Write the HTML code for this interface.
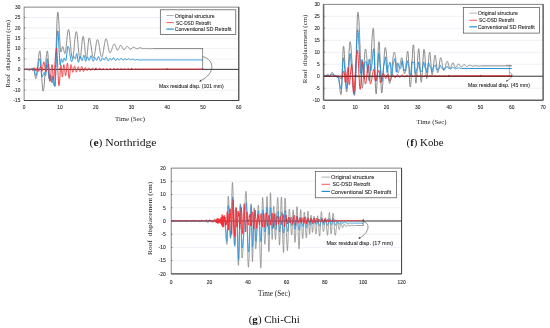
<!DOCTYPE html>
<html><head><meta charset="utf-8"><title>Roof displacement time histories</title>
<style>
html,body{margin:0;padding:0;background:#fff}
svg{display:block}
.sn{font-family:"Liberation Sans",sans-serif;fill:#1c1c1c;stroke:#1c1c1c;stroke-width:.08px}
.sf{font-family:"Liberation Serif",serif;fill:#222}
.cap{fill:#111}
</style></head><body>
<svg width="550" height="328" viewBox="0 0 550 328">
<rect width="550" height="328" fill="#fff"/>
<line x1="24.1" y1="90.12" x2="238.8" y2="90.12" stroke="#e6ebf4" stroke-width="0.7"/>
<line x1="24.1" y1="79.74" x2="238.8" y2="79.74" stroke="#e6ebf4" stroke-width="0.7"/>
<line x1="24.1" y1="58.99" x2="238.8" y2="58.99" stroke="#e6ebf4" stroke-width="0.7"/>
<line x1="24.1" y1="48.61" x2="238.8" y2="48.61" stroke="#e6ebf4" stroke-width="0.7"/>
<line x1="24.1" y1="38.23" x2="238.8" y2="38.23" stroke="#e6ebf4" stroke-width="0.7"/>
<line x1="24.1" y1="27.86" x2="238.8" y2="27.86" stroke="#e6ebf4" stroke-width="0.7"/>
<line x1="24.1" y1="17.48" x2="238.8" y2="17.48" stroke="#e6ebf4" stroke-width="0.7"/>
<line x1="24.1" y1="69.37" x2="238.8" y2="69.37" stroke="#1c1c1c" stroke-width="0.9"/>
<polyline points="24.1,69.4 24.2,69.4 24.4,69.4 24.5,69.3 24.7,69.3 24.8,69.3 24.9,69.3 25.1,69.3 25.2,69.3 25.4,69.2 25.5,69.2 25.7,69.2 25.8,69.2 25.9,69.1 26.1,69.1 26.2,69.1 26.4,69.1 26.5,69.1 26.6,69.1 26.8,69.1 26.9,69.1 27.1,69.1 27.2,69.1 27.3,69.2 27.5,69.2 27.6,69.3 27.8,69.4 27.9,69.4 28.1,69.5 28.2,69.6 28.3,69.6 28.5,69.7 28.6,69.8 28.8,69.8 28.9,69.9 29.0,69.9 29.2,70.0 29.3,70.0 29.5,70.0 29.6,70.0 29.7,70.0 29.9,69.9 30.0,69.9 30.2,69.8 30.3,69.8 30.5,69.7 30.6,69.6 30.7,69.6 30.9,69.5 31.0,69.4 31.2,69.3 31.3,69.2 31.4,69.1 31.6,69.0 31.7,68.8 31.9,68.7 32.0,68.7 32.1,68.6 32.3,68.5 32.4,68.4 32.6,68.3 32.7,68.3 32.8,68.2 33.0,68.2 33.1,68.1 33.3,68.1 33.4,68.1 33.6,68.2 33.7,68.5 33.8,68.9 34.0,69.5 34.1,70.2 34.3,71.1 34.4,72.0 34.6,72.9 34.7,73.9 34.9,74.9 35.0,75.8 35.2,76.6 35.3,77.3 35.5,77.9 35.6,78.3 35.8,78.6 35.9,78.7 36.0,78.6 36.2,78.4 36.3,77.9 36.5,77.3 36.6,76.6 36.8,75.7 36.9,74.6 37.0,73.5 37.2,72.2 37.3,70.8 37.5,69.4 37.6,67.9 37.7,66.4 37.9,64.8 38.0,63.2 38.2,61.7 38.3,60.2 38.4,58.8 38.6,57.4 38.7,56.1 38.9,55.0 39.0,53.9 39.1,53.0 39.3,52.3 39.4,51.7 39.6,51.2 39.7,51.0 39.8,50.9 40.0,51.1 40.1,51.7 40.3,52.7 40.4,54.1 40.6,55.8 40.7,57.8 40.9,60.1 41.0,62.7 41.2,65.4 41.3,68.2 41.5,71.0 41.6,73.9 41.7,76.7 41.9,79.4 42.0,81.9 42.2,84.2 42.3,86.2 42.5,88.0 42.6,89.3 42.8,90.3 42.9,91.0 43.1,91.2 43.2,91.0 43.4,90.7 43.5,90.2 43.6,89.4 43.8,88.5 43.9,87.3 44.1,86.0 44.2,84.5 44.4,82.9 44.5,81.1 44.6,79.2 44.8,77.2 44.9,75.2 45.1,73.1 45.2,71.0 45.4,68.9 45.5,66.8 45.6,64.8 45.8,62.8 45.9,61.0 46.1,59.2 46.2,57.6 46.4,56.1 46.5,54.7 46.6,53.6 46.8,52.6 46.9,51.9 47.1,51.3 47.2,51.0 47.4,50.9 47.5,51.1 47.6,51.8 47.8,52.9 47.9,54.4 48.1,56.2 48.2,58.4 48.3,60.7 48.5,63.2 48.6,65.8 48.8,68.4 48.9,70.9 49.0,73.3 49.2,75.4 49.3,77.3 49.4,78.8 49.6,79.9 49.7,80.6 49.9,80.8 50.0,80.7 50.2,80.5 50.3,80.2 50.5,79.7 50.6,79.2 50.8,78.7 50.9,78.2 51.1,77.7 51.2,77.2 51.4,76.9 51.5,76.7 51.7,76.6 51.8,76.7 51.9,76.9 52.1,77.1 52.2,77.5 52.4,78.0 52.5,78.6 52.7,79.2 52.8,79.9 52.9,80.6 53.1,81.3 53.2,82.0 53.4,82.7 53.5,83.4 53.7,84.0 53.8,84.6 53.9,85.1 54.1,85.5 54.2,85.7 54.4,85.9 54.5,86.0 54.7,85.6 54.8,84.6 54.9,82.9 55.1,80.6 55.2,77.7 55.4,74.2 55.5,70.3 55.6,66.0 55.8,61.4 55.9,56.5 56.1,51.5 56.2,46.5 56.3,41.5 56.5,36.7 56.6,32.0 56.8,27.7 56.9,23.8 57.0,20.4 57.2,17.5 57.3,15.1 57.5,13.5 57.6,12.4 57.7,12.1 57.9,12.3 58.0,12.8 58.2,13.7 58.3,15.0 58.4,16.6 58.6,18.4 58.7,20.6 58.9,22.9 59.0,25.4 59.1,28.0 59.3,30.7 59.4,33.5 59.6,36.2 59.7,38.8 59.8,41.3 60.0,43.7 60.1,45.8 60.3,47.6 60.4,49.2 60.5,50.5 60.7,51.4 60.8,52.0 61.0,52.1 61.1,52.0 61.3,51.8 61.4,51.3 61.6,50.7 61.7,50.1 61.9,49.3 62.0,48.6 62.1,47.9 62.3,47.4 62.4,46.9 62.6,46.6 62.7,46.5 62.9,46.6 63.0,46.8 63.2,47.2 63.3,47.7 63.5,48.3 63.6,49.0 63.7,49.7 63.9,50.4 64.0,51.2 64.2,51.8 64.3,52.4 64.5,52.9 64.6,53.3 64.7,53.5 64.9,53.6 65.0,53.5 65.2,53.2 65.3,52.7 65.5,52.1 65.6,51.3 65.8,50.3 65.9,49.2 66.0,48.0 66.2,46.7 66.3,45.3 66.5,43.8 66.6,42.3 66.8,40.8 66.9,39.3 67.0,37.8 67.2,36.4 67.3,35.1 67.5,33.9 67.6,32.8 67.8,31.8 67.9,31.0 68.0,30.4 68.2,29.9 68.3,29.6 68.5,29.5 68.6,29.6 68.8,29.9 68.9,30.4 69.1,31.1 69.2,31.9 69.3,32.9 69.5,34.0 69.6,35.3 69.8,36.7 69.9,38.2 70.1,39.8 70.2,41.4 70.4,43.1 70.5,44.8 70.7,46.4 70.8,48.1 70.9,49.7 71.1,51.2 71.2,52.6 71.4,53.8 71.5,55.0 71.7,56.0 71.8,56.8 72.0,57.5 72.1,58.0 72.3,58.3 72.4,58.4 72.6,58.3 72.7,58.0 72.8,57.6 73.0,56.9 73.1,56.2 73.3,55.2 73.4,54.2 73.6,53.0 73.7,51.7 73.9,50.3 74.0,48.8 74.2,47.3 74.3,45.8 74.4,44.2 74.6,42.7 74.7,41.1 74.9,39.7 75.0,38.3 75.2,37.0 75.3,35.8 75.5,34.7 75.6,33.8 75.8,33.0 75.9,32.4 76.1,32.0 76.2,31.7 76.3,31.6 76.5,31.7 76.6,32.0 76.8,32.6 76.9,33.3 77.1,34.2 77.2,35.3 77.3,36.6 77.5,38.0 77.6,39.5 77.8,41.1 77.9,42.7 78.1,44.4 78.2,46.2 78.3,47.9 78.5,49.5 78.6,51.1 78.8,52.6 78.9,54.0 79.1,55.3 79.2,56.4 79.3,57.3 79.5,58.0 79.6,58.6 79.8,58.9 79.9,59.0 80.1,58.9 80.2,58.6 80.3,58.1 80.5,57.3 80.6,56.5 80.8,55.4 80.9,54.2 81.0,52.9 81.2,51.5 81.3,50.0 81.5,48.4 81.6,46.9 81.7,45.4 81.9,43.9 82.0,42.5 82.2,41.2 82.3,40.0 82.4,38.9 82.6,38.0 82.7,37.3 82.9,36.8 83.0,36.5 83.1,36.4 83.3,36.5 83.4,36.8 83.6,37.4 83.7,38.1 83.9,39.1 84.0,40.2 84.2,41.4 84.3,42.8 84.5,44.3 84.6,45.8 84.8,47.4 84.9,48.9 85.0,50.5 85.2,51.9 85.3,53.3 85.5,54.6 85.6,55.7 85.8,56.6 85.9,57.4 86.1,57.9 86.2,58.3 86.4,58.4 86.5,58.2 86.6,57.9 86.8,57.3 86.9,56.4 87.1,55.4 87.2,54.2 87.4,52.8 87.5,51.3 87.7,49.8 87.8,48.2 87.9,46.6 88.1,45.1 88.2,43.6 88.4,42.2 88.5,41.0 88.7,40.0 88.8,39.1 88.9,38.5 89.1,38.2 89.2,38.0 89.4,38.1 89.5,38.2 89.7,38.5 89.8,38.9 89.9,39.4 90.1,39.9 90.2,40.6 90.4,41.3 90.5,42.1 90.7,43.0 90.8,43.9 90.9,44.9 91.1,45.9 91.2,46.9 91.4,48.0 91.5,49.0 91.7,50.1 91.8,51.1 91.9,52.0 92.1,53.0 92.2,53.8 92.4,54.7 92.5,55.4 92.7,56.0 92.8,56.6 92.9,57.1 93.1,57.5 93.2,57.7 93.4,57.9 93.5,58.0 93.7,57.9 93.8,57.7 93.9,57.4 94.1,57.0 94.2,56.6 94.4,56.0 94.5,55.3 94.6,54.5 94.8,53.7 94.9,52.8 95.1,51.8 95.2,50.9 95.3,49.8 95.5,48.8 95.6,47.8 95.8,46.8 95.9,45.8 96.1,44.9 96.2,44.0 96.3,43.1 96.5,42.4 96.6,41.7 96.8,41.1 96.9,40.6 97.0,40.2 97.2,39.9 97.3,39.7 97.5,39.7 97.6,39.7 97.7,39.9 97.9,40.1 98.0,40.4 98.2,40.8 98.3,41.3 98.5,41.9 98.6,42.5 98.7,43.2 98.9,44.0 99.0,44.8 99.2,45.6 99.3,46.5 99.5,47.4 99.6,48.3 99.7,49.2 99.9,50.1 100.0,51.0 100.2,51.8 100.3,52.6 100.5,53.4 100.6,54.1 100.7,54.7 100.9,55.3 101.0,55.8 101.2,56.2 101.3,56.5 101.5,56.7 101.6,56.9 101.7,56.9 101.9,56.9 102.0,56.7 102.2,56.5 102.3,56.1 102.5,55.7 102.6,55.2 102.8,54.6 102.9,53.9 103.0,53.2 103.2,52.4 103.3,51.6 103.5,50.7 103.6,49.8 103.8,48.8 103.9,47.9 104.0,46.9 104.2,46.0 104.3,45.1 104.5,44.2 104.6,43.4 104.8,42.6 104.9,41.8 105.0,41.2 105.2,40.6 105.3,40.1 105.5,39.6 105.6,39.3 105.8,39.1 105.9,38.9 106.0,38.9 106.2,38.9 106.3,39.0 106.5,39.2 106.6,39.5 106.7,39.9 106.9,40.4 107.0,40.9 107.2,41.5 107.3,42.1 107.4,42.8 107.6,43.5 107.7,44.3 107.9,45.0 108.0,45.8 108.2,46.6 108.3,47.4 108.4,48.1 108.6,48.8 108.7,49.5 108.9,50.1 109.0,50.7 109.1,51.2 109.3,51.7 109.4,52.1 109.6,52.4 109.7,52.6 109.8,52.7 110.0,52.8 110.1,52.7 110.3,52.7 110.4,52.5 110.6,52.4 110.7,52.2 110.8,51.9 111.0,51.6 111.1,51.3 111.3,51.0 111.4,50.6 111.6,50.2 111.7,49.8 111.8,49.3 112.0,48.9 112.1,48.4 112.3,47.9 112.4,47.5 112.6,47.1 112.7,46.6 112.8,46.2 113.0,45.8 113.1,45.5 113.3,45.2 113.4,44.9 113.6,44.6 113.7,44.4 113.8,44.3 114.0,44.1 114.1,44.1 114.3,44.0 114.4,44.1 114.6,44.2 114.7,44.3 114.8,44.5 115.0,44.7 115.1,45.0 115.3,45.3 115.4,45.7 115.5,46.0 115.7,46.4 115.8,46.8 116.0,47.3 116.1,47.7 116.2,48.1 116.4,48.4 116.5,48.8 116.7,49.1 116.8,49.4 116.9,49.6 117.1,49.8 117.2,50.0 117.4,50.0 117.5,50.1 117.6,50.0 117.8,50.0 117.9,49.8 118.1,49.7 118.2,49.5 118.4,49.2 118.5,49.0 118.7,48.7 118.8,48.3 119.0,48.0 119.1,47.7 119.3,47.3 119.4,47.0 119.5,46.7 119.7,46.4 119.8,46.1 120.0,45.9 120.1,45.7 120.3,45.5 120.4,45.4 120.6,45.3 120.7,45.3 120.9,45.3 121.0,45.4 121.2,45.5 121.3,45.6 121.4,45.8 121.6,46.0 121.7,46.3 121.9,46.6 122.0,46.9 122.2,47.2 122.3,47.5 122.5,47.8 122.6,48.1 122.8,48.4 122.9,48.6 123.1,48.9 123.2,49.1 123.3,49.3 123.5,49.5 123.6,49.6 123.8,49.6 123.9,49.6 124.1,49.6 124.2,49.6 124.4,49.5 124.5,49.4 124.6,49.3 124.8,49.1 124.9,48.9 125.1,48.8 125.2,48.5 125.3,48.3 125.5,48.1 125.6,47.9 125.8,47.7 125.9,47.4 126.0,47.2 126.2,47.0 126.3,46.9 126.5,46.7 126.6,46.6 126.7,46.5 126.9,46.4 127.0,46.3 127.2,46.3 127.3,46.3 127.4,46.4 127.6,46.5 127.7,46.6 127.9,46.7 128.0,46.8 128.2,47.0 128.3,47.2 128.5,47.4 128.6,47.6 128.8,47.8 128.9,48.0 129.1,48.2 129.2,48.4 129.4,48.6 129.5,48.7 129.6,48.9 129.8,49.0 129.9,49.1 130.1,49.2 130.2,49.2 130.4,49.2 130.5,49.2 130.7,49.2 130.8,49.1 130.9,49.1 131.1,49.0 131.2,48.9 131.4,48.8 131.5,48.7 131.6,48.5 131.8,48.4 131.9,48.3 132.1,48.1 132.2,48.0 132.3,47.8 132.5,47.7 132.6,47.6 132.8,47.5 132.9,47.4 133.0,47.3 133.2,47.2 133.3,47.2 133.5,47.2 133.6,47.2 133.7,47.2 133.9,47.2 134.0,47.2 134.2,47.3 134.3,47.4 134.5,47.4 134.6,47.5 134.8,47.6 134.9,47.8 135.1,47.9 135.2,48.0 135.4,48.1 135.5,48.2 135.6,48.3 135.8,48.4 135.9,48.5 136.1,48.6 136.2,48.7 136.4,48.7 136.5,48.8 136.7,48.8 136.8,48.8 137.0,48.8 137.1,48.8 137.3,48.8 137.4,48.7 137.5,48.7 137.7,48.6 137.8,48.6 138.0,48.5 138.1,48.4 138.3,48.4 138.4,48.3 138.6,48.2 138.7,48.2 138.9,48.1 139.0,48.0 139.2,48.0 139.3,47.9 139.5,47.9 139.6,47.8 139.7,47.8 139.9,47.8 140.0,47.8 140.2,47.8 140.3,47.8 140.5,47.8 140.6,47.8 140.8,47.9 140.9,47.9 141.1,48.0 141.2,48.0 141.4,48.1 141.5,48.1 141.6,48.2 141.8,48.3 141.9,48.3 142.1,48.4 142.2,48.4 142.4,48.5 142.5,48.5 142.7,48.5 142.8,48.6 143.0,48.6 143.1,48.6 143.3,48.6 143.4,48.6 143.5,48.6 143.7,48.6 143.8,48.6 144.0,48.6 144.1,48.6 144.2,48.6 144.4,48.6 144.5,48.5 144.7,48.5 144.8,48.5 144.9,48.5 145.1,48.5 145.2,48.5 145.4,48.5 145.5,48.4 145.6,48.4 145.8,48.4 145.9,48.4 146.1,48.4 146.2,48.4 146.3,48.4 146.5,48.4 146.6,48.4 146.8,48.4 146.9,48.4 147.1,48.4 147.2,48.4 147.4,48.5 147.5,48.5 147.7,48.5 147.8,48.5 147.9,48.5 148.1,48.6 148.2,48.6 148.4,48.6 148.5,48.6 148.7,48.6 148.8,48.7 149.0,48.7 149.1,48.7 149.3,48.7 149.4,48.7 149.6,48.7 149.7,48.7 149.8,48.7 150.0,48.7 150.1,48.7 150.3,48.7 150.4,48.7 150.6,48.7 150.7,48.7 150.9,48.7 151.0,48.7 151.2,48.7 151.3,48.7 151.5,48.7 151.6,48.6 151.7,48.6 151.9,48.6 152.0,48.6 152.2,48.6 152.3,48.6 152.5,48.6 152.6,48.6 152.8,48.6 152.9,48.6 203.0,48.6" fill="none" stroke="#7a7a7a" stroke-width="0.9" stroke-linejoin="round"/>
<polyline points="24.1,69.4 24.2,69.4 24.4,69.4 24.5,69.4 24.7,69.4 24.8,69.4 24.9,69.4 25.1,69.4 25.2,69.4 25.4,69.4 25.5,69.4 25.7,69.4 25.8,69.5 25.9,69.5 26.1,69.5 26.2,69.5 26.4,69.5 26.5,69.5 26.6,69.6 26.8,69.6 26.9,69.6 27.1,69.6 27.2,69.6 27.3,69.6 27.5,69.7 27.6,69.7 27.8,69.7 27.9,69.7 28.1,69.7 28.2,69.7 28.3,69.7 28.5,69.7 28.6,69.8 28.8,69.8 28.9,69.8 29.0,69.8 29.2,69.8 29.3,69.8 29.5,69.8 29.6,69.8 29.7,69.8 29.9,69.7 30.0,69.7 30.2,69.7 30.3,69.6 30.5,69.6 30.6,69.5 30.7,69.5 30.9,69.4 31.0,69.4 31.2,69.3 31.3,69.2 31.4,69.2 31.6,69.1 31.7,69.0 31.9,69.0 32.0,68.9 32.1,68.8 32.3,68.8 32.4,68.7 32.6,68.7 32.7,68.6 32.8,68.6 33.0,68.6 33.1,68.6 33.3,68.5 33.4,68.5 33.6,68.6 33.7,68.8 33.8,69.1 34.0,69.5 34.1,69.9 34.3,70.5 34.4,71.1 34.6,71.7 34.7,72.4 34.9,73.0 35.0,73.6 35.2,74.2 35.3,74.7 35.5,75.1 35.6,75.4 35.8,75.5 35.9,75.6 36.0,75.5 36.2,75.4 36.3,75.1 36.5,74.8 36.6,74.3 36.8,73.8 36.9,73.1 37.0,72.4 37.2,71.7 37.3,70.8 37.5,70.0 37.6,69.1 37.7,68.1 37.9,67.2 38.0,66.2 38.2,65.3 38.3,64.4 38.4,63.5 38.6,62.7 38.7,61.9 38.9,61.2 39.0,60.6 39.1,60.1 39.3,59.6 39.4,59.3 39.6,59.0 39.7,58.8 39.8,58.8 40.0,59.0 40.1,59.6 40.3,60.5 40.4,61.8 40.6,63.3 40.7,65.1 40.8,67.0 41.0,68.9 41.1,70.7 41.3,72.5 41.4,74.0 41.6,75.3 41.7,76.3 41.8,76.8 42.0,77.0 42.1,77.0 42.3,76.8 42.4,76.6 42.6,76.3 42.7,75.9 42.9,75.5 43.0,75.0 43.1,74.5 43.3,74.1 43.4,73.6 43.6,73.2 43.7,72.9 43.9,72.7 44.0,72.5 44.1,72.5 44.3,72.6 44.4,72.8 44.6,73.1 44.7,73.6 44.9,74.0 45.0,74.5 45.1,75.0 45.3,75.3 45.4,75.5 45.6,75.6 45.7,75.3 45.9,74.5 46.0,73.1 46.2,71.4 46.3,69.4 46.5,67.2 46.6,65.0 46.8,63.0 46.9,61.2 47.1,59.9 47.2,59.1 47.4,58.8 47.5,59.1 47.7,60.1 47.8,61.8 48.0,63.9 48.1,66.3 48.3,69.0 48.4,71.6 48.6,74.0 48.7,76.1 48.9,77.8 49.0,78.8 49.1,79.1 49.3,79.0 49.4,78.7 49.6,78.2 49.7,77.6 49.9,76.9 50.0,76.3 50.2,75.7 50.3,75.2 50.4,74.9 50.6,74.8 50.7,75.0 50.9,75.5 51.0,76.4 51.2,77.6 51.3,78.8 51.4,80.1 51.6,81.2 51.7,82.1 51.9,82.7 52.0,82.9 52.2,82.5 52.3,81.6 52.5,80.3 52.6,78.8 52.8,77.5 52.9,76.5 53.1,76.2 53.2,76.4 53.4,76.9 53.5,77.7 53.7,78.8 53.8,80.1 54.0,81.4 54.1,82.7 54.3,84.0 54.4,85.1 54.6,85.9 54.7,86.4 54.9,86.6 55.0,86.3 55.2,85.2 55.3,83.6 55.4,81.3 55.6,78.4 55.7,75.1 55.9,71.4 56.0,67.3 56.2,63.0 56.3,58.7 56.4,54.3 56.6,50.1 56.7,46.0 56.9,42.3 57.0,38.9 57.2,36.1 57.3,33.8 57.5,32.1 57.6,31.1 57.7,30.8 57.9,31.1 58.0,31.9 58.2,33.3 58.3,35.3 58.5,37.6 58.6,40.3 58.8,43.3 58.9,46.4 59.1,49.6 59.2,52.7 59.4,55.7 59.5,58.4 59.7,60.7 59.8,62.6 59.9,64.1 60.1,64.9 60.2,65.2 60.4,65.0 60.5,64.3 60.6,63.2 60.8,62.0 60.9,60.8 61.0,59.7 61.2,59.0 61.3,58.8 61.5,58.9 61.6,59.1 61.7,59.5 61.9,60.0 62.0,60.5 62.2,61.1 62.3,61.6 62.5,62.0 62.6,62.2 62.7,62.3 62.9,62.2 63.0,61.9 63.2,61.4 63.3,60.8 63.5,60.1 63.6,59.5 63.7,58.8 63.9,58.4 64.0,58.1 64.2,58.0 64.3,58.0 64.5,58.2 64.6,58.6 64.7,59.0 64.9,59.4 65.0,59.9 65.2,60.3 65.3,60.6 65.5,60.8 65.6,60.9 65.7,60.7 65.9,60.4 66.0,59.9 66.2,59.1 66.3,58.2 66.4,57.2 66.6,56.0 66.7,54.8 66.9,53.5 67.0,52.2 67.1,51.0 67.3,49.8 67.4,48.8 67.6,47.8 67.7,47.1 67.8,46.6 68.0,46.2 68.1,46.1 68.3,46.2 68.4,46.4 68.5,46.7 68.7,47.1 68.8,47.6 69.0,48.2 69.1,48.9 69.3,49.7 69.4,50.6 69.5,51.5 69.7,52.4 69.8,53.4 70.0,54.4 70.1,55.4 70.3,56.3 70.4,57.2 70.5,58.1 70.7,58.9 70.8,59.6 71.0,60.2 71.1,60.7 71.3,61.1 71.4,61.4 71.5,61.6 71.7,61.7 71.8,61.6 72.0,61.5 72.1,61.2 72.3,60.8 72.4,60.4 72.6,59.9 72.7,59.4 72.8,58.8 73.0,58.3 73.1,57.8 73.3,57.4 73.4,57.0 73.6,56.7 73.7,56.6 73.8,56.5 74.0,56.6 74.1,56.7 74.3,57.0 74.4,57.3 74.6,57.6 74.7,58.0 74.8,58.3 75.0,58.6 75.1,58.7 75.3,58.8 75.4,58.7 75.6,58.3 75.7,57.7 75.8,57.0 76.0,56.2 76.1,55.4 76.3,54.7 76.4,54.1 76.6,53.7 76.7,53.6 76.9,53.7 77.0,54.2 77.1,54.9 77.3,55.8 77.4,56.8 77.6,58.0 77.7,59.1 77.9,60.1 78.0,61.0 78.2,61.7 78.3,62.2 78.5,62.3 78.6,62.2 78.8,61.9 78.9,61.4 79.1,60.8 79.2,60.1 79.4,59.3 79.5,58.5 79.7,57.8 79.8,57.2 80.0,56.7 80.1,56.4 80.3,56.3 80.4,56.4 80.6,56.6 80.7,56.9 80.9,57.4 81.0,57.9 81.2,58.5 81.3,59.0 81.5,59.6 81.6,60.0 81.8,60.4 81.9,60.6 82.1,60.6 82.2,60.6 82.4,60.3 82.5,59.9 82.7,59.3 82.8,58.6 83.0,58.0 83.1,57.3 83.3,56.6 83.4,56.0 83.6,55.6 83.7,55.3 83.9,55.3 84.0,55.4 84.2,55.7 84.3,56.1 84.5,56.8 84.6,57.5 84.8,58.3 84.9,59.0 85.1,59.8 85.2,60.4 85.3,60.9 85.5,61.2 85.6,61.3 85.8,61.2 85.9,61.0 86.1,60.6 86.2,60.2 86.4,59.7 86.5,59.1 86.7,58.5 86.8,58.0 87.0,57.6 87.1,57.2 87.3,57.0 87.4,56.9 87.6,57.0 87.7,57.1 87.9,57.4 88.0,57.8 88.2,58.2 88.3,58.7 88.5,59.1 88.6,59.6 88.8,59.9 88.9,60.2 89.1,60.4 89.2,60.4 89.4,60.4 89.5,60.1 89.7,59.7 89.8,59.2 90.0,58.7 90.1,58.1 90.3,57.4 90.4,56.9 90.6,56.4 90.7,56.0 90.9,55.7 91.0,55.7 91.2,55.7 91.3,55.9 91.4,56.2 91.6,56.6 91.7,57.1 91.9,57.6 92.0,58.2 92.2,58.8 92.3,59.3 92.4,59.9 92.6,60.3 92.7,60.7 92.9,61.0 93.0,61.2 93.2,61.3 93.3,61.2 93.5,61.0 93.6,60.7 93.8,60.3 93.9,59.9 94.1,59.4 94.2,58.9 94.4,58.5 94.5,58.1 94.7,57.8 94.8,57.6 95.0,57.5 95.1,57.6 95.2,57.7 95.4,57.9 95.5,58.2 95.7,58.5 95.8,58.9 96.0,59.2 96.1,59.6 96.3,59.8 96.4,60.1 96.6,60.2 96.7,60.2 96.9,60.2 97.0,60.0 97.2,59.7 97.3,59.3 97.5,58.8 97.6,58.4 97.8,57.9 97.9,57.4 98.1,57.0 98.2,56.7 98.4,56.6 98.5,56.5 98.7,56.5 98.8,56.7 99.0,56.9 99.1,57.3 99.2,57.6 99.4,58.1 99.5,58.5 99.7,59.0 99.8,59.5 100.0,59.9 100.1,60.3 100.2,60.6 100.4,60.9 100.5,61.0 100.7,61.1 100.8,61.0 101.0,60.9 101.1,60.6 101.3,60.3 101.4,59.9 101.6,59.5 101.7,59.1 101.9,58.7 102.0,58.4 102.2,58.2 102.3,58.0 102.5,58.0 102.6,58.0 102.8,58.1 102.9,58.3 103.1,58.5 103.2,58.7 103.4,59.0 103.5,59.3 103.7,59.5 103.8,59.7 104.0,59.9 104.1,60.0 104.3,60.0 104.4,60.0 104.6,59.8 104.7,59.6 104.9,59.2 105.0,58.9 105.1,58.5 105.3,58.1 105.4,57.7 105.6,57.4 105.7,57.1 105.9,57.0 106.0,56.9 106.2,57.0 106.3,57.1 106.5,57.3 106.6,57.6 106.8,57.9 106.9,58.3 107.0,58.7 107.2,59.1 107.3,59.5 107.5,59.9 107.6,60.2 107.8,60.5 107.9,60.7 108.0,60.8 108.2,60.9 108.3,60.8 108.5,60.7 108.6,60.5 108.8,60.2 108.9,59.9 109.1,59.6 109.2,59.3 109.4,59.0 109.5,58.7 109.7,58.5 109.8,58.4 110.0,58.4 110.1,58.4 110.3,58.5 110.4,58.6 110.6,58.8 110.7,59.0 110.9,59.2 111.0,59.4 111.2,59.6 111.3,59.8 111.5,59.9 111.6,60.0 111.8,60.0 111.9,60.0 112.1,59.9 112.2,59.7 112.4,59.5 112.5,59.2 112.7,58.9 112.8,58.6 113.0,58.3 113.1,58.1 113.3,57.9 113.4,57.8 113.6,57.7 113.7,57.8 113.8,57.9 114.0,58.0 114.1,58.2 114.3,58.4 114.4,58.7 114.6,59.0 114.7,59.2 114.8,59.5 115.0,59.8 115.1,60.0 115.3,60.2 115.4,60.3 115.6,60.4 115.7,60.4 115.9,60.4 116.0,60.3 116.2,60.2 116.3,60.0 116.5,59.7 116.6,59.5 116.7,59.3 116.9,59.0 117.0,58.8 117.2,58.7 117.3,58.6 117.5,58.6 117.6,58.6 117.8,58.7 117.9,58.8 118.1,58.9 118.2,59.1 118.4,59.3 118.5,59.5 118.7,59.7 118.8,59.8 119.0,59.9 119.1,60.0 119.3,60.0 119.4,60.0 119.6,59.9 119.7,59.8 119.9,59.6 120.0,59.4 120.2,59.2 120.3,59.0 120.5,58.8 120.6,58.6 120.8,58.5 120.9,58.4 121.1,58.4 121.2,58.4 121.4,58.4 121.5,58.5 121.6,58.6 121.8,58.8 121.9,58.9 122.1,59.1 122.2,59.3 122.4,59.5 122.5,59.6 122.6,59.8 122.8,59.9 122.9,60.0 123.1,60.0 123.2,60.0 123.4,60.0 123.5,59.9 123.7,59.8 123.8,59.7 124.0,59.6 124.1,59.4 124.3,59.2 124.4,59.1 124.6,59.0 124.7,58.9 124.9,58.8 125.0,58.8 125.2,58.8 125.3,58.9 125.5,58.9 125.6,59.0 125.8,59.2 125.9,59.3 126.1,59.4 126.2,59.6 126.4,59.7 126.5,59.7 126.6,59.8 126.8,59.8 126.9,59.8 127.1,59.7 127.2,59.7 127.4,59.6 127.5,59.4 127.7,59.3 127.8,59.2 128.0,59.0 128.1,58.9 128.3,58.9 128.4,58.8 128.6,58.8 128.7,58.8 128.9,58.8 129.0,58.9 129.2,59.0 129.3,59.0 129.4,59.1 129.6,59.2 129.7,59.4 129.9,59.5 130.0,59.6 130.2,59.6 130.3,59.7 130.4,59.8 130.6,59.8 130.7,59.8 130.9,59.8 131.0,59.8 131.2,59.7 131.3,59.7 131.5,59.6 131.6,59.5 131.8,59.4 131.9,59.4 132.1,59.3 132.2,59.2 132.4,59.2 132.5,59.2 132.7,59.2 132.8,59.2 133.0,59.3 133.1,59.3 133.2,59.4 133.4,59.4 133.5,59.5 133.7,59.6 133.8,59.7 134.0,59.7 134.1,59.8 134.2,59.9 134.4,59.9 134.5,59.9 134.7,59.9 134.8,59.9 135.0,59.9 135.1,59.9 135.2,59.9 135.4,59.8 135.5,59.8 135.7,59.8 135.8,59.8 136.0,59.7 136.1,59.7 136.2,59.7 136.4,59.6 136.5,59.6 136.7,59.6 136.8,59.6 137.0,59.6 137.1,59.6 137.2,59.6 137.4,59.7 137.5,59.7 137.7,59.7 137.8,59.7 137.9,59.8 138.1,59.8 138.2,59.9 138.3,59.9 138.5,59.9 138.6,60.0 138.8,60.0 138.9,60.0 139.0,60.0 139.2,60.0 139.3,60.0 139.5,60.0 139.6,60.0 139.8,60.0 139.9,60.0 140.0,60.0 140.2,60.0 140.3,60.0 140.5,60.0 140.6,60.0 140.8,59.9 140.9,59.9 141.0,59.9 141.2,59.9 141.3,59.9 141.5,59.9 141.6,59.9 141.8,59.9 141.9,59.9 142.0,59.9 142.2,59.9 142.3,59.9 142.5,59.9 142.6,59.9 142.8,59.9 142.9,59.9 143.0,59.9 143.2,59.9 143.3,59.9 143.5,59.9 143.6,59.9 143.8,59.9 143.9,59.9 144.0,59.9 144.2,59.9 144.3,59.9 144.5,59.9 144.6,59.9 144.8,59.9 144.9,59.9 145.0,59.9 145.2,59.9 145.3,59.9 145.5,59.9 145.6,59.9 145.8,59.9 145.9,59.9 146.0,59.9 146.2,59.9 146.3,59.9 146.5,59.9 146.6,59.9 146.8,59.9 146.9,59.9 147.1,59.9 147.2,59.9 147.3,59.9 147.5,59.9 147.6,59.9 147.8,59.9 147.9,59.9 148.1,59.9 148.2,59.9 148.3,59.9 148.5,59.9 148.6,59.9 148.8,59.9 148.9,59.9 149.1,59.9 149.2,59.9 149.3,59.9 149.5,59.9 149.6,59.9 149.8,59.9 149.9,59.9 150.1,59.9 150.2,59.9 150.3,59.9 150.5,59.9 150.6,59.9 150.8,59.9 150.9,59.9 151.1,59.9 151.2,59.9 151.3,59.9 151.5,59.9 151.6,59.9 151.8,59.9 151.9,59.9 152.1,59.9 152.2,59.9 152.3,59.9 152.5,59.9 152.6,59.9 152.8,59.9 152.9,59.9 153.1,59.9 153.2,59.9 153.3,59.9 153.5,59.9 153.6,59.9 153.8,59.9 153.9,59.9 154.1,59.9 154.2,59.9 154.4,59.9 154.5,59.9 154.6,59.9 154.8,59.9 154.9,59.9 155.1,59.9 155.2,59.9 155.4,59.9 155.5,59.9 155.6,59.9 155.8,59.9 155.9,59.9 156.1,59.9 156.2,59.9 156.4,59.9 156.5,59.9 156.6,59.9 156.8,59.9 156.9,59.9 157.1,59.9 157.2,59.9 157.4,59.9 157.5,59.9 157.6,59.9 157.8,59.9 157.9,59.9 158.1,59.9 158.2,59.9 158.4,59.9 158.5,59.9 158.6,59.9 158.8,59.9 158.9,59.9 159.1,59.9 159.2,59.9 159.4,59.9 159.5,59.9 159.6,59.9 159.8,59.9 159.9,59.9 160.1,59.9 160.2,59.9 160.4,59.9 160.5,59.9 160.6,59.9 160.8,59.9 160.9,59.9 161.1,59.9 161.2,59.9 161.4,59.9 161.5,59.9 161.7,59.9 161.8,59.9 161.9,59.9 162.1,59.9 162.2,59.9 162.4,59.9 162.5,59.9 162.7,59.9 162.8,59.9 162.9,59.9 163.1,59.9 163.2,59.9 163.4,59.9 163.5,59.9 163.7,59.9 163.8,59.9 163.9,59.9 164.1,59.9 164.2,59.9 164.4,59.9 164.5,59.9 164.7,59.9 164.8,59.9 164.9,59.9 165.1,59.9 165.2,59.9 165.4,59.9 165.5,59.9 165.7,59.9 165.8,59.9 165.9,59.9 166.1,59.9 166.2,59.9 166.4,59.9 166.5,59.9 166.7,59.9 166.8,59.9 166.9,59.9 167.1,59.9 167.2,59.9 167.4,59.9 167.5,59.9 167.7,59.9 167.8,59.9 167.9,59.9 168.1,59.9 168.2,59.9 168.4,59.9 168.5,59.9 168.7,59.9 168.8,59.9 169.0,59.9 169.1,59.9 169.2,59.9 169.4,59.9 169.5,59.9 169.7,59.9 169.8,59.9 170.0,59.9 170.1,59.9 170.2,59.9 170.4,59.9 170.5,59.9 170.7,59.9 170.8,59.9 171.0,59.9 171.1,59.9 171.2,59.9 171.4,59.9 171.5,59.9 171.7,59.9 171.8,59.9 172.0,59.9 172.1,59.9 172.2,59.9 172.4,59.9 172.5,59.9 172.7,59.9 172.8,59.9 173.0,59.9 173.1,59.9 173.2,59.9 173.4,59.9 173.5,59.9 173.7,59.9 173.8,59.9 174.0,59.9 174.1,59.9 174.2,59.9 174.4,59.9 174.5,59.9 174.7,59.9 174.8,59.9 175.0,59.9 175.1,59.9 175.2,59.9 175.4,59.9 175.5,59.9 175.7,59.9 175.8,59.9 176.0,59.9 176.1,59.9 176.3,59.9 176.4,59.9 176.5,59.9 176.7,59.9 176.8,59.9 177.0,59.9 177.1,59.9 177.3,59.9 177.4,59.9 177.5,59.9 177.7,59.9 177.8,59.9 178.0,59.9 178.1,59.9 178.3,59.9 178.4,59.9 178.5,59.9 178.7,59.9 178.8,59.9 179.0,59.9 179.1,59.9 179.3,59.9 179.4,59.9 179.5,59.9 179.7,59.9 179.8,59.9 180.0,59.9 180.1,59.9 180.3,59.9 180.4,59.9 180.5,59.9 180.7,59.9 180.8,59.9 181.0,59.9 181.1,59.9 181.3,59.9 181.4,59.9 181.5,59.9 181.7,59.9 181.8,59.9 182.0,59.9 182.1,59.9 182.3,59.9 182.4,59.9 182.5,59.9 182.7,59.9 182.8,59.9 183.0,59.9 183.1,59.9 183.3,59.9 183.4,59.9 183.6,59.9 183.7,59.9 183.8,59.9 184.0,59.9 184.1,59.9 184.3,59.9 184.4,59.9 184.6,59.9 184.7,59.9 184.8,59.9 185.0,59.9 185.1,59.9 185.3,59.9 185.4,59.9 185.6,59.9 185.7,59.9 185.8,59.9 186.0,59.9 186.1,59.9 186.3,59.9 186.4,59.9 186.6,59.9 186.7,59.9 186.8,59.9 187.0,59.9 187.1,59.9 187.3,59.9 187.4,59.9 187.6,59.9 187.7,59.9 187.8,59.9 188.0,59.9 188.1,59.9 188.3,59.9 188.4,59.9 188.6,59.9 188.7,59.9 188.8,59.9 189.0,59.9 189.1,59.9 189.3,59.9 189.4,59.9 189.6,59.9 189.7,59.9 189.8,59.9 190.0,59.9 190.1,59.9 190.3,59.9 190.4,59.9 190.6,59.9 190.7,59.9 190.9,59.9 191.0,59.9 191.1,59.9 191.3,59.9 191.4,59.9 191.6,59.9 191.7,59.9 191.9,59.9 192.0,59.9 192.1,59.9 192.3,59.9 192.4,59.9 192.6,59.9 192.7,59.9 192.9,59.9 193.0,59.9 193.1,59.9 193.3,59.9 193.4,59.9 193.6,59.9 193.7,59.9 193.9,59.9 194.0,59.9 194.1,59.9 194.3,59.9 194.4,59.9 194.6,59.9 194.7,59.9 194.9,59.9 195.0,59.9 195.1,59.9 195.3,59.9 195.4,59.9 195.6,59.9 195.7,59.9 195.9,59.9 196.0,59.9 196.1,59.9 196.3,59.9 196.4,59.9 196.6,59.9 196.7,59.9 196.9,59.9 197.0,59.9 197.1,59.9 197.3,59.9 197.4,59.9 197.6,59.9 197.7,59.9 197.9,59.9 198.0,59.9 198.2,59.9 198.3,59.9 198.4,59.9 198.6,59.9 198.7,59.9 198.9,59.9 199.0,59.9 199.2,59.9 199.3,59.9 199.4,59.9 199.6,59.9 199.7,59.9 199.9,59.9 200.0,59.9 200.2,59.9 200.3,59.9 200.4,59.9 200.6,59.9 200.7,59.9 200.9,59.9 201.0,59.9 201.2,59.9 201.3,59.9 201.4,59.9 201.6,59.9 201.7,59.9 201.9,59.9 202.0,59.9 202.2,59.9 202.3,59.9 202.4,59.9 202.6,59.9 202.7,59.9 202.9,59.9 203.0,59.9" fill="none" stroke="#2390d6" stroke-width="1.0" stroke-linejoin="round"/>
<polyline points="24.1,69.4 24.2,69.4 24.4,69.4 24.5,69.4 24.7,69.4 24.8,69.4 25.0,69.4 25.1,69.3 25.2,69.3 25.4,69.3 25.5,69.3 25.7,69.3 25.8,69.3 26.0,69.3 26.1,69.3 26.2,69.3 26.4,69.3 26.5,69.3 26.7,69.2 26.8,69.2 27.0,69.2 27.1,69.2 27.2,69.2 27.4,69.2 27.5,69.2 27.7,69.2 27.8,69.1 28.0,69.1 28.1,69.1 28.3,69.1 28.4,69.1 28.5,69.1 28.7,69.1 28.8,69.1 29.0,69.0 29.1,69.0 29.3,69.0 29.4,69.0 29.5,69.0 29.7,69.0 29.8,69.0 30.0,69.0 30.1,69.0 30.3,69.0 30.4,69.0 30.5,69.0 30.7,69.0 30.8,69.0 31.0,69.0 31.1,69.0 31.3,69.0 31.4,69.0 31.6,69.1 31.7,69.2 31.9,69.4 32.0,69.6 32.2,69.8 32.3,70.0 32.4,70.2 32.6,70.4 32.7,70.5 32.9,70.6 33.0,70.6 33.2,70.5 33.3,70.3 33.5,70.0 33.6,69.6 33.8,69.2 33.9,68.7 34.0,68.3 34.2,68.0 34.3,67.8 34.5,67.7 34.6,67.8 34.8,68.0 34.9,68.4 35.0,68.9 35.2,69.5 35.3,70.0 35.5,70.5 35.6,70.9 35.8,71.1 35.9,71.2 36.1,71.1 36.2,70.9 36.3,70.4 36.5,69.9 36.6,69.3 36.8,68.7 36.9,68.1 37.1,67.7 37.2,67.4 37.3,67.3 37.5,67.4 37.6,67.7 37.8,68.1 37.9,68.7 38.1,69.4 38.2,70.0 38.3,70.6 38.5,71.0 38.6,71.3 38.8,71.4 38.9,71.4 39.1,71.1 39.2,70.7 39.4,70.1 39.5,69.5 39.7,68.8 39.8,68.2 40.0,67.6 40.1,67.0 40.3,66.6 40.4,66.3 40.6,66.3 40.7,66.4 40.8,66.7 41.0,67.3 41.1,68.0 41.3,68.8 41.4,69.6 41.6,70.4 41.7,70.9 41.8,71.3 42.0,71.4 42.1,71.3 42.3,70.8 42.4,70.0 42.6,69.0 42.7,67.8 42.9,66.6 43.0,65.3 43.2,64.1 43.3,63.1 43.5,62.3 43.6,61.9 43.8,61.7 43.9,61.8 44.1,62.1 44.2,62.7 44.4,63.4 44.5,64.2 44.6,65.2 44.8,66.2 44.9,67.3 45.1,68.3 45.2,69.3 45.4,70.2 45.5,70.9 45.6,71.4 45.8,71.7 45.9,71.9 46.1,71.8 46.2,71.6 46.3,71.3 46.5,70.9 46.6,70.4 46.8,69.8 46.9,69.2 47.0,68.5 47.2,67.8 47.3,67.1 47.5,66.4 47.6,65.8 47.7,65.2 47.9,64.7 48.0,64.3 48.2,64.0 48.3,63.8 48.4,63.8 48.6,64.2 48.7,65.4 48.9,67.4 49.0,69.9 49.1,72.6 49.3,75.3 49.4,77.8 49.6,79.7 49.7,81.0 49.9,81.4 50.0,81.2 50.2,80.7 50.3,79.8 50.4,78.6 50.6,77.2 50.7,75.6 50.9,73.9 51.0,72.1 51.2,70.4 51.3,68.8 51.4,67.4 51.6,66.2 51.7,65.3 51.9,64.8 52.0,64.6 52.2,64.9 52.3,66.0 52.4,67.6 52.6,69.6 52.7,71.9 52.9,74.1 53.0,76.1 53.2,77.7 53.3,78.8 53.4,79.1 53.6,78.9 53.7,78.4 53.9,77.6 54.0,76.4 54.2,75.0 54.3,73.3 54.5,71.4 54.6,69.3 54.7,67.1 54.9,64.8 55.0,62.5 55.2,60.2 55.3,58.0 55.5,55.9 55.6,54.0 55.8,52.3 55.9,50.9 56.0,49.7 56.2,48.9 56.3,48.4 56.5,48.2 56.6,48.5 56.8,49.5 56.9,51.0 57.1,53.1 57.2,55.7 57.4,58.6 57.5,61.8 57.7,65.2 57.8,68.7 58.0,72.1 58.1,75.4 58.3,78.3 58.4,80.9 58.5,83.0 58.7,84.5 58.8,85.4 59.0,85.8 59.1,85.5 59.3,84.7 59.4,83.5 59.6,81.9 59.7,79.9 59.8,77.8 60.0,75.5 60.1,73.2 60.3,71.0 60.4,69.1 60.5,67.5 60.7,66.2 60.8,65.5 61.0,65.2 61.1,65.5 61.2,66.3 61.4,67.7 61.5,69.3 61.7,71.1 61.8,73.0 62.0,74.6 62.1,75.9 62.2,76.8 62.4,77.0 62.5,76.7 62.7,75.9 62.8,74.5 63.0,72.7 63.1,70.8 63.2,68.9 63.4,67.2 63.5,65.8 63.7,64.9 63.8,64.6 64.0,64.8 64.1,65.3 64.3,66.2 64.4,67.3 64.6,68.7 64.7,70.1 64.9,71.5 65.0,72.8 65.2,74.0 65.3,74.9 65.5,75.4 65.6,75.6 65.8,75.4 65.9,74.8 66.1,73.8 66.2,72.5 66.4,71.0 66.5,69.4 66.7,67.8 66.8,66.3 67.0,65.0 67.1,64.0 67.2,63.4 67.4,63.1 67.5,63.4 67.7,64.2 67.8,65.4 68.0,67.0 68.1,68.8 68.3,70.8 68.4,72.8 68.6,74.7 68.7,76.2 68.9,77.5 69.0,78.2 69.2,78.5 69.3,78.3 69.5,77.6 69.6,76.5 69.8,75.0 69.9,73.3 70.1,71.5 70.2,69.7 70.4,68.1 70.5,66.6 70.7,65.5 70.8,64.8 71.0,64.6 71.1,64.7 71.3,65.1 71.4,65.7 71.6,66.5 71.7,67.4 71.9,68.4 72.0,69.4 72.2,70.4 72.3,71.1 72.5,71.8 72.6,72.1 72.8,72.3 72.9,72.2 73.1,71.8 73.2,71.3 73.4,70.7 73.5,69.9 73.7,69.1 73.8,68.3 74.0,67.5 74.1,66.9 74.3,66.4 74.4,66.1 74.6,65.9 74.7,66.0 74.9,66.4 75.0,66.9 75.2,67.5 75.3,68.3 75.4,69.1 75.6,69.9 75.7,70.6 75.9,71.3 76.0,71.8 76.2,72.1 76.3,72.2 76.5,72.1 76.6,71.8 76.8,71.4 76.9,70.8 77.1,70.2 77.2,69.5 77.4,68.8 77.5,68.1 77.7,67.6 77.8,67.1 78.0,66.9 78.1,66.8 78.3,66.8 78.4,67.1 78.6,67.4 78.7,67.9 78.9,68.5 79.0,69.1 79.2,69.7 79.3,70.3 79.5,70.8 79.6,71.2 79.8,71.4 79.9,71.5 80.1,71.4 80.2,71.2 80.3,70.8 80.5,70.4 80.6,69.9 80.7,69.3 80.9,68.7 81.0,68.1 81.2,67.5 81.3,67.1 81.4,66.7 81.6,66.5 81.7,66.5 81.9,66.5 82.0,66.8 82.2,67.2 82.3,67.7 82.5,68.3 82.6,69.0 82.8,69.6 82.9,70.2 83.1,70.8 83.2,71.2 83.4,71.4 83.5,71.5 83.6,71.4 83.8,71.2 83.9,70.9 84.1,70.5 84.2,70.0 84.4,69.5 84.5,69.0 84.7,68.5 84.8,68.1 85.0,67.8 85.1,67.6 85.3,67.6 85.4,67.6 85.6,67.8 85.7,68.0 85.9,68.3 86.0,68.7 86.2,69.1 86.3,69.4 86.5,69.8 86.6,70.1 86.8,70.3 86.9,70.5 87.1,70.5 87.2,70.5 87.4,70.4 87.5,70.1 87.7,69.9 87.8,69.5 88.0,69.2 88.1,68.8 88.3,68.5 88.4,68.3 88.6,68.0 88.7,67.9 88.9,67.9 89.0,67.9 89.2,68.0 89.3,68.2 89.5,68.5 89.6,68.8 89.8,69.2 89.9,69.5 90.1,69.8 90.2,70.1 90.4,70.3 90.5,70.4 90.7,70.5 90.8,70.4 91.0,70.3 91.1,70.1 91.3,69.9 91.4,69.6 91.6,69.3 91.7,69.0 91.8,68.7 92.0,68.4 92.1,68.2 92.3,68.1 92.4,68.1 92.6,68.1 92.7,68.2 92.9,68.4 93.0,68.6 93.2,68.9 93.3,69.2 93.5,69.5 93.6,69.7 93.8,69.9 93.9,70.1 94.1,70.2 94.2,70.3 94.4,70.2 94.5,70.1 94.7,69.9 94.8,69.7 95.0,69.4 95.1,69.1 95.3,68.8 95.4,68.5 95.6,68.2 95.7,68.0 95.9,67.9 96.0,67.9 96.2,67.9 96.3,68.0 96.5,68.2 96.6,68.4 96.8,68.7 96.9,68.9 97.1,69.2 97.2,69.5 97.4,69.7 97.5,69.9 97.7,70.0 97.8,70.0 98.0,70.0 98.1,69.9 98.3,69.7 98.4,69.5 98.6,69.3 98.7,69.0 98.9,68.8 99.0,68.5 99.2,68.3 99.3,68.2 99.5,68.1 99.6,68.0 99.8,68.1 99.9,68.2 100.1,68.3 100.2,68.5 100.3,68.8 100.5,69.0 100.6,69.3 100.8,69.5 100.9,69.7 101.1,69.9 101.2,70.0 101.4,70.0 101.5,70.0 101.7,69.9 101.8,69.8 102.0,69.6 102.1,69.4 102.3,69.2 102.4,69.0 102.6,68.8 102.7,68.7 102.9,68.6 103.0,68.5 103.2,68.5 103.3,68.5 103.5,68.6 103.6,68.7 103.8,68.8 103.9,69.0 104.1,69.2 104.2,69.3 104.4,69.5 104.5,69.6 104.7,69.7 104.8,69.8 105.0,69.8 105.1,69.8 105.3,69.7 105.4,69.6 105.6,69.5 105.7,69.3 105.9,69.2 106.0,69.0 106.2,68.8 106.3,68.7 106.5,68.6 106.6,68.5 106.8,68.5 106.9,68.5 107.1,68.6 107.2,68.7 107.4,68.8 107.5,68.9 107.7,69.1 107.8,69.2 108.0,69.4 108.1,69.5 108.3,69.6 108.4,69.7 108.5,69.7 108.7,69.7 108.8,69.6 109.0,69.5 109.1,69.4 109.3,69.3 109.4,69.1 109.6,69.0 109.7,68.8 109.9,68.7 110.0,68.6 110.2,68.6 110.3,68.6 110.5,68.6 110.6,68.6 110.8,68.7 110.9,68.8 111.1,69.0 111.2,69.1 111.4,69.3 111.5,69.4 111.7,69.5 111.8,69.6 112.0,69.6 112.1,69.7 112.3,69.6 112.4,69.6 112.6,69.5 112.7,69.4 112.9,69.3 113.0,69.1 113.2,69.0 113.3,68.9 113.5,68.8 113.6,68.7 113.8,68.6 113.9,68.6 114.1,68.6 114.2,68.7 114.4,68.7 114.5,68.8 114.7,68.9 114.8,69.0 115.0,69.1 115.1,69.2 115.3,69.3 115.4,69.4 115.6,69.4 115.7,69.4 115.9,69.4 116.0,69.4 116.2,69.3 116.3,69.2 116.5,69.2 116.6,69.1 116.7,68.9 116.9,68.9 117.0,68.8 117.2,68.7 117.3,68.7 117.5,68.7 117.6,68.7 117.8,68.7 117.9,68.8 118.1,68.9 118.2,69.0 118.4,69.1 118.5,69.2 118.7,69.3 118.8,69.4 119.0,69.5 119.1,69.5 119.3,69.5 119.4,69.5 119.6,69.5 119.7,69.4 119.9,69.3 120.0,69.2 120.2,69.1 120.3,69.0 120.5,68.9 120.6,68.9 120.8,68.8 120.9,68.8 121.1,68.8 121.2,68.8 121.4,68.8 121.5,68.8 121.7,68.9 121.8,69.0 122.0,69.1 122.1,69.1 122.3,69.2 122.4,69.3 122.6,69.3 122.7,69.3 122.9,69.4 123.0,69.3 123.2,69.3 123.3,69.3 123.5,69.2 123.6,69.1 123.8,69.1 123.9,69.0 124.1,68.9 124.2,68.9 124.4,68.8 124.5,68.8 124.7,68.8 124.8,68.8 124.9,68.8 125.1,68.9 125.2,68.9 125.4,69.0 125.5,69.1 125.7,69.2 125.8,69.3 126.0,69.3 126.1,69.4 126.3,69.4 126.4,69.4 126.6,69.4 126.7,69.4 126.9,69.3 127.0,69.2 127.2,69.2 127.3,69.1 127.5,69.0 127.6,68.9 127.8,68.9 127.9,68.8 128.1,68.8 128.2,68.8 128.4,68.8 128.5,68.8 128.7,68.8 128.8,68.9 129.0,69.0 129.1,69.0 129.3,69.1 129.4,69.2 129.6,69.2 129.7,69.3 129.9,69.3 130.0,69.3 130.2,69.3 130.3,69.3 130.5,69.3 130.6,69.2 130.8,69.1 130.9,69.1 131.1,69.0 131.2,68.9 131.4,68.9 131.5,68.9 131.7,68.8 131.8,68.8 132.0,68.8 132.1,68.9 132.3,68.9 132.4,68.9 132.6,69.0 132.7,69.1 132.9,69.1 133.0,69.2 133.1,69.2 133.3,69.3 133.4,69.3 133.6,69.3 133.7,69.3 133.9,69.3 134.0,69.2 134.2,69.2 134.3,69.2 134.5,69.1 134.6,69.1 134.8,69.0 134.9,69.0 135.1,68.9 135.2,68.9 135.4,68.9 135.5,68.9 135.7,68.9 135.8,69.0 136.0,69.0 136.1,69.0 136.3,69.1 136.4,69.1 136.6,69.1 136.7,69.2 136.9,69.2 137.0,69.2 137.2,69.2 137.3,69.2 137.5,69.2 137.6,69.2 137.8,69.1 137.9,69.1 138.1,69.1 138.2,69.0 138.4,69.0 138.5,69.0 138.7,68.9 138.8,68.9 139.0,68.9 139.1,68.9 139.3,68.9 139.4,69.0 139.6,69.0 139.7,69.0 139.9,69.1 140.0,69.1 140.2,69.1 140.3,69.2 140.5,69.2 140.6,69.2 140.8,69.2 140.9,69.2 141.1,69.2 141.2,69.2 141.4,69.2 141.5,69.1 141.6,69.1 141.8,69.1 141.9,69.0 142.1,69.0 142.2,69.0 142.4,69.0 142.5,69.0 142.7,69.0 142.8,69.0 143.0,69.0 143.1,69.0 143.3,69.0 143.4,69.1 143.6,69.1 143.7,69.1 143.9,69.1 144.0,69.2 144.2,69.2 144.3,69.2 144.5,69.2 144.6,69.2 144.8,69.2 144.9,69.2 145.1,69.1 145.2,69.1 145.4,69.1 145.5,69.1 145.7,69.1 145.8,69.1 146.0,69.1 146.1,69.1 147.9,69.1 149.7,69.1 151.5,69.1 153.3,69.1 155.1,69.1 156.9,69.1 158.6,69.1 160.4,69.1 162.2,69.1 164.0,69.1 165.8,69.1 167.6,69.1 169.4,69.1 171.2,69.1 173.0,69.1 174.7,69.1 176.5,69.1 178.3,69.1 180.1,69.1 181.9,69.1 203.0,69.1" fill="none" stroke="#f42c32" stroke-width="0.9" stroke-linejoin="round"/>
<text x="22.75" y="108.56" font-size="4.9" class="sn" textLength="2.7" lengthAdjust="spacingAndGlyphs">0</text>
<line x1="59.88" y1="68.07" x2="59.88" y2="69.37" stroke="#1c1c1c" stroke-width="0.5"/>
<text x="57.19" y="108.56" font-size="4.9" class="sn" textLength="5.4" lengthAdjust="spacingAndGlyphs">10</text>
<line x1="95.67" y1="68.07" x2="95.67" y2="69.37" stroke="#1c1c1c" stroke-width="0.5"/>
<text x="92.97" y="108.56" font-size="4.9" class="sn" textLength="5.4" lengthAdjust="spacingAndGlyphs">20</text>
<line x1="131.45" y1="68.07" x2="131.45" y2="69.37" stroke="#1c1c1c" stroke-width="0.5"/>
<text x="128.76" y="108.56" font-size="4.9" class="sn" textLength="5.4" lengthAdjust="spacingAndGlyphs">30</text>
<line x1="167.23" y1="68.07" x2="167.23" y2="69.37" stroke="#1c1c1c" stroke-width="0.5"/>
<text x="164.54" y="108.56" font-size="4.9" class="sn" textLength="5.4" lengthAdjust="spacingAndGlyphs">40</text>
<line x1="203.02" y1="68.07" x2="203.02" y2="69.37" stroke="#1c1c1c" stroke-width="0.5"/>
<text x="200.32" y="108.56" font-size="4.9" class="sn" textLength="5.4" lengthAdjust="spacingAndGlyphs">50</text>
<text x="236.11" y="108.56" font-size="4.9" class="sn" textLength="5.4" lengthAdjust="spacingAndGlyphs">60</text>
<text x="13.38" y="102.26" font-size="4.9" class="sn" textLength="7.0" lengthAdjust="spacingAndGlyphs">-15</text>
<line x1="24.10" y1="90.12" x2="25.40" y2="90.12" stroke="#1c1c1c" stroke-width="0.5"/>
<text x="13.38" y="91.89" font-size="4.9" class="sn" textLength="7.0" lengthAdjust="spacingAndGlyphs">-10</text>
<line x1="24.10" y1="79.74" x2="25.40" y2="79.74" stroke="#1c1c1c" stroke-width="0.5"/>
<text x="16.07" y="81.51" font-size="4.9" class="sn" textLength="4.3" lengthAdjust="spacingAndGlyphs">-5</text>
<line x1="24.10" y1="69.37" x2="25.40" y2="69.37" stroke="#1c1c1c" stroke-width="0.5"/>
<text x="17.70" y="71.13" font-size="4.9" class="sn" textLength="2.7" lengthAdjust="spacingAndGlyphs">0</text>
<line x1="24.10" y1="58.99" x2="25.40" y2="58.99" stroke="#1c1c1c" stroke-width="0.5"/>
<text x="17.70" y="60.75" font-size="4.9" class="sn" textLength="2.7" lengthAdjust="spacingAndGlyphs">5</text>
<line x1="24.10" y1="48.61" x2="25.40" y2="48.61" stroke="#1c1c1c" stroke-width="0.5"/>
<text x="15.01" y="50.38" font-size="4.9" class="sn" textLength="5.4" lengthAdjust="spacingAndGlyphs">10</text>
<line x1="24.10" y1="38.23" x2="25.40" y2="38.23" stroke="#1c1c1c" stroke-width="0.5"/>
<text x="15.01" y="40.00" font-size="4.9" class="sn" textLength="5.4" lengthAdjust="spacingAndGlyphs">15</text>
<line x1="24.10" y1="27.86" x2="25.40" y2="27.86" stroke="#1c1c1c" stroke-width="0.5"/>
<text x="15.01" y="29.62" font-size="4.9" class="sn" textLength="5.4" lengthAdjust="spacingAndGlyphs">20</text>
<line x1="24.10" y1="17.48" x2="25.40" y2="17.48" stroke="#1c1c1c" stroke-width="0.5"/>
<text x="15.01" y="19.24" font-size="4.9" class="sn" textLength="5.4" lengthAdjust="spacingAndGlyphs">25</text>
<text x="15.01" y="8.86" font-size="4.9" class="sn" textLength="5.4" lengthAdjust="spacingAndGlyphs">30</text>
<rect x="24.1" y="7.1" width="214.70" height="93.40" fill="none" stroke="#666666" stroke-width="0.8"/>
<path d="M238.8 7.1V100.5H24.1" fill="none" stroke="#3c3c3c" stroke-width="0.9"/>
<text x="115.00" y="120.50" font-size="6.7" class="sf" textLength="30.0" lengthAdjust="spacingAndGlyphs">Time (Sec)</text>
<g transform="translate(10.40,87.60) rotate(-90)"><text x="0.00" y="0.00" font-size="6.9" class="sf" textLength="67.6" lengthAdjust="spacingAndGlyphs" xml:space="preserve">Roof  displacement (cm)</text></g>
<rect x="160.3" y="9.8" width="75.50" height="24.60" fill="#fff" stroke="#4a4a4a" stroke-width="0.7"/>
<line x1="166.4" y1="15.5" x2="173.8" y2="15.5" stroke="#909090" stroke-width="0.7"/>
<text x="174.80" y="17.50" font-size="5.7" class="sn" textLength="39.8" lengthAdjust="spacingAndGlyphs">Original structure</text>
<line x1="166.4" y1="22.6" x2="173.8" y2="22.6" stroke="#f42c32" stroke-width="0.8"/>
<text x="176.10" y="24.60" font-size="5.7" class="sn" textLength="34.6" lengthAdjust="spacingAndGlyphs">SC-DSD Retrofit</text>
<line x1="166.4" y1="29.1" x2="173.8" y2="29.1" stroke="#2390d6" stroke-width="1.2"/>
<text x="174.80" y="31.10" font-size="5.7" class="sn" textLength="56.6" lengthAdjust="spacingAndGlyphs">Conventional SD Retrofit</text>
<path d="M202.6 48.3V69.4" stroke="#444" stroke-width="0.6" fill="none"/>
<path d="M202.8 56.6C208.5 58 212.4 62.5 211.8 67.8C211 74.5 205 78.5 200.2 81" stroke="#444" stroke-width="0.6" fill="none"/>
<path d="M199.2 81.8L201.6 81.2L200.4 79.7Z" fill="#333"/>
<text x="159.10" y="87.70" font-size="5.6" class="sn" textLength="64.6" lengthAdjust="spacingAndGlyphs">Max residual disp. (101 mm)</text>
<text x="89.50" y="146.40" font-size="10.9" class="sf cap" textLength="67.0" lengthAdjust="spacingAndGlyphs">(<tspan font-weight="bold">e</tspan>) Northridge</text>
<line x1="323.8" y1="88.21" x2="543.1" y2="88.21" stroke="#e6ebf4" stroke-width="0.7"/>
<line x1="323.8" y1="64.24" x2="543.1" y2="64.24" stroke="#e6ebf4" stroke-width="0.7"/>
<line x1="323.8" y1="52.25" x2="543.1" y2="52.25" stroke="#e6ebf4" stroke-width="0.7"/>
<line x1="323.8" y1="40.26" x2="543.1" y2="40.26" stroke="#e6ebf4" stroke-width="0.7"/>
<line x1="323.8" y1="28.28" x2="543.1" y2="28.28" stroke="#e6ebf4" stroke-width="0.7"/>
<line x1="323.8" y1="16.29" x2="543.1" y2="16.29" stroke="#e6ebf4" stroke-width="0.7"/>
<line x1="323.8" y1="76.22" x2="543.1" y2="76.22" stroke="#1c1c1c" stroke-width="0.9"/>
<polyline points="323.8,76.2 323.9,76.2 324.0,76.1 324.2,76.0 324.3,75.9 324.4,75.7 324.5,75.6 324.6,75.6 324.7,75.5 324.9,75.5 325.0,75.6 325.1,75.6 325.2,75.6 325.3,75.7 325.4,75.7 325.6,75.7 325.7,75.7 325.8,75.7 325.9,75.7 326.1,75.6 326.2,75.5 326.3,75.4 326.4,75.3 326.6,75.2 326.7,75.1 326.8,75.0 326.9,74.8 327.1,74.7 327.2,74.7 327.3,74.6 327.4,74.6 327.6,74.5 327.7,74.6 327.8,74.6 327.9,74.6 328.0,74.7 328.2,74.7 328.3,74.8 328.4,74.9 328.5,74.9 328.7,75.0 328.8,75.1 328.9,75.2 329.0,75.3 329.1,75.3 329.3,75.4 329.4,75.4 329.5,75.5 329.6,75.5 329.8,75.5 329.9,75.5 330.0,75.4 330.1,75.3 330.2,75.2 330.4,75.0 330.5,74.8 330.6,74.6 330.7,74.3 330.9,74.1 331.0,73.8 331.1,73.6 331.2,73.3 331.4,73.1 331.5,72.9 331.6,72.7 331.7,72.6 331.9,72.5 332.0,72.4 332.1,72.4 332.2,72.4 332.4,72.4 332.5,72.5 332.6,72.6 332.7,72.7 332.8,72.9 333.0,73.0 333.1,73.2 333.2,73.4 333.3,73.6 333.5,73.8 333.6,74.1 333.7,74.3 333.8,74.5 334.0,74.7 334.1,74.9 334.2,75.1 334.3,75.3 334.5,75.4 334.6,75.5 334.7,75.6 334.8,75.7 335.0,75.7 335.1,75.7 335.2,75.8 335.3,75.8 335.5,75.8 335.6,75.9 335.7,75.9 335.8,76.0 336.0,76.1 336.1,76.2 336.2,76.3 336.3,76.4 336.5,76.5 336.6,76.6 336.7,76.8 336.8,76.9 337.0,77.0 337.1,77.1 337.2,77.2 337.3,77.3 337.5,77.4 337.6,77.5 337.7,77.5 337.8,77.6 338.0,77.6 338.1,77.7 338.2,77.7 338.3,77.7 338.5,78.0 338.6,78.4 338.7,78.9 338.8,79.6 338.9,80.4 339.1,81.3 339.2,82.3 339.3,83.3 339.4,84.4 339.6,85.6 339.7,86.8 339.8,87.9 339.9,89.0 340.0,90.1 340.2,91.1 340.3,92.0 340.4,92.8 340.5,93.4 340.7,94.0 340.8,94.4 340.9,94.6 341.0,94.7 341.2,94.4 341.3,93.5 341.4,92.0 341.5,90.1 341.7,87.6 341.8,84.7 341.9,81.5 342.0,78.0 342.2,74.3 342.3,70.5 342.4,66.7 342.5,63.0 342.7,59.5 342.8,56.2 342.9,53.3 343.0,50.9 343.2,48.9 343.3,47.4 343.4,46.6 343.5,46.3 343.7,46.4 343.8,47.0 343.9,47.9 344.0,49.1 344.2,50.6 344.3,52.5 344.4,54.6 344.5,56.9 344.7,59.4 344.8,62.1 344.9,64.9 345.0,67.7 345.2,70.6 345.3,73.4 345.4,76.2 345.5,78.9 345.7,81.4 345.8,83.7 345.9,85.8 346.0,87.7 346.2,89.2 346.3,90.4 346.4,91.3 346.5,91.9 346.7,92.0 346.8,91.9 346.9,91.4 347.0,90.6 347.2,89.6 347.3,88.2 347.4,86.6 347.5,84.7 347.7,82.6 347.8,80.3 347.9,77.8 348.0,75.2 348.1,72.5 348.3,69.7 348.4,66.9 348.5,64.1 348.6,61.3 348.8,58.6 348.9,56.0 349.0,53.5 349.1,51.2 349.3,49.1 349.4,47.2 349.5,45.6 349.6,44.2 349.7,43.1 349.9,42.3 350.0,41.9 350.1,41.7 350.2,41.8 350.4,42.1 350.5,42.7 350.6,43.4 350.7,44.4 350.9,45.5 351.0,46.8 351.1,48.3 351.2,50.0 351.4,51.8 351.5,53.8 351.6,55.8 351.7,58.0 351.9,60.3 352.0,62.6 352.1,64.9 352.2,67.3 352.4,69.8 352.5,72.2 352.6,74.5 352.7,76.9 352.9,79.1 353.0,81.3 353.1,83.3 353.2,85.3 353.4,87.1 353.5,88.8 353.6,90.3 353.8,91.6 353.9,92.7 354.0,93.7 354.1,94.4 354.3,95.0 354.4,95.3 354.5,95.4 354.6,95.1 354.8,94.3 354.9,92.9 355.0,91.0 355.1,88.6 355.3,85.7 355.4,82.4 355.5,78.6 355.7,74.6 355.8,70.3 355.9,65.7 356.0,61.0 356.2,56.2 356.3,51.4 356.4,46.6 356.5,41.9 356.7,37.3 356.8,33.0 356.9,29.0 357.1,25.3 357.2,21.9 357.3,19.1 357.4,16.6 357.6,14.7 357.7,13.3 357.8,12.5 357.9,12.2 358.1,12.4 358.2,12.8 358.3,13.6 358.4,14.6 358.6,16.0 358.7,17.6 358.8,19.5 359.0,21.6 359.1,24.0 359.2,26.5 359.3,29.3 359.5,32.2 359.6,35.3 359.7,38.5 359.8,41.8 360.0,45.1 360.1,48.5 360.2,51.9 360.3,55.3 360.5,58.7 360.6,62.0 360.7,65.1 360.8,68.2 361.0,71.1 361.1,73.9 361.2,76.5 361.3,78.8 361.5,81.0 361.6,82.8 361.7,84.4 361.8,85.8 362.0,86.8 362.1,87.6 362.2,88.1 362.3,88.2 362.5,88.1 362.6,87.6 362.7,86.8 362.8,85.8 363.0,84.5 363.1,82.9 363.2,81.1 363.3,79.1 363.5,77.0 363.6,74.7 363.7,72.3 363.8,69.9 364.0,67.4 364.1,65.0 364.2,62.6 364.3,60.4 364.5,58.2 364.6,56.2 364.7,54.4 364.8,52.9 365.0,51.6 365.1,50.5 365.2,49.7 365.3,49.3 365.5,49.1 365.6,49.2 365.7,49.5 365.8,49.9 366.0,50.5 366.1,51.3 366.2,52.2 366.3,53.2 366.5,54.4 366.6,55.7 366.7,57.1 366.8,58.6 367.0,60.1 367.1,61.8 367.2,63.4 367.3,65.1 367.5,66.7 367.6,68.4 367.7,70.0 367.8,71.6 368.0,73.0 368.1,74.4 368.2,75.7 368.3,76.9 368.5,78.0 368.6,78.9 368.7,79.6 368.9,80.2 369.0,80.7 369.1,80.9 369.2,81.0 369.3,80.9 369.5,80.5 369.6,80.0 369.7,79.1 369.8,78.1 370.0,76.8 370.1,75.4 370.2,73.7 370.3,71.9 370.5,69.9 370.6,67.8 370.7,65.6 370.8,63.3 371.0,60.9 371.1,58.4 371.2,55.9 371.3,53.4 371.4,50.9 371.6,48.4 371.7,46.0 371.8,43.7 371.9,41.5 372.1,39.3 372.2,37.4 372.3,35.6 372.4,33.9 372.6,32.5 372.7,31.2 372.8,30.2 372.9,29.3 373.1,28.8 373.2,28.4 373.3,28.3 373.4,28.6 373.6,29.6 373.7,31.2 373.8,33.5 373.9,36.3 374.1,39.6 374.2,43.4 374.3,47.5 374.5,51.9 374.6,56.4 374.7,61.1 374.8,65.8 375.0,70.4 375.1,74.8 375.2,78.9 375.3,82.6 375.5,85.9 375.6,88.8 375.7,91.0 375.9,92.6 376.0,93.6 376.1,94.0 376.2,93.7 376.4,93.0 376.5,91.8 376.6,90.2 376.7,88.1 376.9,85.7 377.0,82.9 377.1,79.9 377.2,76.6 377.3,73.2 377.5,69.6 377.6,66.1 377.7,62.5 377.8,59.1 378.0,55.8 378.1,52.8 378.2,50.0 378.3,47.6 378.4,45.5 378.6,43.9 378.7,42.7 378.8,41.9 378.9,41.7 379.1,42.0 379.2,42.7 379.3,44.0 379.5,45.8 379.6,48.0 379.7,50.6 379.8,53.5 380.0,56.7 380.1,60.1 380.2,63.7 380.3,67.4 380.5,71.0 380.6,74.6 380.7,78.0 380.9,81.2 381.0,84.2 381.1,86.7 381.2,88.9 381.4,90.7 381.5,92.0 381.6,92.7 381.8,93.0 381.9,92.9 382.0,92.4 382.1,91.7 382.3,90.8 382.4,89.5 382.5,88.0 382.6,86.3 382.7,84.4 382.9,82.3 383.0,80.1 383.1,77.8 383.2,75.3 383.4,72.8 383.5,70.2 383.6,67.7 383.7,65.2 383.9,62.7 384.0,60.3 384.1,58.1 384.2,56.0 384.3,54.1 384.5,52.4 384.6,50.9 384.7,49.7 384.8,48.7 385.0,48.0 385.1,47.6 385.2,47.5 385.3,47.5 385.5,47.7 385.6,48.1 385.7,48.6 385.8,49.2 386.0,50.0 386.1,50.9 386.2,51.9 386.3,53.0 386.5,54.2 386.6,55.5 386.7,56.9 386.8,58.4 387.0,59.9 387.1,61.4 387.2,63.0 387.3,64.6 387.5,66.2 387.6,67.8 387.7,69.4 387.8,71.0 388.0,72.5 388.1,74.0 388.2,75.3 388.3,76.6 388.5,77.9 388.6,79.0 388.7,80.0 388.8,80.9 389.0,81.6 389.1,82.3 389.2,82.8 389.3,83.1 389.5,83.3 389.6,83.4 389.7,83.4 389.8,83.2 390.0,82.9 390.1,82.6 390.2,82.1 390.3,81.5 390.5,80.9 390.6,80.1 390.7,79.3 390.8,78.4 391.0,77.4 391.1,76.4 391.2,75.3 391.3,74.1 391.4,72.9 391.6,71.7 391.7,70.4 391.8,69.1 391.9,67.8 392.1,66.5 392.2,65.3 392.3,64.0 392.4,62.8 392.6,61.6 392.7,60.4 392.8,59.3 392.9,58.3 393.1,57.3 393.2,56.4 393.3,55.5 393.4,54.8 393.5,54.1 393.7,53.6 393.8,53.1 393.9,52.7 394.0,52.5 394.2,52.3 394.3,52.2 394.4,52.3 394.5,52.5 394.7,52.7 394.8,53.1 394.9,53.6 395.0,54.2 395.2,54.9 395.3,55.6 395.4,56.5 395.5,57.3 395.7,58.3 395.8,59.3 395.9,60.3 396.0,61.4 396.2,62.4 396.3,63.5 396.4,64.6 396.5,65.6 396.7,66.6 396.8,67.5 396.9,68.4 397.0,69.3 397.2,70.0 397.3,70.7 397.4,71.3 397.5,71.7 397.7,72.1 397.8,72.4 397.9,72.6 398.0,72.6 398.2,72.6 398.3,72.5 398.4,72.3 398.5,72.0 398.7,71.6 398.8,71.2 398.9,70.7 399.1,70.2 399.2,69.6 399.3,68.9 399.4,68.2 399.6,67.5 399.7,66.7 399.8,66.0 399.9,65.2 400.1,64.4 400.2,63.7 400.3,62.9 400.4,62.2 400.6,61.5 400.7,60.8 400.8,60.2 400.9,59.7 401.1,59.2 401.2,58.8 401.3,58.4 401.4,58.1 401.6,57.9 401.7,57.8 401.8,57.8 401.9,57.8 402.1,58.1 402.2,58.4 402.3,58.9 402.4,59.6 402.5,60.3 402.7,61.2 402.8,62.1 402.9,63.1 403.0,64.2 403.2,65.2 403.3,66.3 403.4,67.4 403.5,68.5 403.6,69.5 403.8,70.4 403.9,71.3 404.0,72.0 404.1,72.7 404.3,73.2 404.4,73.5 404.5,73.8 404.6,73.8 404.8,73.7 404.9,73.5 405.0,73.0 405.1,72.4 405.3,71.7 405.4,70.8 405.5,69.7 405.6,68.6 405.8,67.4 405.9,66.0 406.0,64.7 406.1,63.3 406.3,61.9 406.4,60.4 406.5,59.1 406.6,57.8 406.8,56.5 406.9,55.4 407.0,54.3 407.1,53.4 407.3,52.7 407.4,52.1 407.5,51.6 407.6,51.4 407.8,51.3 407.9,51.5 408.0,52.2 408.1,53.2 408.3,54.7 408.4,56.5 408.5,58.7 408.6,61.0 408.8,63.6 408.9,66.4 409.0,69.2 409.1,71.9 409.3,74.7 409.4,77.3 409.5,79.7 409.6,81.8 409.8,83.6 409.9,85.1 410.0,86.1 410.1,86.8 410.3,87.0 410.4,86.8 410.5,86.4 410.6,85.5 410.8,84.4 410.9,83.0 411.0,81.3 411.1,79.4 411.3,77.2 411.4,74.9 411.5,72.4 411.6,69.9 411.8,67.2 411.9,64.6 412.0,62.0 412.1,59.4 412.3,56.9 412.4,54.6 412.5,52.5 412.6,50.5 412.8,48.8 412.9,47.4 413.0,46.3 413.1,45.5 413.3,45.0 413.4,44.8 413.5,45.1 413.7,45.8 413.8,46.9 413.9,48.5 414.0,50.4 414.2,52.7 414.3,55.3 414.4,58.1 414.5,61.0 414.7,64.0 414.8,67.0 414.9,69.9 415.0,72.7 415.2,75.3 415.3,77.6 415.4,79.5 415.5,81.1 415.7,82.2 415.8,82.9 415.9,83.2 416.0,83.0 416.2,82.5 416.3,81.7 416.4,80.7 416.5,79.3 416.6,77.7 416.8,75.9 416.9,73.9 417.0,71.7 417.1,69.4 417.3,67.1 417.4,64.7 417.5,62.4 417.6,60.1 417.7,58.0 417.9,56.0 418.0,54.1 418.1,52.5 418.2,51.2 418.4,50.1 418.5,49.3 418.6,48.8 418.7,48.7 418.9,48.9 419.0,49.5 419.1,50.5 419.2,51.9 419.4,53.6 419.5,55.6 419.6,57.8 419.7,60.3 419.9,62.8 420.0,65.4 420.1,68.1 420.2,70.6 420.4,73.1 420.5,75.3 420.6,77.3 420.7,79.0 420.9,80.4 421.0,81.4 421.1,82.0 421.2,82.2 421.4,82.1 421.5,81.6 421.6,80.7 421.7,79.6 421.9,78.2 422.0,76.6 422.1,74.7 422.3,72.6 422.4,70.4 422.5,68.1 422.6,65.8 422.8,63.5 422.9,61.2 423.0,59.0 423.2,56.9 423.3,55.0 423.4,53.4 423.5,52.0 423.7,50.9 423.8,50.0 423.9,49.5 424.1,49.4 424.2,49.5 424.3,50.0 424.4,50.7 424.6,51.7 424.7,52.9 424.8,54.4 424.9,56.1 425.1,57.9 425.2,59.9 425.3,61.9 425.5,64.0 425.6,66.1 425.7,68.1 425.8,70.1 426.0,71.9 426.1,73.6 426.2,75.1 426.4,76.3 426.5,77.3 426.6,78.0 426.7,78.5 426.9,78.6 427.0,78.5 427.1,78.1 427.3,77.4 427.4,76.5 427.5,75.4 427.6,74.1 427.8,72.6 427.9,70.9 428.0,69.2 428.2,67.3 428.3,65.4 428.4,63.6 428.5,61.7 428.7,60.0 428.8,58.3 428.9,56.8 429.0,55.5 429.2,54.3 429.3,53.4 429.4,52.8 429.6,52.4 429.7,52.2 429.8,52.4 429.9,52.8 430.1,53.5 430.2,54.4 430.3,55.6 430.4,56.9 430.6,58.5 430.7,60.1 430.8,61.9 430.9,63.6 431.1,65.4 431.2,67.2 431.3,68.8 431.4,70.3 431.6,71.7 431.7,72.9 431.8,73.8 431.9,74.5 432.1,74.9 432.2,75.0 432.3,74.9 432.5,74.6 432.6,74.1 432.7,73.4 432.8,72.6 433.0,71.6 433.1,70.5 433.2,69.2 433.4,67.9 433.5,66.5 433.6,65.1 433.7,63.7 433.9,62.3 434.0,60.9 434.1,59.7 434.2,58.6 434.4,57.6 434.5,56.7 434.6,56.0 434.8,55.5 434.9,55.2 435.0,55.1 435.1,55.2 435.3,55.5 435.4,55.9 435.5,56.5 435.7,57.3 435.8,58.1 435.9,59.1 436.0,60.2 436.2,61.4 436.3,62.6 436.4,63.9 436.6,65.1 436.7,66.3 436.8,67.5 436.9,68.6 437.1,69.6 437.2,70.5 437.3,71.2 437.5,71.8 437.6,72.3 437.7,72.5 437.8,72.6 438.0,72.6 438.1,72.3 438.2,72.0 438.3,71.4 438.5,70.8 438.6,70.1 438.7,69.2 438.9,68.3 439.0,67.3 439.1,66.3 439.2,65.2 439.4,64.1 439.5,63.1 439.6,62.1 439.8,61.2 439.9,60.3 440.0,59.6 440.1,58.9 440.3,58.4 440.4,58.1 440.5,57.8 440.7,57.8 440.8,57.8 440.9,58.0 441.0,58.2 441.2,58.5 441.3,59.0 441.4,59.5 441.5,60.0 441.7,60.7 441.8,61.3 441.9,62.1 442.0,62.8 442.2,63.6 442.3,64.4 442.4,65.2 442.5,65.9 442.7,66.7 442.8,67.3 442.9,68.0 443.0,68.5 443.2,69.0 443.3,69.5 443.4,69.8 443.5,70.0 443.7,70.2 443.8,70.2 443.9,70.2 444.0,70.1 444.2,70.0 444.3,69.8 444.4,69.6 444.5,69.3 444.6,68.9 444.8,68.6 444.9,68.2 445.0,67.7 445.1,67.3 445.3,66.8 445.4,66.3 445.5,65.8 445.6,65.3 445.8,64.8 445.9,64.3 446.0,63.9 446.1,63.4 446.2,63.0 446.4,62.7 446.5,62.3 446.6,62.0 446.7,61.8 446.9,61.6 447.0,61.5 447.1,61.4 447.2,61.4 447.4,61.4 447.5,61.5 447.6,61.7 447.7,61.9 447.9,62.2 448.0,62.6 448.1,63.0 448.3,63.5 448.4,63.9 448.5,64.4 448.6,65.0 448.8,65.5 448.9,66.0 449.0,66.5 449.2,66.9 449.3,67.3 449.4,67.7 449.5,68.0 449.7,68.2 449.8,68.4 449.9,68.5 450.1,68.6 450.2,68.5 450.3,68.4 450.4,68.3 450.5,68.1 450.7,67.9 450.8,67.6 450.9,67.3 451.0,67.0 451.2,66.6 451.3,66.3 451.4,65.9 451.5,65.5 451.6,65.1 451.8,64.7 451.9,64.4 452.0,64.0 452.1,63.7 452.3,63.4 452.4,63.2 452.5,63.0 452.6,62.9 452.8,62.8 452.9,62.8 453.0,62.8 453.1,62.9 453.3,63.0 453.4,63.2 453.5,63.4 453.6,63.6 453.8,63.9 453.9,64.2 454.0,64.5 454.2,64.9 454.3,65.2 454.4,65.5 454.5,65.9 454.7,66.2 454.8,66.5 454.9,66.8 455.1,67.0 455.2,67.2 455.3,67.4 455.4,67.5 455.6,67.6 455.7,67.6 455.8,67.6 455.9,67.5 456.1,67.4 456.2,67.3 456.3,67.2 456.5,67.0 456.6,66.8 456.7,66.5 456.8,66.3 457.0,66.1 457.1,65.8 457.2,65.5 457.4,65.3 457.5,65.0 457.6,64.8 457.7,64.6 457.9,64.4 458.0,64.3 458.1,64.2 458.3,64.1 458.4,64.0 458.5,64.0 458.6,64.0 458.8,64.1 458.9,64.1 459.0,64.2 459.2,64.3 459.3,64.5 459.4,64.7 459.5,64.8 459.7,65.0 459.8,65.2 459.9,65.4 460.1,65.6 460.2,65.8 460.3,66.0 460.4,66.2 460.6,66.4 460.7,66.5 460.8,66.6 460.9,66.7 461.1,66.8 461.2,66.9 461.3,66.9 461.5,66.9 461.6,66.8 461.7,66.8 461.8,66.7 462.0,66.6 462.1,66.5 462.2,66.4 462.4,66.2 462.5,66.1 462.6,65.9 462.7,65.8 462.9,65.6 463.0,65.5 463.1,65.3 463.3,65.2 463.4,65.1 463.5,65.0 463.6,64.9 463.8,64.8 463.9,64.8 464.0,64.7 464.2,64.7 464.3,64.7 464.4,64.7 464.5,64.8 464.6,64.8 464.8,64.9 464.9,65.0 465.0,65.1 465.1,65.2 465.3,65.3 465.4,65.4 465.5,65.5 465.6,65.6 465.7,65.7 465.9,65.8 466.0,65.9 466.1,66.0 466.2,66.1 466.4,66.2 466.5,66.3 466.6,66.3 466.7,66.4 466.8,66.4 467.0,66.4 467.1,66.4 467.2,66.4 467.4,66.3 467.5,66.3 467.6,66.2 467.7,66.2 467.9,66.1 468.0,66.0 468.1,66.0 468.3,65.9 468.4,65.8 468.5,65.7 468.6,65.6 468.8,65.5 468.9,65.5 469.0,65.4 469.2,65.3 469.3,65.3 469.4,65.3 469.5,65.2 469.7,65.2 469.8,65.2 469.9,65.2 470.0,65.2 470.2,65.2 470.3,65.3 470.4,65.3 470.6,65.4 470.7,65.4 470.8,65.5 470.9,65.5 471.1,65.6 471.2,65.7 471.3,65.7 471.5,65.8 471.6,65.9 471.7,65.9 471.8,66.0 472.0,66.0 472.1,66.1 472.2,66.1 472.4,66.1 472.5,66.2 472.6,66.2 472.7,66.2 472.9,66.1 473.0,66.1 473.1,66.1 473.3,66.1 473.4,66.1 473.5,66.0 473.6,66.0 473.8,66.0 473.9,65.9 474.0,65.9 474.1,65.9 474.3,65.8 474.4,65.8 474.5,65.8 474.7,65.8 474.8,65.7 474.9,65.7 475.0,65.7 475.2,65.7 475.3,65.7 475.4,65.7 475.6,65.7 475.7,65.7 475.8,65.7 475.9,65.7 476.1,65.7 476.2,65.7 476.3,65.8 476.5,65.8 476.6,65.8 476.7,65.8 476.8,65.9 477.0,65.9 477.1,65.9 477.2,65.9 477.4,66.0 477.5,66.0 477.6,66.0 477.7,66.0 477.9,66.0 478.0,66.0 478.1,66.0 478.2,66.0 478.4,66.0 478.5,66.0 478.6,66.0 478.8,66.0 478.9,66.0 479.0,66.0 479.1,66.0 479.3,66.0 479.4,66.0 479.5,66.0 479.6,66.0 479.8,66.0 479.9,66.0 480.0,66.0 480.1,66.0 480.3,66.0 480.4,66.0 480.5,66.0 480.6,66.0 480.8,65.9 480.9,65.9 481.0,65.9 481.1,65.9 481.3,65.9 481.4,65.9 481.5,65.9 481.6,65.9 481.8,65.9 481.9,65.9 482.0,65.9 511.8,65.9" fill="none" stroke="#7a7a7a" stroke-width="0.9" stroke-linejoin="round"/>
<polyline points="323.8,76.2 323.9,76.2 324.0,76.2 324.2,76.1 324.3,76.0 324.4,76.0 324.5,75.9 324.6,75.9 324.7,75.9 324.9,75.9 325.0,75.9 325.1,76.0 325.2,76.0 325.3,76.0 325.4,76.0 325.6,76.0 325.7,76.0 325.8,76.0 325.9,75.9 326.1,75.9 326.2,75.8 326.3,75.7 326.4,75.6 326.6,75.5 326.7,75.5 326.8,75.5 326.9,75.4 327.1,75.4 327.2,75.4 327.3,75.4 327.4,75.4 327.6,75.4 327.7,75.4 327.8,75.4 327.9,75.4 328.0,75.4 328.2,75.4 328.3,75.3 328.4,75.3 328.5,75.3 328.7,75.3 328.8,75.3 328.9,75.4 329.0,75.4 329.1,75.5 329.3,75.6 329.4,75.7 329.5,75.8 329.6,75.9 329.8,76.0 329.9,76.0 330.0,76.0 330.1,75.9 330.2,75.8 330.4,75.6 330.5,75.4 330.6,75.2 330.7,74.9 330.9,74.7 331.0,74.5 331.1,74.4 331.2,74.2 331.4,74.2 331.5,74.1 331.6,74.1 331.7,74.2 331.9,74.2 332.0,74.3 332.1,74.4 332.2,74.5 332.4,74.5 332.5,74.5 332.6,74.5 332.7,74.5 332.8,74.4 333.0,74.4 333.1,74.3 333.2,74.3 333.3,74.4 333.5,74.5 333.6,74.6 333.7,74.8 333.8,75.0 334.0,75.2 334.1,75.5 334.2,75.8 334.3,76.0 334.5,76.2 334.6,76.3 334.7,76.4 334.8,76.4 335.0,76.4 335.1,76.2 335.2,76.1 335.3,75.9 335.5,75.8 335.6,75.7 335.7,75.6 335.8,75.6 336.0,75.7 336.1,75.8 336.2,76.0 336.3,76.2 336.5,76.5 336.6,76.7 336.7,77.0 336.8,77.2 337.0,77.4 337.1,77.4 337.2,77.5 337.3,77.4 337.5,77.3 337.6,77.2 337.7,77.0 337.8,76.8 338.0,76.7 338.1,76.6 338.2,76.5 338.3,76.6 338.5,76.8 338.6,77.3 338.7,77.8 338.8,78.5 338.9,79.3 339.1,80.2 339.2,81.1 339.3,81.9 339.4,82.8 339.6,83.6 339.7,84.3 339.8,85.0 339.9,85.5 340.0,86.1 340.2,86.5 340.3,86.9 340.4,87.3 340.5,87.7 340.7,88.0 340.8,88.4 340.9,88.7 341.0,89.0 341.2,89.1 341.3,88.8 341.4,88.2 341.5,87.2 341.7,85.8 341.8,84.0 341.9,81.9 342.0,79.5 342.2,76.9 342.3,74.1 342.4,71.3 342.5,68.6 342.7,66.0 342.8,63.7 342.9,61.7 343.0,60.0 343.2,58.9 343.3,58.1 343.4,57.9 343.5,58.1 343.7,58.6 343.8,59.4 343.9,60.3 344.0,61.3 344.2,62.3 344.3,63.4 344.4,64.6 344.5,65.7 344.7,66.9 344.8,68.1 344.9,69.4 345.0,70.8 345.2,72.2 345.3,73.8 345.4,75.6 345.5,77.4 345.7,79.3 345.8,81.2 345.9,83.0 346.0,84.6 346.2,86.1 346.3,87.3 346.4,88.1 346.5,88.6 346.7,88.6 346.8,88.3 346.9,87.6 347.0,86.6 347.2,85.3 347.3,83.9 347.4,82.4 347.5,80.9 347.7,79.3 347.8,77.8 347.9,76.5 348.0,75.2 348.1,74.0 348.3,72.8 348.4,71.7 348.5,70.5 348.6,69.3 348.8,67.9 348.9,66.5 349.0,64.9 349.1,63.2 349.3,61.5 349.4,59.7 349.5,58.1 349.6,56.5 349.7,55.3 349.9,54.3 350.0,53.7 350.1,53.5 350.2,53.7 350.4,54.2 350.5,55.2 350.6,56.4 350.7,57.8 350.9,59.3 351.0,60.9 351.1,62.4 351.2,63.8 351.4,65.1 351.5,66.3 351.6,67.3 351.7,68.2 351.9,69.0 352.0,69.9 352.1,70.9 352.2,72.1 352.4,73.5 352.5,75.1 352.6,77.0 352.7,79.1 352.9,81.3 353.0,83.6 353.1,85.9 353.2,88.0 353.4,90.0 353.5,91.6 353.6,92.9 353.8,93.8 353.9,94.3 354.0,94.5 354.1,94.3 354.3,93.9 354.4,93.4 354.5,92.8 354.6,92.0 354.8,91.0 354.9,89.9 355.0,88.6 355.1,87.2 355.3,85.6 355.4,83.8 355.5,81.7 355.7,79.3 355.8,76.5 355.9,73.4 356.0,69.8 356.2,66.0 356.3,61.8 356.4,57.5 356.5,53.1 356.7,48.7 356.8,44.6 356.9,40.8 357.1,37.5 357.2,34.7 357.3,32.5 357.4,30.9 357.6,30.0 357.7,29.6 357.8,29.8 357.9,30.3 358.1,31.2 358.2,32.5 358.3,34.1 358.4,35.8 358.6,37.7 358.7,39.8 358.8,42.0 359.0,44.3 359.1,46.7 359.2,49.2 359.3,51.9 359.5,54.7 359.6,57.6 359.7,60.5 359.8,63.4 360.0,66.1 360.1,68.5 360.2,70.5 360.3,72.1 360.5,73.0 360.6,73.3 360.7,73.1 360.8,72.3 361.0,71.0 361.1,69.4 361.2,67.4 361.4,65.4 361.5,63.4 361.6,61.8 361.8,60.5 361.9,59.7 362.0,59.5 362.2,60.0 362.3,61.1 362.4,62.7 362.5,64.8 362.7,67.0 362.8,69.3 362.9,71.3 363.1,73.1 363.2,74.4 363.3,75.1 363.5,75.2 363.6,74.7 363.7,73.8 363.8,72.6 364.0,71.2 364.1,69.6 364.2,68.0 364.3,66.6 364.5,65.2 364.6,64.1 364.7,63.2 364.8,62.5 365.0,62.1 365.1,61.8 365.2,61.7 365.3,61.7 365.5,61.7 365.6,61.8 365.7,61.8 365.9,61.7 366.0,61.6 366.1,61.6 366.2,61.7 366.4,61.9 366.5,62.4 366.6,63.1 366.8,64.0 366.9,65.2 367.0,66.5 367.1,67.9 367.3,69.3 367.4,70.5 367.5,71.5 367.7,72.1 367.8,72.3 367.9,72.1 368.0,71.4 368.2,70.4 368.3,69.0 368.4,67.3 368.5,65.6 368.7,63.9 368.8,62.3 368.9,61.0 369.0,60.0 369.2,59.3 369.3,59.1 369.4,59.3 369.5,59.9 369.7,60.8 369.8,62.1 369.9,63.7 370.1,65.3 370.2,66.9 370.3,68.3 370.5,69.4 370.6,70.2 370.7,70.7 370.8,70.8 371.0,70.5 371.1,70.0 371.2,69.4 371.3,68.6 371.5,67.7 371.6,66.8 371.7,65.9 371.8,64.9 372.0,63.8 372.1,62.8 372.2,61.6 372.3,60.3 372.4,58.9 372.6,57.5 372.7,55.9 372.8,54.4 372.9,52.9 373.1,51.5 373.2,50.3 373.3,49.4 373.4,48.9 373.6,48.8 373.7,49.3 373.8,50.3 373.9,51.8 374.1,53.9 374.2,56.4 374.3,59.1 374.5,62.1 374.6,65.2 374.7,68.2 374.8,71.0 375.0,73.6 375.1,75.8 375.2,77.6 375.3,79.0 375.5,80.0 375.6,80.7 375.7,81.1 375.9,81.3 376.0,81.3 376.1,81.2 376.2,81.1 376.4,80.9 376.5,80.7 376.6,80.3 376.7,79.9 376.9,79.3 377.0,78.4 377.1,77.3 377.2,75.9 377.3,74.2 377.5,72.2 377.6,69.9 377.7,67.5 377.8,65.0 378.0,62.5 378.1,60.1 378.2,57.9 378.3,56.1 378.4,54.6 378.6,53.6 378.7,53.1 378.8,53.1 378.9,53.5 379.1,54.3 379.2,55.4 379.3,56.7 379.5,58.2 379.6,59.7 379.7,61.2 379.8,62.6 380.0,63.9 380.1,65.0 380.2,66.1 380.3,67.2 380.5,68.3 380.6,69.4 380.7,70.6 380.9,71.9 381.0,73.3 381.1,74.8 381.2,76.3 381.4,77.8 381.5,79.2 381.6,80.3 381.8,81.1 381.9,81.5 382.0,81.6 382.1,81.4 382.3,80.8 382.4,79.9 382.5,78.6 382.6,77.2 382.7,75.6 382.9,73.9 383.0,72.3 383.1,70.7 383.2,69.3 383.4,68.1 383.5,67.1 383.6,66.3 383.7,65.7 383.9,65.2 384.0,64.8 384.1,64.4 384.2,63.9 384.3,63.4 384.5,62.8 384.6,62.0 384.7,61.1 384.8,60.2 385.0,59.2 385.1,58.3 385.2,57.6 385.3,57.0 385.5,56.9 385.6,57.1 385.7,57.8 385.8,58.9 386.0,60.4 386.1,62.1 386.2,64.0 386.4,66.0 386.5,67.8 386.6,69.5 386.8,70.9 386.9,71.9 387.0,72.4 387.1,72.6 387.3,72.3 387.4,71.8 387.5,71.0 387.7,70.0 387.8,69.1 387.9,68.2 388.0,67.4 388.2,66.7 388.3,66.3 388.4,65.9 388.6,65.7 388.7,65.6 388.8,65.4 388.9,65.3 389.1,65.0 389.2,64.7 389.3,64.2 389.5,63.7 389.6,63.1 389.7,62.6 389.8,62.2 390.0,62.0 390.1,62.1 390.2,62.6 390.4,63.4 390.5,64.6 390.6,66.0 390.8,67.7 390.9,69.5 391.0,71.3 391.1,73.1 391.3,74.6 391.4,75.8 391.5,76.6 391.7,77.0 391.8,76.9 391.9,76.4 392.0,75.5 392.2,74.3 392.3,73.0 392.4,71.5 392.5,69.9 392.7,68.5 392.8,67.1 392.9,66.0 393.0,65.0 393.2,64.2 393.3,63.5 393.4,63.0 393.5,62.5 393.7,62.1 393.8,61.7 393.9,61.2 394.0,60.7 394.2,60.2 394.3,59.7 394.4,59.2 394.5,58.8 394.7,58.6 394.8,58.6 394.9,58.9 395.1,59.6 395.2,60.5 395.3,61.8 395.5,63.3 395.6,64.9 395.7,66.6 395.8,68.3 396.0,69.8 396.1,71.0 396.2,71.8 396.4,72.2 396.5,72.2 396.6,71.8 396.7,71.0 396.9,70.0 397.0,68.8 397.1,67.5 397.2,66.3 397.4,65.2 397.5,64.2 397.6,63.5 397.7,63.1 397.9,62.9 398.0,63.0 398.1,63.3 398.2,63.7 398.4,64.2 398.5,64.9 398.6,65.5 398.8,66.1 398.9,66.7 399.0,67.2 399.1,67.5 399.3,67.8 399.4,67.9 399.5,68.0 399.7,68.1 399.8,68.1 399.9,68.2 400.1,68.2 400.2,68.3 400.3,68.4 400.4,68.5 400.6,68.5 400.7,68.4 400.8,68.1 400.9,67.6 401.1,66.9 401.2,66.1 401.3,65.1 401.4,64.1 401.6,63.1 401.7,62.2 401.8,61.4 401.9,60.9 402.1,60.6 402.2,60.5 402.3,60.7 402.4,61.2 402.5,62.0 402.7,63.0 402.8,64.2 402.9,65.4 403.0,66.7 403.2,67.8 403.3,68.9 403.4,69.7 403.5,70.3 403.6,70.7 403.8,70.8 403.9,70.8 404.0,70.6 404.1,70.3 404.3,70.0 404.4,69.7 404.5,69.5 404.6,69.4 404.8,69.5 404.9,69.6 405.0,69.9 405.1,70.2 405.3,70.6 405.4,70.8 405.5,71.0 405.6,70.9 405.8,70.6 405.9,70.1 406.0,69.3 406.1,68.4 406.3,67.2 406.4,66.0 406.5,64.7 406.6,63.6 406.8,62.5 406.9,61.7 407.0,61.1 407.1,60.8 407.3,60.8 407.4,61.0 407.5,61.4 407.6,62.0 407.8,62.6 407.9,63.2 408.0,63.9 408.1,64.4 408.3,65.0 408.4,65.4 408.5,65.7 408.6,65.9 408.8,66.2 408.9,66.4 409.0,66.8 409.1,67.2 409.3,67.8 409.4,68.6 409.5,69.5 409.6,70.5 409.8,71.6 409.9,72.7 410.0,73.7 410.1,74.5 410.3,75.2 410.4,75.5 410.5,75.4 410.6,75.0 410.8,74.3 410.9,73.2 411.0,71.8 411.1,70.3 411.3,68.7 411.4,67.1 411.5,65.5 411.6,64.2 411.8,63.1 411.9,62.2 412.0,61.6 412.1,61.3 412.3,61.2 412.4,61.3 412.5,61.6 412.6,61.8 412.8,62.1 412.9,62.4 413.0,62.5 413.1,62.5 413.3,62.4 413.4,62.3 413.5,62.2 413.7,62.1 413.8,62.1 413.9,62.3 414.0,62.8 414.2,63.4 414.3,64.3 414.4,65.4 414.5,66.7 414.7,68.0 414.8,69.4 414.9,70.7 415.0,71.8 415.2,72.7 415.3,73.4 415.4,73.8 415.5,73.8 415.7,73.7 415.8,73.3 415.9,72.7 416.0,72.0 416.2,71.3 416.3,70.7 416.4,70.1 416.5,69.7 416.6,69.4 416.8,69.3 416.9,69.2 417.0,69.2 417.1,69.3 417.3,69.3 417.4,69.2 417.5,69.0 417.6,68.6 417.7,68.1 417.9,67.4 418.0,66.5 418.1,65.6 418.2,64.7 418.4,63.8 418.5,63.0 418.6,62.4 418.7,62.0 418.9,61.9 419.0,62.2 419.1,62.7 419.2,63.5 419.4,64.5 419.5,65.6 419.6,66.8 419.7,68.0 419.9,69.0 420.0,70.0 420.1,70.7 420.2,71.2 420.4,71.5 420.5,71.6 420.6,71.6 420.7,71.4 420.9,71.3 421.0,71.1 421.1,70.9 421.2,70.9 421.4,70.9 421.5,71.0 421.6,71.1 421.7,71.3 421.9,71.4 422.0,71.4 422.1,71.3 422.2,71.0 422.4,70.5 422.5,69.8 422.6,68.9 422.7,67.9 422.9,66.7 423.0,65.6 423.1,64.5 423.2,63.5 423.4,62.7 423.5,62.2 423.6,61.9 423.7,61.9 423.9,62.2 424.0,62.7 424.1,63.4 424.2,64.1 424.4,64.9 424.5,65.7 424.6,66.4 424.7,66.9 424.9,67.4 425.0,67.7 425.1,67.8 425.2,67.9 425.4,67.9 425.5,67.8 425.6,67.9 425.7,67.9 425.9,68.1 426.0,68.5 426.1,68.9 426.2,69.5 426.4,70.1 426.5,70.8 426.6,71.4 426.7,72.0 426.9,72.5 427.0,72.7 427.1,72.6 427.2,72.2 427.4,71.5 427.5,70.5 427.6,69.3 427.7,68.1 427.9,66.8 428.0,65.6 428.1,64.5 428.2,63.7 428.4,63.1 428.5,62.8 428.6,62.7 428.8,63.0 428.9,63.5 429.0,64.0 429.1,64.5 429.2,65.1 429.4,65.5 429.5,65.9 429.6,66.1 429.7,66.3 429.9,66.3 430.0,66.3 430.1,66.2 430.2,66.2 430.4,66.1 430.5,66.2 430.6,66.4 430.7,66.7 430.8,67.1 431.0,67.7 431.1,68.3 431.2,69.0 431.3,69.7 431.5,70.4 431.6,71.0 431.7,71.4 431.8,71.7 432.0,71.9 432.1,71.9 432.2,71.7 432.3,71.3 432.5,70.7 432.6,70.1 432.7,69.4 432.8,68.7 433.0,68.0 433.1,67.5 433.2,67.1 433.4,66.7 433.5,66.6 433.6,66.5 433.7,66.4 433.9,66.4 434.0,66.4 434.1,66.4 434.3,66.4 434.4,66.3 434.5,66.2 434.6,66.0 434.8,65.7 434.9,65.5 435.0,65.2 435.1,65.1 435.3,65.0 435.4,65.0 435.5,65.2 435.6,65.5 435.7,66.0 435.9,66.5 436.0,67.1 436.1,67.7 436.2,68.3 436.4,68.9 436.5,69.3 436.6,69.7 436.7,69.9 436.9,70.0 437.0,70.0 437.1,69.9 437.2,69.7 437.3,69.5 437.5,69.3 437.6,69.2 437.7,69.0 437.8,69.0 438.0,69.0 438.1,69.1 438.2,69.1 438.3,69.2 438.4,69.3 438.6,69.3 438.7,69.3 438.8,69.2 438.9,69.0 439.1,68.7 439.2,68.3 439.3,67.8 439.4,67.3 439.5,66.8 439.7,66.3 439.8,65.9 439.9,65.6 440.0,65.4 440.2,65.3 440.3,65.3 440.4,65.5 440.5,65.7 440.7,66.0 440.8,66.4 440.9,66.8 441.0,67.2 441.2,67.5 441.3,67.8 441.4,68.0 441.5,68.1 441.7,68.1 441.8,68.1 441.9,68.0 442.0,67.9 442.2,67.9 442.3,67.8 442.4,67.8 442.5,67.9 442.7,68.1 442.8,68.3 442.9,68.6 443.0,68.9 443.2,69.2 443.3,69.6 443.4,69.8 443.5,70.1 443.7,70.2 443.8,70.2 443.9,70.2 444.0,70.0 444.2,69.8 444.3,69.5 444.4,69.2 444.5,68.9 444.6,68.6 444.8,68.4 444.9,68.2 445.0,68.0 445.1,68.0 445.3,67.9 445.4,67.9 445.5,68.0 445.6,68.0 445.8,68.1 445.9,68.1 446.0,68.0 446.1,67.9 446.2,67.8 446.4,67.6 446.5,67.3 446.6,67.1 446.7,66.8 446.9,66.5 447.0,66.3 447.1,66.2 447.2,66.1 447.4,66.1 447.5,66.2 447.6,66.3 447.7,66.6 447.9,66.8 448.0,67.1 448.1,67.5 448.3,67.7 448.4,68.0 448.5,68.2 448.6,68.3 448.8,68.4 448.9,68.4 449.0,68.4 449.2,68.4 449.3,68.4 449.4,68.4 449.5,68.4 449.7,68.5 449.8,68.5 449.9,68.6 450.1,68.8 450.2,68.9 450.3,69.0 450.4,69.1 450.5,69.2 450.7,69.2 450.8,69.2 450.9,69.1 451.0,69.0 451.2,68.8 451.3,68.6 451.4,68.3 451.5,68.1 451.6,67.9 451.8,67.6 451.9,67.4 452.0,67.3 452.1,67.2 452.3,67.2 452.4,67.2 452.5,67.3 452.6,67.3 452.8,67.4 452.9,67.5 453.0,67.7 453.1,67.7 453.3,67.8 453.4,67.8 453.5,67.8 453.6,67.8 453.8,67.8 453.9,67.7 454.0,67.7 454.2,67.7 454.3,67.8 454.4,67.8 454.5,67.9 454.7,68.1 454.8,68.3 454.9,68.4 455.1,68.6 455.2,68.8 455.3,68.9 455.4,69.0 455.6,69.1 455.7,69.1 455.8,69.1 455.9,69.0 456.1,68.9 456.2,68.7 456.3,68.6 456.5,68.5 456.6,68.3 456.7,68.2 456.8,68.2 457.0,68.1 457.1,68.1 457.2,68.1 457.4,68.1 457.5,68.2 457.6,68.2 457.7,68.2 457.9,68.2 458.0,68.2 458.1,68.1 458.3,68.0 458.4,68.0 458.5,67.9 458.6,67.8 458.8,67.7 458.9,67.7 459.0,67.7 459.1,67.7 459.3,67.7 459.4,67.8 459.5,67.9 459.6,68.0 459.8,68.1 459.9,68.2 460.0,68.3 460.1,68.4 460.3,68.4 460.4,68.5 460.5,68.5 460.6,68.5 460.8,68.5 460.9,68.5 461.0,68.5 461.1,68.4 461.3,68.4 461.4,68.4 461.5,68.4 461.6,68.4 511.8,68.6" fill="none" stroke="#2390d6" stroke-width="1.0" stroke-linejoin="round"/>
<polyline points="323.8,76.2 323.9,76.2 324.1,76.2 324.2,76.2 324.3,76.2 324.4,76.2 324.6,76.2 324.7,76.2 324.8,76.2 324.9,76.2 325.1,76.2 325.2,76.2 325.3,76.2 325.4,76.2 325.6,76.2 325.7,76.2 325.8,76.2 325.9,76.2 326.1,76.2 326.2,76.2 326.3,76.2 326.4,76.2 326.6,76.2 326.7,76.2 326.8,76.2 326.9,76.2 327.1,76.2 327.2,76.2 327.3,76.2 327.5,76.2 327.6,76.2 327.7,76.2 327.8,76.2 328.0,76.2 328.1,76.2 328.2,76.2 328.3,76.2 328.5,76.2 328.6,76.2 328.7,76.2 328.8,76.2 329.0,76.2 329.1,76.2 329.2,76.1 329.3,76.1 329.5,76.1 329.6,76.1 329.7,76.1 329.8,76.1 330.0,76.1 330.1,76.1 330.2,76.1 330.3,76.1 330.5,76.1 330.6,76.1 330.7,76.1 330.8,76.1 331.0,76.1 331.1,76.1 331.2,76.1 331.4,76.1 331.5,76.1 331.6,76.1 331.7,76.1 331.9,76.1 332.0,76.1 332.1,76.1 332.2,76.1 332.4,76.1 332.5,76.1 332.6,76.1 332.7,76.1 332.9,76.1 333.0,76.1 333.1,76.0 333.2,76.0 333.4,76.0 333.5,76.0 333.6,76.0 333.7,76.0 333.9,76.0 334.0,76.0 334.1,76.0 334.2,76.0 334.4,76.0 334.5,76.0 334.6,76.0 334.8,76.0 334.9,76.0 335.0,76.0 335.1,76.0 335.3,76.0 335.4,76.0 335.5,76.0 335.6,76.0 335.8,76.0 335.9,76.0 336.0,76.0 336.1,76.0 336.3,76.0 336.4,76.0 336.5,76.0 336.6,76.0 336.8,76.0 336.9,76.0 337.0,76.0 337.1,76.0 337.3,76.0 337.4,76.0 337.5,76.0 337.6,76.0 337.8,76.0 337.9,76.0 338.0,76.0 338.2,76.0 338.3,76.1 338.4,76.1 338.5,76.2 338.7,76.3 338.8,76.4 338.9,76.5 339.0,76.6 339.2,76.8 339.3,76.9 339.4,77.1 339.6,77.2 339.7,77.4 339.8,77.5 339.9,77.7 340.1,77.8 340.2,78.0 340.3,78.1 340.5,78.2 340.6,78.3 340.7,78.4 340.8,78.5 341.0,78.5 341.1,78.6 341.2,78.6 341.3,78.6 341.5,78.6 341.6,78.4 341.7,78.2 341.8,77.9 342.0,77.5 342.1,77.1 342.2,76.6 342.3,76.1 342.5,75.5 342.6,74.9 342.7,74.3 342.8,73.8 343.0,73.2 343.1,72.7 343.2,72.3 343.3,71.9 343.5,71.6 343.6,71.4 343.7,71.2 343.9,71.2 344.0,71.4 344.1,72.0 344.2,72.9 344.4,74.1 344.5,75.5 344.6,77.1 344.8,78.6 344.9,80.0 345.0,81.2 345.2,82.2 345.3,82.7 345.4,82.9 345.5,82.9 345.7,82.6 345.8,82.2 345.9,81.7 346.1,81.0 346.2,80.2 346.3,79.4 346.4,78.4 346.6,77.3 346.7,76.3 346.8,75.1 347.0,74.0 347.1,73.0 347.2,71.9 347.3,70.9 347.5,70.0 347.6,69.3 347.7,68.6 347.9,68.1 348.0,67.7 348.1,67.4 348.2,67.4 348.4,68.2 348.5,70.6 348.6,74.2 348.8,78.1 348.9,81.6 349.0,84.0 349.2,84.9 349.3,84.7 349.4,84.4 349.6,83.7 349.7,82.9 349.8,81.8 349.9,80.6 350.1,79.2 350.2,77.7 350.3,76.2 350.4,74.5 350.6,72.9 350.7,71.4 350.8,69.9 350.9,68.5 351.1,67.3 351.2,66.2 351.3,65.4 351.4,64.7 351.6,64.4 351.7,64.2 351.8,64.6 351.9,65.5 352.1,67.0 352.2,69.0 352.3,71.4 352.4,74.2 352.6,77.1 352.7,80.1 352.8,83.1 352.9,85.8 353.1,88.2 353.2,90.3 353.3,91.8 353.4,92.7 353.6,93.0 353.7,92.9 353.8,92.5 353.9,92.0 354.1,91.2 354.2,90.1 354.3,88.9 354.4,87.5 354.6,85.9 354.7,84.2 354.8,82.3 354.9,80.3 355.1,78.2 355.2,76.0 355.3,73.8 355.4,71.5 355.6,69.3 355.7,67.1 355.8,64.9 355.9,62.8 356.1,60.8 356.2,58.9 356.3,57.2 356.4,55.6 356.6,54.2 356.7,53.0 356.8,51.9 356.9,51.1 357.1,50.6 357.2,50.2 357.3,50.1 357.4,50.3 357.6,50.8 357.7,51.7 357.8,53.0 357.9,54.5 358.1,56.3 358.2,58.4 358.3,60.7 358.4,63.2 358.5,65.8 358.7,68.4 358.8,71.1 358.9,73.8 359.0,76.3 359.2,78.8 359.3,81.1 359.4,83.2 359.5,85.0 359.7,86.5 359.8,87.8 359.9,88.7 360.0,89.2 360.1,89.4 360.3,89.2 360.4,88.7 360.5,87.9 360.6,86.8 360.8,85.4 360.9,83.7 361.0,81.9 361.1,79.9 361.3,77.8 361.4,75.6 361.5,73.5 361.6,71.4 361.8,69.4 361.9,67.5 362.0,65.9 362.1,64.5 362.3,63.3 362.4,62.5 362.5,62.0 362.6,61.8 362.8,61.9 362.9,62.2 363.0,62.8 363.1,63.4 363.3,64.3 363.4,65.3 363.5,66.5 363.6,67.8 363.8,69.2 363.9,70.6 364.0,72.1 364.1,73.6 364.2,75.1 364.4,76.6 364.5,77.9 364.6,79.2 364.7,80.4 364.9,81.4 365.0,82.3 365.1,83.0 365.2,83.5 365.3,83.8 365.5,83.9 365.6,83.8 365.7,83.5 365.9,83.1 366.0,82.4 366.1,81.6 366.2,80.7 366.4,79.7 366.5,78.5 366.6,77.3 366.7,76.0 366.9,74.7 367.0,73.4 367.1,72.1 367.3,70.8 367.4,69.7 367.5,68.6 367.6,67.7 367.8,66.9 367.9,66.3 368.0,65.8 368.2,65.5 368.3,65.4 368.4,65.6 368.5,66.0 368.7,66.7 368.8,67.6 368.9,68.7 369.0,70.1 369.1,71.5 369.3,73.1 369.4,74.7 369.5,76.3 369.6,77.8 369.7,79.3 369.9,80.6 370.0,81.7 370.1,82.7 370.2,83.3 370.4,83.8 370.5,83.9 370.6,83.8 370.7,83.7 370.9,83.5 371.0,83.1 371.1,82.7 371.2,82.2 371.4,81.6 371.5,81.0 371.6,80.2 371.8,79.5 371.9,78.7 372.0,77.9 372.1,77.0 372.3,76.2 372.4,75.3 372.5,74.5 372.6,73.7 372.8,72.9 372.9,72.2 373.0,71.6 373.2,71.0 373.3,70.5 373.4,70.1 373.5,69.7 373.7,69.5 373.8,69.3 373.9,69.3 374.1,69.5 374.2,70.1 374.3,71.0 374.4,72.2 374.6,73.6 374.7,75.1 374.8,76.7 375.0,78.1 375.1,79.3 375.2,80.2 375.4,80.8 375.5,81.0 375.6,81.0 375.7,80.9 375.9,80.7 376.0,80.5 376.1,80.2 376.2,79.8 376.4,79.4 376.5,79.0 376.6,78.5 376.7,78.0 376.8,77.4 377.0,76.8 377.1,76.2 377.2,75.6 377.3,75.0 377.5,74.4 377.6,73.8 377.7,73.3 377.8,72.8 378.0,72.3 378.1,71.8 378.2,71.4 378.3,71.1 378.4,70.8 378.6,70.5 378.7,70.4 378.8,70.3 378.9,70.2 379.1,70.4 379.2,71.1 379.3,72.1 379.5,73.4 379.6,74.9 379.7,76.6 379.9,78.2 380.0,79.8 380.1,81.1 380.2,82.1 380.4,82.7 380.5,82.9 380.6,82.9 380.8,82.7 380.9,82.5 381.0,82.2 381.1,81.8 381.3,81.3 381.4,80.7 381.5,80.1 381.7,79.5 381.8,78.8 381.9,78.1 382.0,77.5 382.2,76.8 382.3,76.2 382.4,75.6 382.6,75.0 382.7,74.5 382.8,74.1 382.9,73.8 383.1,73.5 383.2,73.4 383.3,73.3 383.4,73.4 383.6,73.5 383.7,73.6 383.8,73.9 384.0,74.1 384.1,74.4 384.2,74.8 384.3,75.2 384.5,75.6 384.6,76.0 384.7,76.4 384.8,76.8 385.0,77.2 385.1,77.5 385.2,77.9 385.3,78.1 385.5,78.3 385.6,78.5 385.7,78.6 385.8,78.6 386.0,78.6 386.1,78.5 386.2,78.3 386.3,78.1 386.5,77.8 386.6,77.4 386.7,77.1 386.9,76.7 387.0,76.3 387.1,75.9 387.2,75.5 387.4,75.2 387.5,74.9 387.6,74.6 387.8,74.5 387.9,74.3 388.0,74.3 388.1,74.4 388.3,74.6 388.4,74.9 388.5,75.4 388.7,76.0 388.8,76.6 388.9,77.3 389.0,78.0 389.2,78.7 389.3,79.3 389.4,79.9 389.5,80.4 389.7,80.7 389.8,80.9 389.9,81.0 390.0,81.0 390.2,80.9 390.3,80.7 390.4,80.5 390.5,80.3 390.7,79.9 390.8,79.6 390.9,79.2 391.1,78.8 391.2,78.3 391.3,77.9 391.4,77.5 391.6,77.0 391.7,76.6 391.8,76.2 392.0,75.9 392.1,75.5 392.2,75.3 392.3,75.1 392.5,74.9 392.6,74.8 392.7,74.8 392.8,74.8 393.0,74.9 393.1,75.0 393.2,75.1 393.3,75.3 393.5,75.4 393.6,75.6 393.7,75.9 393.8,76.1 394.0,76.3 394.1,76.6 394.2,76.8 394.3,77.0 394.5,77.2 394.6,77.4 394.7,77.5 394.8,77.6 394.9,77.7 395.1,77.7 395.2,77.7 395.3,77.6 395.4,77.5 395.6,77.4 395.7,77.2 395.8,77.0 395.9,76.8 396.1,76.6 396.2,76.3 396.3,76.1 396.4,75.8 396.6,75.6 396.7,75.4 396.8,75.2 396.9,75.0 397.1,74.9 397.2,74.8 397.3,74.7 397.4,74.7 397.5,74.7 397.7,74.8 397.8,74.9 397.9,75.0 398.0,75.1 398.2,75.3 398.3,75.5 398.4,75.7 398.5,75.9 398.7,76.1 398.8,76.3 398.9,76.5 399.0,76.7 399.2,76.9 399.3,77.0 399.4,77.1 399.5,77.2 399.6,77.3 399.8,77.3 399.9,77.3 400.0,77.2 400.1,77.1 400.3,77.0 400.4,76.9 400.5,76.7 400.6,76.6 400.8,76.4 400.9,76.2 401.0,76.0 401.1,75.8 401.3,75.6 401.4,75.5 401.5,75.3 401.6,75.2 401.8,75.1 401.9,75.0 402.0,75.0 402.1,74.9 402.2,75.0 402.4,75.0 402.5,75.1 402.6,75.2 402.7,75.3 402.9,75.4 403.0,75.5 403.1,75.7 403.2,75.9 403.4,76.0 403.5,76.2 403.6,76.3 403.7,76.5 403.9,76.6 404.0,76.7 404.1,76.8 404.2,76.9 404.3,76.9 404.5,76.9 404.6,76.9 404.7,76.9 404.8,76.8 405.0,76.8 405.1,76.7 405.2,76.6 405.3,76.5 405.5,76.3 405.6,76.2 405.7,76.1 405.8,75.9 406.0,75.8 406.1,75.7 406.2,75.6 406.3,75.5 406.4,75.4 406.6,75.4 406.7,75.3 406.8,75.3 406.9,75.3 407.1,75.4 407.2,75.4 407.3,75.5 407.4,75.5 407.6,75.6 407.7,75.7 407.8,75.8 407.9,75.9 408.1,76.0 408.2,76.1 408.3,76.2 408.4,76.3 408.6,76.4 408.7,76.5 408.8,76.5 408.9,76.6 409.0,76.6 409.2,76.6 409.3,76.6 409.4,76.6 409.5,76.5 409.7,76.4 409.8,76.3 409.9,76.2 410.0,76.1 410.2,76.0 410.3,75.8 410.4,75.7 410.5,75.5 410.7,75.4 410.8,75.2 410.9,75.1 411.0,75.0 411.1,75.0 411.3,74.9 411.4,74.9 411.5,74.8 411.6,74.9 411.8,74.9 411.9,74.9 412.0,75.0 412.1,75.1 412.3,75.2 412.4,75.3 412.5,75.5 412.6,75.6 412.8,75.7 412.9,75.9 413.0,76.0 413.1,76.1 413.3,76.2 413.4,76.3 413.5,76.4 413.6,76.5 413.7,76.5 413.9,76.5 414.0,76.5 414.1,76.5 414.2,76.4 414.4,76.4 414.5,76.3 414.6,76.2 414.7,76.1 414.9,76.0 415.0,75.9 415.1,75.8 415.2,75.7 415.4,75.6 415.5,75.5 415.6,75.4 415.7,75.3 415.8,75.3 416.0,75.2 416.1,75.2 416.2,75.2 416.3,75.2 416.5,75.2 416.6,75.3 416.7,75.3 416.8,75.4 417.0,75.5 417.1,75.6 417.2,75.7 417.3,75.8 417.5,76.0 417.6,76.1 417.7,76.2 417.8,76.3 418.0,76.4 418.1,76.5 418.2,76.5 418.3,76.6 418.4,76.6 418.6,76.6 418.7,76.6 418.8,76.6 418.9,76.5 419.1,76.5 419.2,76.4 419.3,76.3 419.4,76.2 419.6,76.1 419.7,76.0 419.8,75.9 419.9,75.8 420.1,75.7 420.2,75.6 420.3,75.5 420.4,75.4 420.5,75.4 420.7,75.3 420.8,75.3 420.9,75.3 421.0,75.3 421.2,75.3 421.3,75.4 421.4,75.4 421.5,75.5 421.7,75.6 421.8,75.6 421.9,75.7 422.0,75.8 422.2,75.9 422.3,76.0 422.4,76.1 422.5,76.2 422.6,76.2 422.8,76.3 422.9,76.4 423.0,76.4 423.1,76.4 423.3,76.4 423.4,76.4 423.5,76.4 423.6,76.4 423.8,76.3 423.9,76.3 424.0,76.2 424.1,76.1 424.3,76.1 424.4,76.0 424.5,75.9 424.6,75.8 424.8,75.7 424.9,75.7 425.0,75.6 425.1,75.6 425.2,75.5 425.4,75.5 425.5,75.5 425.6,75.5 425.7,75.5 425.9,75.5 426.0,75.5 426.1,75.5 426.2,75.6 426.4,75.6 426.5,75.7 426.6,75.7 426.7,75.8 426.9,75.9 427.0,75.9 427.1,76.0 427.2,76.0 427.3,76.1 427.5,76.1 427.6,76.2 427.7,76.2 427.8,76.2 428.0,76.2 428.1,76.2 428.2,76.2 428.3,76.2 428.5,76.2 428.6,76.1 428.7,76.1 428.8,76.1 429.0,76.0 429.1,76.0 429.2,75.9 429.3,75.9 429.5,75.8 429.6,75.8 429.7,75.8 429.8,75.7 429.9,75.7 430.1,75.7 430.2,75.7 430.3,75.7 430.4,75.7 430.6,75.7 430.7,75.7 430.8,75.7 430.9,75.8 431.1,75.8 431.2,75.8 431.3,75.9 431.4,75.9 431.6,76.0 431.7,76.0 431.8,76.0 431.9,76.1 432.0,76.1 432.2,76.1 432.3,76.2 432.4,76.2 432.5,76.2 432.7,76.2 432.8,76.2 432.9,76.2 433.0,76.2 433.2,76.1 433.3,76.1 433.4,76.1 433.5,76.1 433.7,76.0 433.8,76.0 433.9,75.9 434.0,75.9 434.2,75.9 434.3,75.8 434.4,75.8 434.5,75.8 434.6,75.7 434.8,75.7 434.9,75.7 435.0,75.7 435.1,75.7 435.3,75.7 435.4,75.7 435.5,75.8 435.6,75.8 435.8,75.8 435.9,75.8 436.0,75.9 436.1,75.9 436.3,75.9 436.4,76.0 436.5,76.0 436.6,76.0 436.7,76.1 436.9,76.1 437.0,76.1 437.1,76.1 437.2,76.1 437.4,76.1 437.5,76.1 437.6,76.1 437.7,76.1 437.9,76.1 438.0,76.1 438.1,76.0 438.2,76.0 438.4,76.0 438.5,76.0 438.6,75.9 438.7,75.9 438.9,75.9 439.0,75.8 439.1,75.8 439.2,75.8 439.3,75.8 439.5,75.8 439.6,75.8 439.7,75.8 439.8,75.8 440.0,75.8 440.1,75.8 440.2,75.8 440.3,75.8 440.5,75.9 440.6,75.9 440.7,75.9 440.8,76.0 441.0,76.0 441.1,76.0 441.2,76.1 441.3,76.1 441.4,76.1 441.6,76.1 441.7,76.2 441.8,76.2 441.9,76.2 442.1,76.2 442.2,76.2 442.3,76.2 442.4,76.2 442.6,76.1 442.7,76.1 442.8,76.1 442.9,76.1 443.1,76.0 443.2,76.0 443.3,76.0 443.4,75.9 443.5,75.9 443.7,75.9 443.8,75.8 443.9,75.8 444.0,75.8 444.2,75.8 444.3,75.8 444.4,75.8 444.5,75.8 444.7,75.8 444.8,75.8 444.9,75.8 445.0,75.8 445.2,75.9 445.3,75.9 445.4,75.9 445.5,76.0 445.7,76.0 445.8,76.0 445.9,76.1 446.0,76.1 446.1,76.1 446.3,76.2 446.4,76.2 446.5,76.2 446.6,76.2 446.8,76.2 446.9,76.2 447.0,76.2 447.1,76.2 447.3,76.2 447.4,76.1 447.5,76.1 447.6,76.1 447.8,76.0 447.9,76.0 448.0,75.9 448.1,75.9 448.2,75.9 448.4,75.8 448.5,75.8 448.6,75.8 448.7,75.8 448.9,75.7 449.0,75.7 449.1,75.7 449.2,75.7 449.4,75.7 449.5,75.8 449.6,75.8 449.7,75.8 449.9,75.8 450.0,75.8 450.1,75.9 450.2,75.9 450.4,75.9 450.5,76.0 450.6,76.0 450.7,76.0 450.8,76.0 451.0,76.1 451.1,76.1 451.2,76.1 451.3,76.1 451.5,76.1 451.6,76.1 451.7,76.1 451.8,76.1 452.0,76.1 452.1,76.0 452.2,76.0 452.3,76.0 452.5,76.0 452.6,75.9 452.7,75.9 452.8,75.9 452.9,75.9 453.1,75.8 453.2,75.8 453.3,75.8 453.4,75.8 453.6,75.8 453.7,75.8 453.8,75.8 453.9,75.8 454.1,75.8 454.2,75.8 454.3,75.8 454.4,75.8 454.6,75.8 454.7,75.8 454.8,75.8 454.9,75.8 455.1,75.9 455.2,75.9 455.3,75.9 455.4,75.9 455.5,75.9 455.7,75.9 455.8,75.9 455.9,75.9 456.0,75.9 456.2,75.9 458.5,75.9 460.9,75.9 463.2,75.9 465.6,75.9 467.9,75.9 511.8,75.9" fill="none" stroke="#f42c32" stroke-width="1.0" stroke-linejoin="round"/>
<text x="322.45" y="108.56" font-size="4.9" class="sn" textLength="2.7" lengthAdjust="spacingAndGlyphs">0</text>
<line x1="355.13" y1="74.92" x2="355.13" y2="76.22" stroke="#1c1c1c" stroke-width="0.5"/>
<text x="352.43" y="108.56" font-size="4.9" class="sn" textLength="5.4" lengthAdjust="spacingAndGlyphs">10</text>
<line x1="386.46" y1="74.92" x2="386.46" y2="76.22" stroke="#1c1c1c" stroke-width="0.5"/>
<text x="383.76" y="108.56" font-size="4.9" class="sn" textLength="5.4" lengthAdjust="spacingAndGlyphs">20</text>
<line x1="417.79" y1="74.92" x2="417.79" y2="76.22" stroke="#1c1c1c" stroke-width="0.5"/>
<text x="415.09" y="108.56" font-size="4.9" class="sn" textLength="5.4" lengthAdjust="spacingAndGlyphs">30</text>
<line x1="449.11" y1="74.92" x2="449.11" y2="76.22" stroke="#1c1c1c" stroke-width="0.5"/>
<text x="446.42" y="108.56" font-size="4.9" class="sn" textLength="5.4" lengthAdjust="spacingAndGlyphs">40</text>
<line x1="480.44" y1="74.92" x2="480.44" y2="76.22" stroke="#1c1c1c" stroke-width="0.5"/>
<text x="477.75" y="108.56" font-size="4.9" class="sn" textLength="5.4" lengthAdjust="spacingAndGlyphs">50</text>
<line x1="511.77" y1="74.92" x2="511.77" y2="76.22" stroke="#1c1c1c" stroke-width="0.5"/>
<text x="509.08" y="108.56" font-size="4.9" class="sn" textLength="5.4" lengthAdjust="spacingAndGlyphs">60</text>
<text x="540.40" y="108.56" font-size="4.9" class="sn" textLength="5.4" lengthAdjust="spacingAndGlyphs">70</text>
<text x="312.78" y="101.96" font-size="4.9" class="sn" textLength="7.0" lengthAdjust="spacingAndGlyphs">-10</text>
<line x1="323.80" y1="88.21" x2="325.10" y2="88.21" stroke="#1c1c1c" stroke-width="0.5"/>
<text x="315.47" y="89.98" font-size="4.9" class="sn" textLength="4.3" lengthAdjust="spacingAndGlyphs">-5</text>
<line x1="323.80" y1="76.22" x2="325.10" y2="76.22" stroke="#1c1c1c" stroke-width="0.5"/>
<text x="317.11" y="77.99" font-size="4.9" class="sn" textLength="2.7" lengthAdjust="spacingAndGlyphs">0</text>
<line x1="323.80" y1="64.24" x2="325.10" y2="64.24" stroke="#1c1c1c" stroke-width="0.5"/>
<text x="317.11" y="66.00" font-size="4.9" class="sn" textLength="2.7" lengthAdjust="spacingAndGlyphs">5</text>
<line x1="323.80" y1="52.25" x2="325.10" y2="52.25" stroke="#1c1c1c" stroke-width="0.5"/>
<text x="314.41" y="54.01" font-size="4.9" class="sn" textLength="5.4" lengthAdjust="spacingAndGlyphs">10</text>
<line x1="323.80" y1="40.26" x2="325.10" y2="40.26" stroke="#1c1c1c" stroke-width="0.5"/>
<text x="314.41" y="42.03" font-size="4.9" class="sn" textLength="5.4" lengthAdjust="spacingAndGlyphs">15</text>
<line x1="323.80" y1="28.28" x2="325.10" y2="28.28" stroke="#1c1c1c" stroke-width="0.5"/>
<text x="314.41" y="30.04" font-size="4.9" class="sn" textLength="5.4" lengthAdjust="spacingAndGlyphs">20</text>
<line x1="323.80" y1="16.29" x2="325.10" y2="16.29" stroke="#1c1c1c" stroke-width="0.5"/>
<text x="314.41" y="18.05" font-size="4.9" class="sn" textLength="5.4" lengthAdjust="spacingAndGlyphs">25</text>
<text x="314.41" y="6.06" font-size="4.9" class="sn" textLength="5.4" lengthAdjust="spacingAndGlyphs">30</text>
<rect x="323.8" y="4.3" width="219.30" height="95.90" fill="none" stroke="#666666" stroke-width="0.8"/>
<path d="M543.1 4.3V100.2H323.8" fill="none" stroke="#3c3c3c" stroke-width="0.9"/>
<text x="416.50" y="124.40" font-size="6.0" class="sf" textLength="30.0" lengthAdjust="spacingAndGlyphs">Time (Sec)</text>
<g transform="translate(306.90,83.20) rotate(-90)"><text x="0.00" y="0.00" font-size="6.4" class="sf" textLength="68.6" lengthAdjust="spacingAndGlyphs" xml:space="preserve">Roof  displacement (cm)</text></g>
<line x1="323.5" y1="4.3" x2="323.5" y2="100.2" stroke="#6b6b6b" stroke-width="1.4"/>
<rect x="463.3" y="7.4" width="76.20" height="25.70" fill="#fff" stroke="#4a4a4a" stroke-width="0.7"/>
<line x1="469.4" y1="13.1" x2="477" y2="13.1" stroke="#909090" stroke-width="0.7"/>
<text x="477.70" y="15.09" font-size="5.7" class="sn" textLength="40.2" lengthAdjust="spacingAndGlyphs">Original structure</text>
<line x1="469.4" y1="20.3" x2="477" y2="20.3" stroke="#f42c32" stroke-width="0.8"/>
<text x="479.00" y="22.30" font-size="5.7" class="sn" textLength="35.0" lengthAdjust="spacingAndGlyphs">SC-DSD Retrofit</text>
<line x1="469.4" y1="26.8" x2="477" y2="26.8" stroke="#2390d6" stroke-width="1.2"/>
<text x="477.70" y="28.80" font-size="5.7" class="sn" textLength="57.0" lengthAdjust="spacingAndGlyphs">Conventional SD Retrofit</text>
<path d="M509.4 65.3V76.1M506 65.3H511.8" stroke="#555" stroke-width="0.4" fill="none"/>
<line x1="323.8" y1="76.22" x2="511.77" y2="76.22" stroke="#2a0000" stroke-width="0.9" opacity="0.55"/>
<path d="M509.6 72.3C513.5 74 512.8 77.3 507 81" stroke="#444" stroke-width="0.5" fill="none"/>
<path d="M505.8 81.7L508 81.1L506.9 79.8Z" fill="#333"/>
<text x="467.90" y="87.10" font-size="5.6" class="sn" textLength="62.1" lengthAdjust="spacingAndGlyphs">Max residual disp. (45 mm)</text>
<text x="406.50" y="146.40" font-size="10.9" class="sf cap" textLength="37.1" lengthAdjust="spacingAndGlyphs">(<tspan font-weight="bold">f</tspan>) Kobe</text>
<line x1="171.2" y1="260.67" x2="401.6" y2="260.67" stroke="#e6ebf4" stroke-width="0.7"/>
<line x1="171.2" y1="247.45" x2="401.6" y2="247.45" stroke="#e6ebf4" stroke-width="0.7"/>
<line x1="171.2" y1="234.22" x2="401.6" y2="234.22" stroke="#e6ebf4" stroke-width="0.7"/>
<line x1="171.2" y1="207.77" x2="401.6" y2="207.77" stroke="#e6ebf4" stroke-width="0.7"/>
<line x1="171.2" y1="194.55" x2="401.6" y2="194.55" stroke="#e6ebf4" stroke-width="0.7"/>
<line x1="171.2" y1="181.32" x2="401.6" y2="181.32" stroke="#e6ebf4" stroke-width="0.7"/>
<line x1="171.2" y1="221.00" x2="401.6" y2="221.00" stroke="#1c1c1c" stroke-width="0.9"/>
<polyline points="171.2,221.0 171.4,221.0 171.6,221.0 171.8,220.9 172.0,220.9 172.2,220.9 172.4,220.9 172.5,220.9 172.7,221.0 172.9,221.0 173.1,221.1 173.3,221.2 173.5,221.3 173.7,221.3 173.9,221.3 174.1,221.2 174.3,221.1 174.5,221.0 174.7,220.9 174.8,220.8 175.0,220.8 175.2,220.8 175.4,220.9 175.6,220.9 175.8,221.0 176.0,221.0 176.2,221.0 176.4,220.9 176.6,220.8 176.8,220.7 177.0,220.7 177.2,220.6 177.3,220.7 177.5,220.8 177.7,221.0 177.9,221.2 178.1,221.4 178.3,221.6 178.5,221.7 178.7,221.7 178.9,221.6 179.1,221.4 179.3,221.2 179.5,220.8 179.6,220.6 179.8,220.3 180.0,220.2 180.2,220.2 180.4,220.3 180.6,220.5 180.8,220.7 181.0,221.0 181.2,221.2 181.4,221.4 181.6,221.5 181.8,221.5 182.0,221.4 182.1,221.3 182.3,221.1 182.5,221.0 182.7,221.0 182.9,221.0 183.1,221.0 183.3,221.1 183.5,221.2 183.7,221.2 183.9,221.2 184.1,221.2 184.3,221.0 184.4,220.8 184.6,220.6 184.8,220.4 185.0,220.3 185.2,220.2 185.4,220.3 185.6,220.5 185.8,220.8 186.0,221.2 186.2,221.5 186.4,221.8 186.6,221.9 186.8,222.0 186.9,221.8 187.1,221.6 187.3,221.3 187.5,221.0 187.7,220.7 187.9,220.5 188.1,220.3 188.3,220.3 188.5,220.4 188.7,220.6 188.9,220.7 189.1,220.9 189.2,221.1 189.4,221.1 189.6,221.1 189.8,221.1 190.0,221.0 190.2,220.9 190.4,220.9 190.6,220.9 190.8,221.0 191.0,221.2 191.2,221.4 191.4,221.5 191.6,221.7 191.7,221.7 191.9,221.6 192.1,221.5 192.3,221.2 192.5,220.8 192.7,220.5 192.9,220.2 193.1,220.0 193.3,219.9 193.5,220.0 193.7,220.3 193.9,220.6 194.0,221.0 194.2,221.4 194.4,221.7 194.6,221.9 194.8,221.9 195.0,221.8 195.2,221.6 195.4,221.4 195.6,221.1 195.8,220.9 196.0,220.7 196.2,220.7 196.4,220.7 196.5,220.8 196.7,220.9 196.9,221.0 197.1,221.0 197.3,221.0 197.5,220.9 197.7,220.8 197.9,220.6 198.1,220.5 198.3,220.4 198.5,220.4 198.7,220.6 198.8,220.8 199.0,221.2 199.2,221.5 199.4,221.8 199.6,222.0 199.8,222.1 200.0,222.0 200.2,221.8 200.4,221.4 200.6,221.0 200.8,220.6 201.0,220.2 201.2,219.9 201.3,219.8 201.5,219.9 201.7,220.1 201.9,220.4 202.1,220.8 202.3,221.2 202.5,221.5 202.7,221.6 202.9,221.6 203.1,221.6 203.3,221.4 203.5,221.2 203.6,221.1 203.8,221.0 204.0,221.0 204.2,221.1 204.4,221.2 204.6,221.4 204.8,221.5 205.0,221.5 205.2,221.4 205.4,221.2 205.6,220.8 205.8,220.4 206.0,220.0 206.1,219.7 206.3,219.6 206.5,219.7 206.7,220.0 206.9,220.4 207.1,221.0 207.3,221.6 207.5,222.1 207.7,222.5 207.9,222.7 208.1,222.6 208.3,222.3 208.4,221.9 208.6,221.3 208.8,220.7 209.0,220.3 209.2,219.9 209.4,219.8 209.6,219.9 209.8,220.1 210.0,220.4 210.2,220.7 210.4,221.0 210.6,221.1 210.8,221.2 210.9,221.1 211.1,220.9 211.3,220.7 211.5,220.6 211.7,220.7 211.9,220.9 212.1,221.2 212.3,221.6 212.5,222.0 212.7,222.4 212.9,222.6 213.1,222.5 213.2,222.2 213.4,221.7 213.6,221.0 213.8,220.2 214.0,219.5 214.2,219.0 214.4,218.8 214.6,218.8 214.8,219.2 215.0,219.8 215.2,220.6 215.4,221.4 215.6,222.1 215.7,222.6 215.9,222.8 216.1,222.8 216.3,222.5 216.5,222.0 216.7,221.5 216.9,221.0 217.1,220.6 217.3,220.5 217.5,220.5 217.7,220.6 217.9,220.8 218.0,221.0 218.2,221.1 218.4,221.1 218.6,220.9 218.8,220.5 219.0,221.0 219.2,221.0 219.3,221.0 219.4,221.0 219.4,220.9 219.5,220.9 219.6,220.9 219.7,220.8 219.7,220.7 219.8,220.7 219.9,220.6 220.0,220.5 220.1,220.4 220.1,220.3 220.2,220.2 220.3,220.2 220.4,220.1 220.5,220.0 220.6,219.9 220.7,219.9 220.8,219.8 220.9,219.8 221.0,219.8 221.1,219.9 221.2,220.0 221.2,220.1 221.3,220.2 221.4,220.4 221.5,220.6 221.5,220.8 221.6,221.1 221.7,221.3 221.8,221.6 221.8,221.9 221.9,222.1 222.0,222.4 222.1,222.6 222.1,222.8 222.2,223.0 222.3,223.2 222.4,223.4 222.4,223.5 222.5,223.6 222.6,223.6 222.7,223.6 222.8,223.5 222.9,223.3 223.0,223.0 223.0,222.7 223.1,222.3 223.2,221.8 223.3,221.4 223.3,220.9 223.4,220.3 223.5,219.8 223.6,219.3 223.7,218.8 223.7,218.4 223.8,218.0 223.9,217.7 224.0,217.4 224.0,217.2 224.1,217.1 224.2,217.0 224.3,217.1 224.3,217.3 224.4,217.5 224.5,217.9 224.6,218.4 224.7,219.0 224.7,219.6 224.8,220.4 224.9,221.2 225.0,222.2 225.0,223.2 225.1,224.2 225.2,225.3 225.3,226.4 225.3,227.6 225.4,228.8 225.5,230.0 225.6,231.3 225.7,232.5 225.7,233.7 225.8,234.9 225.9,236.0 226.0,237.1 226.0,238.2 226.1,239.1 226.2,240.1 226.3,240.9 226.3,241.7 226.4,242.3 226.5,242.9 226.6,243.4 226.6,243.8 226.7,244.1 226.8,244.2 226.9,244.3 227.0,243.9 227.0,242.7 227.1,240.7 227.2,238.0 227.3,234.7 227.4,230.9 227.4,226.8 227.5,222.4 227.6,218.0 227.7,213.6 227.7,209.5 227.8,205.7 227.9,202.4 228.0,199.7 228.1,197.8 228.1,196.5 228.2,196.1 228.3,196.3 228.4,196.6 228.5,197.2 228.5,198.0 228.6,199.0 228.7,200.2 228.8,201.6 228.8,203.2 228.9,204.9 229.0,206.8 229.1,208.8 229.1,210.8 229.2,213.0 229.3,215.2 229.4,217.4 229.5,219.7 229.5,221.9 229.6,224.0 229.7,226.1 229.8,228.1 229.8,229.9 229.9,231.7 230.0,233.3 230.1,234.7 230.1,235.9 230.2,236.9 230.3,237.7 230.4,238.3 230.5,238.6 230.5,238.7 230.6,238.5 230.7,237.8 230.8,236.7 230.8,235.2 230.9,233.3 231.0,231.1 231.1,228.5 231.1,225.6 231.2,222.5 231.3,219.3 231.4,215.8 231.4,212.3 231.5,208.8 231.6,205.3 231.7,201.8 231.8,198.6 231.8,195.5 231.9,192.6 232.0,190.0 232.1,187.8 232.1,185.9 232.2,184.4 232.3,183.3 232.4,182.6 232.4,182.4 232.5,182.6 232.6,183.2 232.7,184.1 232.7,185.5 232.8,187.2 232.9,189.2 233.0,191.5 233.1,194.1 233.1,197.0 233.2,200.1 233.3,203.3 233.4,206.6 233.4,210.1 233.5,213.6 233.6,217.1 233.7,220.5 233.7,223.9 233.8,227.1 233.9,230.2 234.0,233.1 234.0,235.7 234.1,238.0 234.2,240.0 234.3,241.7 234.3,243.1 234.4,244.0 234.5,244.6 234.6,244.8 234.6,244.7 234.7,244.2 234.8,243.5 234.9,242.5 234.9,241.3 235.0,239.8 235.1,238.1 235.2,236.2 235.3,234.2 235.3,232.0 235.4,229.8 235.5,227.5 235.6,225.1 235.6,222.8 235.7,220.6 235.8,218.4 235.9,216.4 235.9,214.5 236.0,212.8 236.1,211.3 236.2,210.1 236.2,209.1 236.3,208.4 236.4,207.9 236.5,207.8 236.6,208.0 236.6,208.7 236.7,209.8 236.8,211.3 236.9,213.3 236.9,215.6 237.0,218.2 237.1,221.2 237.2,224.3 237.2,227.7 237.3,231.2 237.4,234.8 237.5,238.4 237.6,242.0 237.6,245.5 237.7,248.9 237.8,252.1 237.9,255.0 237.9,257.6 238.0,259.9 238.1,261.9 238.2,263.4 238.2,264.5 238.3,265.2 238.4,265.4 238.5,265.2 238.6,264.5 238.6,263.3 238.7,261.6 238.8,259.6 238.9,257.1 238.9,254.3 239.0,251.1 239.1,247.7 239.2,244.1 239.2,240.4 239.3,236.6 239.4,232.7 239.5,228.8 239.6,225.1 239.6,221.5 239.7,218.1 239.8,215.0 239.9,212.2 239.9,209.7 240.0,207.6 240.1,206.0 240.2,204.8 240.2,204.1 240.3,203.8 240.4,204.1 240.5,204.9 240.6,206.3 240.6,208.1 240.7,210.4 240.8,213.2 240.9,216.3 240.9,219.7 241.0,223.3 241.1,227.1 241.2,230.9 241.3,234.8 241.3,238.6 241.4,242.2 241.5,245.6 241.6,248.7 241.7,251.4 241.7,253.7 241.8,255.6 241.9,256.9 242.0,257.8 242.0,258.0 242.1,258.0 242.2,257.8 242.3,257.5 242.4,257.1 242.4,256.6 242.5,255.9 242.6,255.2 242.7,254.4 242.7,253.4 242.8,252.3 242.9,251.2 243.0,249.9 243.0,248.6 243.1,247.2 243.2,245.7 243.3,244.1 243.3,242.5 243.4,240.8 243.5,239.0 243.6,237.2 243.6,235.4 243.7,233.5 243.8,231.6 243.9,229.6 243.9,227.7 244.0,225.7 244.1,223.7 244.2,221.7 244.3,219.8 244.3,217.8 244.4,215.9 244.5,214.0 244.6,212.2 244.6,210.4 244.7,208.6 244.8,206.9 244.9,205.3 244.9,203.7 245.0,202.2 245.1,200.8 245.2,199.5 245.2,198.2 245.3,197.1 245.4,196.0 245.5,195.1 245.5,194.2 245.6,193.5 245.7,192.8 245.8,192.3 245.9,191.9 245.9,191.6 246.0,191.4 246.1,191.4 246.2,191.6 246.2,192.2 246.3,193.2 246.4,194.7 246.5,196.5 246.5,198.6 246.6,201.1 246.7,203.9 246.8,207.0 246.8,210.4 246.9,213.9 247.0,217.6 247.1,221.4 247.2,225.4 247.2,229.3 247.3,233.3 247.4,237.2 247.5,241.1 247.5,244.8 247.6,248.3 247.7,251.6 247.8,254.7 247.8,257.5 247.9,260.0 248.0,262.2 248.1,264.0 248.2,265.4 248.2,266.5 248.3,267.1 248.4,267.3 248.5,267.2 248.5,266.8 248.6,266.1 248.7,265.3 248.8,264.1 248.8,262.8 248.9,261.2 249.0,259.4 249.1,257.5 249.2,255.3 249.2,253.0 249.3,250.6 249.4,248.0 249.5,245.4 249.5,242.6 249.6,239.8 249.7,237.0 249.8,234.1 249.8,231.3 249.9,228.5 250.0,225.7 250.1,223.1 250.2,220.5 250.2,218.1 250.3,215.8 250.4,213.6 250.5,211.6 250.5,209.9 250.6,208.3 250.7,207.0 250.8,205.8 250.8,205.0 250.9,204.3 251.0,203.9 251.1,203.8 251.2,204.3 251.2,205.8 251.3,208.1 251.4,211.4 251.5,215.3 251.5,219.9 251.6,224.8 251.7,230.1 251.8,235.4 251.9,240.7 251.9,245.7 252.0,250.2 252.1,254.2 252.2,257.4 252.3,259.8 252.3,261.2 252.4,261.7 252.5,261.5 252.6,260.7 252.6,259.5 252.7,257.8 252.8,255.7 252.9,253.2 252.9,250.3 253.0,247.2 253.1,243.8 253.2,240.2 253.2,236.6 253.3,232.9 253.4,229.3 253.5,225.7 253.5,222.3 253.6,219.2 253.7,216.3 253.8,213.8 253.8,211.7 253.9,210.0 254.0,208.8 254.1,208.0 254.1,207.8 254.2,208.0 254.3,208.8 254.4,210.0 254.5,211.7 254.5,213.8 254.6,216.2 254.7,219.0 254.8,221.9 254.8,225.1 254.9,228.3 255.0,231.5 255.1,234.6 255.1,237.6 255.2,240.3 255.3,242.8 255.4,244.9 255.4,246.5 255.5,247.8 255.6,248.5 255.7,248.8 255.8,248.7 255.8,248.4 255.9,248.0 256.0,247.4 256.1,246.6 256.1,245.7 256.2,244.6 256.3,243.4 256.4,242.0 256.4,240.6 256.5,239.0 256.6,237.3 256.7,235.5 256.8,233.7 256.8,231.8 256.9,229.9 257.0,227.9 257.1,226.0 257.1,224.0 257.2,222.1 257.3,220.2 257.4,218.4 257.4,216.6 257.5,214.9 257.6,213.3 257.7,211.9 257.8,210.5 257.8,209.3 257.9,208.2 258.0,207.3 258.1,206.5 258.1,205.9 258.2,205.5 258.3,205.2 258.4,205.1 258.4,205.3 258.5,205.7 258.6,206.4 258.7,207.4 258.7,208.6 258.8,210.1 258.9,211.9 259.0,213.8 259.0,216.0 259.1,218.3 259.2,220.9 259.3,223.5 259.4,226.3 259.4,229.2 259.5,232.1 259.6,235.1 259.7,238.1 259.7,241.1 259.8,244.0 259.9,246.9 260.0,249.7 260.0,252.3 260.1,254.9 260.2,257.2 260.3,259.4 260.3,261.3 260.4,263.1 260.5,264.6 260.6,265.8 260.6,266.8 260.7,267.5 260.8,267.9 260.9,268.1 260.9,267.7 261.0,266.7 261.1,264.9 261.2,262.5 261.3,259.5 261.3,255.9 261.4,251.9 261.5,247.4 261.6,242.7 261.6,237.8 261.7,232.8 261.8,227.7 261.9,222.8 262.0,218.1 262.0,213.7 262.1,209.6 262.2,206.1 262.3,203.1 262.4,200.7 262.4,198.9 262.5,197.8 262.6,197.5 262.7,197.6 262.7,198.0 262.8,198.6 262.9,199.5 263.0,200.6 263.1,201.9 263.1,203.5 263.2,205.2 263.3,207.1 263.4,209.2 263.4,211.3 263.5,213.6 263.6,216.0 263.7,218.4 263.7,220.9 263.8,223.3 263.9,225.7 264.0,228.1 264.1,230.4 264.1,232.6 264.2,234.6 264.3,236.5 264.4,238.3 264.4,239.8 264.5,241.1 264.6,242.3 264.7,243.1 264.7,243.8 264.8,244.1 264.9,244.3 265.0,244.1 265.0,243.7 265.1,242.9 265.2,241.9 265.3,240.6 265.3,239.1 265.4,237.3 265.5,235.3 265.6,233.1 265.7,230.7 265.7,228.2 265.8,225.7 265.9,223.0 266.0,220.3 266.0,217.7 266.1,215.0 266.2,212.4 266.3,210.0 266.3,207.6 266.4,205.4 266.5,203.4 266.6,201.6 266.6,200.1 266.7,198.8 266.8,197.7 266.9,197.0 266.9,196.6 267.0,196.4 267.1,196.6 267.2,197.3 267.2,198.3 267.3,199.8 267.4,201.7 267.5,203.9 267.5,206.4 267.6,209.2 267.7,212.3 267.8,215.5 267.9,218.9 267.9,222.3 268.0,225.8 268.1,229.2 268.2,232.6 268.2,235.8 268.3,238.9 268.4,241.7 268.5,244.2 268.5,246.4 268.6,248.3 268.7,249.7 268.8,250.8 268.9,251.5 268.9,251.7 269.0,251.3 269.1,250.2 269.2,248.5 269.2,246.0 269.3,243.0 269.4,239.5 269.5,235.6 269.5,231.3 269.6,226.8 269.7,222.2 269.8,217.6 269.8,213.1 269.9,208.8 270.0,204.9 270.1,201.3 270.2,198.3 270.2,195.9 270.3,194.1 270.4,193.1 270.5,192.7 270.5,192.9 270.6,193.6 270.7,194.8 270.8,196.4 270.9,198.4 270.9,200.8 271.0,203.5 271.1,206.4 271.2,209.5 271.2,212.8 271.3,216.1 271.4,219.4 271.5,222.7 271.6,225.8 271.6,228.8 271.7,231.4 271.8,233.8 271.9,235.8 272.0,237.4 272.0,238.6 272.1,239.3 272.2,239.5 272.3,239.3 272.3,238.7 272.4,237.7 272.5,236.3 272.6,234.6 272.7,232.6 272.7,230.4 272.8,228.0 272.9,225.5 273.0,222.9 273.0,220.2 273.1,217.7 273.2,215.3 273.3,213.1 273.3,211.1 273.4,209.4 273.5,208.0 273.6,207.0 273.7,206.4 273.7,206.2 273.8,206.4 273.9,206.9 274.0,207.7 274.0,208.8 274.1,210.3 274.2,211.9 274.3,213.8 274.4,215.9 274.4,218.2 274.5,220.5 274.6,222.9 274.7,225.2 274.7,227.5 274.8,229.8 274.9,231.9 275.0,233.8 275.1,235.4 275.1,236.9 275.2,238.0 275.3,238.8 275.4,239.3 275.5,239.5 275.5,239.4 275.6,239.1 275.7,238.5 275.8,237.7 275.8,236.7 275.9,235.5 276.0,234.1 276.1,232.6 276.1,230.8 276.2,229.0 276.3,227.0 276.4,225.0 276.5,222.9 276.5,220.7 276.6,218.5 276.7,216.3 276.8,214.1 276.8,212.0 276.9,209.9 277.0,208.0 277.1,206.1 277.1,204.4 277.2,202.9 277.3,201.5 277.4,200.3 277.5,199.3 277.5,198.5 277.6,197.9 277.7,197.6 277.8,197.5 277.8,197.7 277.9,198.4 278.0,199.6 278.1,201.2 278.2,203.3 278.2,205.7 278.3,208.4 278.4,211.4 278.5,214.6 278.5,217.9 278.6,221.3 278.7,224.7 278.8,228.0 278.9,231.2 278.9,234.1 279.0,236.9 279.1,239.3 279.2,241.3 279.3,242.9 279.3,244.1 279.4,244.8 279.5,245.1 279.6,244.9 279.6,244.3 279.7,243.4 279.8,242.1 279.9,240.5 279.9,238.5 280.0,236.3 280.1,233.9 280.2,231.2 280.3,228.4 280.3,225.5 280.4,222.5 280.5,219.5 280.6,216.5 280.6,213.6 280.7,210.8 280.8,208.1 280.9,205.7 280.9,203.5 281.0,201.5 281.1,199.9 281.2,198.6 281.3,197.7 281.3,197.1 281.4,196.9 281.5,197.1 281.6,197.6 281.6,198.5 281.7,199.7 281.8,201.2 281.9,203.0 281.9,205.1 282.0,207.4 282.1,209.9 282.2,212.7 282.2,215.5 282.3,218.5 282.4,221.6 282.5,224.7 282.5,227.8 282.6,230.9 282.7,233.9 282.8,236.8 282.8,239.5 282.9,242.0 283.0,244.3 283.1,246.4 283.1,248.2 283.2,249.7 283.3,250.9 283.4,251.8 283.4,252.3 283.5,252.5 283.6,252.1 283.7,251.1 283.8,249.5 283.8,247.3 283.9,244.5 284.0,241.2 284.1,237.6 284.1,233.7 284.2,229.5 284.3,225.2 284.4,221.0 284.4,216.8 284.5,212.9 284.6,209.2 284.7,206.0 284.7,203.2 284.8,201.0 284.9,199.3 285.0,198.3 285.1,198.0 285.1,198.1 285.2,198.6 285.3,199.3 285.4,200.3 285.4,201.5 285.5,203.0 285.6,204.7 285.7,206.7 285.7,208.8 285.8,211.1 285.9,213.6 286.0,216.2 286.1,218.8 286.1,221.6 286.2,224.3 286.3,227.1 286.4,229.8 286.4,232.4 286.5,235.0 286.6,237.5 286.7,239.8 286.7,241.9 286.8,243.9 286.9,245.6 287.0,247.1 287.1,248.3 287.1,249.3 287.2,250.0 287.3,250.5 287.4,250.6 287.4,250.5 287.5,250.0 287.6,249.2 287.7,248.1 287.7,246.7 287.8,245.0 287.9,243.1 288.0,241.0 288.1,238.7 288.1,236.3 288.2,233.8 288.3,231.2 288.4,228.6 288.4,226.0 288.5,223.4 288.6,221.0 288.7,218.7 288.7,216.6 288.8,214.7 288.9,213.1 289.0,211.7 289.0,210.6 289.1,209.7 289.2,209.3 289.3,209.1 289.4,209.2 289.4,209.3 289.5,209.7 289.6,210.1 289.7,210.6 289.7,211.3 289.8,212.0 289.9,212.9 290.0,213.8 290.1,214.9 290.1,215.9 290.2,217.1 290.3,218.3 290.4,219.5 290.4,220.8 290.5,222.1 290.6,223.3 290.7,224.6 290.8,225.8 290.8,227.0 290.9,228.2 291.0,229.3 291.1,230.3 291.2,231.2 291.2,232.1 291.3,232.8 291.4,233.5 291.5,234.0 291.5,234.5 291.6,234.8 291.7,235.0 291.8,235.0 291.9,234.8 291.9,234.3 292.0,233.3 292.1,232.1 292.1,230.5 292.2,228.7 292.3,226.8 292.4,224.6 292.4,222.5 292.5,220.3 292.6,218.2 292.7,216.2 292.7,214.4 292.8,212.8 292.9,211.6 293.0,210.6 293.0,210.1 293.1,209.9 293.2,210.0 293.3,210.4 293.4,211.0 293.4,211.9 293.5,213.0 293.6,214.3 293.7,215.8 293.7,217.4 293.8,219.2 293.9,221.1 294.0,223.1 294.0,225.1 294.1,227.2 294.2,229.2 294.3,231.2 294.3,233.1 294.4,234.9 294.5,236.5 294.6,238.0 294.7,239.3 294.7,240.4 294.8,241.3 294.9,241.9 295.0,242.3 295.0,242.4 295.1,242.3 295.2,241.9 295.3,241.2 295.3,240.2 295.4,239.0 295.5,237.6 295.6,236.0 295.7,234.1 295.7,232.2 295.8,230.1 295.9,227.9 296.0,225.7 296.0,223.4 296.1,221.2 296.2,219.1 296.3,217.0 296.3,215.0 296.4,213.2 296.5,211.6 296.6,210.1 296.7,208.9 296.7,208.0 296.8,207.3 296.9,206.9 297.0,206.7 297.0,206.9 297.1,207.3 297.2,208.0 297.3,209.0 297.4,210.2 297.4,211.6 297.5,213.3 297.6,215.2 297.7,217.2 297.7,219.4 297.8,221.7 297.9,224.1 298.0,226.5 298.1,229.0 298.1,231.4 298.2,233.8 298.3,236.1 298.4,238.3 298.4,240.3 298.5,242.2 298.6,243.9 298.7,245.3 298.8,246.5 298.8,247.5 298.9,248.2 299.0,248.6 299.1,248.8 299.1,248.5 299.2,247.8 299.3,246.6 299.4,245.0 299.5,243.0 299.5,240.7 299.6,238.1 299.7,235.2 299.8,232.3 299.8,229.2 299.9,226.1 300.0,223.2 300.1,220.3 300.1,217.7 300.2,215.4 300.3,213.4 300.4,211.8 300.5,210.6 300.5,209.9 300.6,209.6 300.7,209.7 300.8,210.0 300.8,210.5 300.9,211.2 301.0,212.0 301.1,213.0 301.2,214.2 301.2,215.5 301.3,216.9 301.4,218.4 301.5,220.0 301.5,221.6 301.6,223.3 301.7,225.0 301.8,226.7 301.9,228.3 301.9,229.9 302.0,231.4 302.1,232.9 302.2,234.2 302.3,235.3 302.3,236.3 302.4,237.2 302.5,237.8 302.6,238.3 302.6,238.6 302.7,238.7 302.8,238.6 302.9,238.1 303.0,237.3 303.0,236.2 303.1,234.8 303.2,233.2 303.3,231.4 303.3,229.5 303.4,227.5 303.5,225.4 303.6,223.3 303.6,221.2 303.7,219.3 303.8,217.5 303.9,215.9 303.9,214.6 304.0,213.5 304.1,212.7 304.2,212.2 304.3,212.0 304.3,212.1 304.4,212.3 304.5,212.7 304.6,213.3 304.6,214.0 304.7,214.8 304.8,215.8 304.9,216.9 304.9,218.1 305.0,219.3 305.1,220.7 305.2,222.1 305.2,223.5 305.3,225.0 305.4,226.4 305.5,227.9 305.5,229.2 305.6,230.6 305.7,231.9 305.8,233.0 305.8,234.1 305.9,235.1 306.0,235.9 306.1,236.6 306.1,237.2 306.2,237.6 306.3,237.8 306.4,237.9 306.4,237.8 306.5,237.3 306.6,236.5 306.7,235.4 306.8,234.0 306.8,232.4 306.9,230.6 307.0,228.7 307.1,226.7 307.1,224.6 307.2,222.5 307.3,220.4 307.4,218.5 307.4,216.7 307.5,215.1 307.6,213.8 307.7,212.7 307.8,211.9 307.8,211.4 307.9,211.2 308.0,211.3 308.1,211.7 308.1,212.3 308.2,213.0 308.3,214.0 308.4,215.2 308.5,216.5 308.5,217.9 308.6,219.5 308.7,221.1 308.8,222.7 308.8,224.4 308.9,226.0 309.0,227.5 309.1,228.9 309.2,230.3 309.2,231.4 309.3,232.4 309.4,233.2 309.5,233.8 309.6,234.1 309.6,234.2 309.7,234.1 309.8,233.7 309.9,232.9 309.9,232.0 310.0,230.8 310.1,229.5 310.2,228.0 310.2,226.4 310.3,224.7 310.4,223.0 310.5,221.4 310.5,219.9 310.6,218.6 310.7,217.4 310.8,216.5 310.8,215.8 310.9,215.3 311.0,215.2 311.1,215.3 311.1,215.6 311.2,216.1 311.3,216.8 311.4,217.7 311.4,218.7 311.5,219.9 311.6,221.1 311.7,222.4 311.7,223.8 311.8,225.1 311.9,226.4 312.0,227.7 312.1,228.8 312.1,229.9 312.2,230.7 312.3,231.4 312.4,232.0 312.4,232.3 312.5,232.4 312.6,232.3 312.7,232.0 312.7,231.5 312.8,230.8 312.9,230.0 313.0,229.0 313.0,228.0 313.1,226.8 313.2,225.6 313.3,224.3 313.4,223.0 313.4,221.8 313.5,220.6 313.6,219.6 313.7,218.6 313.7,217.8 313.8,217.1 313.9,216.6 314.0,216.3 314.0,216.2 314.1,216.3 314.2,216.5 314.3,216.9 314.4,217.3 314.4,217.9 314.5,218.6 314.6,219.5 314.7,220.4 314.7,221.3 314.8,222.4 314.9,223.4 315.0,224.5 315.0,225.7 315.1,226.8 315.2,227.8 315.3,228.9 315.4,229.8 315.4,230.7 315.5,231.6 315.6,232.3 315.7,232.9 315.7,233.3 315.8,233.7 315.9,233.9 316.0,234.0 316.0,233.9 316.1,233.6 316.2,233.1 316.3,232.5 316.4,231.7 316.4,230.8 316.5,229.8 316.6,228.6 316.7,227.4 316.8,226.1 316.8,224.8 316.9,223.5 317.0,222.3 317.1,221.0 317.1,219.9 317.2,218.9 317.3,217.9 317.4,217.2 317.5,216.5 317.5,216.1 317.6,215.8 317.7,215.7 317.8,215.8 317.8,216.0 317.9,216.4 318.0,217.0 318.1,217.7 318.2,218.5 318.2,219.4 318.3,220.4 318.4,221.6 318.5,222.7 318.5,224.0 318.6,225.3 318.7,226.5 318.8,227.8 318.8,229.0 318.9,230.2 319.0,231.3 319.1,232.4 319.2,233.3 319.2,234.1 319.3,234.8 319.4,235.4 319.5,235.8 319.5,236.0 319.6,236.1 319.7,236.0 319.8,235.6 319.8,235.1 319.9,234.3 320.0,233.3 320.1,232.2 320.1,230.9 320.2,229.5 320.3,228.0 320.4,226.4 320.4,224.7 320.5,223.1 320.6,221.4 320.7,219.8 320.7,218.3 320.8,216.9 320.9,215.6 321.0,214.5 321.0,213.5 321.1,212.7 321.2,212.2 321.3,211.9 321.3,211.7 321.4,211.8 321.5,212.0 321.6,212.3 321.7,212.8 321.7,213.4 321.8,214.1 321.9,214.9 322.0,215.7 322.0,216.7 322.1,217.7 322.2,218.8 322.3,219.9 322.4,221.1 322.4,222.2 322.5,223.4 322.6,224.5 322.7,225.6 322.8,226.6 322.8,227.6 322.9,228.5 323.0,229.3 323.1,229.9 323.1,230.5 323.2,231.0 323.3,231.3 323.4,231.5 323.5,231.6 323.5,231.5 323.6,231.4 323.7,231.2 323.8,230.9 323.8,230.5 323.9,230.1 324.0,229.6 324.1,229.0 324.1,228.4 324.2,227.7 324.3,227.0 324.4,226.2 324.4,225.5 324.5,224.7 324.6,223.9 324.7,223.2 324.7,222.4 324.8,221.7 324.9,221.0 325.0,220.4 325.0,219.8 325.1,219.3 325.2,218.9 325.3,218.5 325.3,218.2 325.4,218.0 325.5,217.9 325.6,217.8 325.6,217.9 325.7,218.1 325.8,218.4 325.9,218.9 326.0,219.5 326.0,220.2 326.1,221.0 326.2,221.9 326.3,222.8 326.3,223.9 326.4,224.9 326.5,226.0 326.6,227.1 326.6,228.2 326.7,229.3 326.8,230.3 326.9,231.2 327.0,232.1 327.0,232.9 327.1,233.6 327.2,234.2 327.3,234.7 327.3,235.0 327.4,235.2 327.5,235.3 327.6,235.2 327.6,234.9 327.7,234.5 327.8,233.9 327.9,233.1 327.9,232.2 328.0,231.2 328.1,230.0 328.2,228.8 328.3,227.4 328.3,226.0 328.4,224.6 328.5,223.2 328.6,221.8 328.6,220.4 328.7,219.1 328.8,217.8 328.9,216.7 328.9,215.6 329.0,214.7 329.1,213.9 329.2,213.3 329.3,212.9 329.3,212.6 329.4,212.5 329.5,212.6 329.6,213.0 329.6,213.5 329.7,214.2 329.8,215.2 329.9,216.2 330.0,217.5 330.0,218.8 330.1,220.2 330.2,221.7 330.3,223.2 330.4,224.8 330.4,226.3 330.5,227.7 330.6,229.0 330.7,230.3 330.7,231.3 330.8,232.3 330.9,233.0 331.0,233.5 331.1,233.9 331.1,234.0 331.2,233.9 331.3,233.6 331.4,233.2 331.4,232.7 331.5,232.0 331.6,231.2 331.7,230.2 331.8,229.2 331.8,228.0 331.9,226.8 332.0,225.6 332.1,224.3 332.1,223.0 332.2,221.7 332.3,220.5 332.4,219.3 332.4,218.1 332.5,217.1 332.6,216.1 332.7,215.3 332.7,214.6 332.8,214.1 332.9,213.7 333.0,213.4 333.1,213.3 333.1,213.4 333.2,213.6 333.3,213.9 333.4,214.4 333.4,215.0 333.5,215.7 333.6,216.5 333.7,217.5 333.7,218.5 333.8,219.5 333.9,220.7 334.0,221.9 334.0,223.1 334.1,224.3 334.2,225.5 334.3,226.7 334.3,227.9 334.4,229.1 334.5,230.1 334.6,231.2 334.6,232.1 334.7,232.9 334.8,233.6 334.9,234.2 334.9,234.7 335.0,235.0 335.1,235.2 335.2,235.3 335.2,235.2 335.3,235.1 335.4,234.9 335.5,234.7 335.6,234.4 335.6,234.0 335.7,233.5 335.8,233.0 335.9,232.4 335.9,231.8 336.0,231.2 336.1,230.5 336.2,229.8 336.2,229.1 336.3,228.4 336.4,227.7 336.5,227.0 336.6,226.3 336.6,225.6 336.7,225.0 336.8,224.4 336.9,223.8 336.9,223.3 337.0,222.8 337.1,222.5 337.2,222.1 337.2,221.9 337.3,221.7 337.4,221.6 337.5,221.5 337.5,221.6 337.6,221.7 337.7,221.9 337.8,222.1 337.8,222.4 337.9,222.8 338.0,223.2 338.1,223.7 338.1,224.2 338.2,224.7 338.3,225.2 338.4,225.8 338.4,226.3 338.5,226.8 338.6,227.3 338.7,227.8 338.7,228.2 338.8,228.6 338.9,228.9 339.0,229.1 339.0,229.3 339.1,229.4 339.2,229.5 339.3,229.4 339.4,229.3 339.4,229.2 339.5,229.0 339.6,228.8 339.7,228.5 339.7,228.1 339.8,227.8 339.9,227.4 340.0,226.9 340.0,226.5 340.1,226.1 340.2,225.6 340.3,225.2 340.3,224.8 340.4,224.5 340.5,224.1 340.6,223.8 340.6,223.6 340.7,223.4 340.8,223.2 340.9,223.1 341.0,223.1 341.1,223.2 341.2,223.3 341.2,223.5 341.3,223.7 341.4,223.9 341.5,224.1 341.6,224.4 341.6,224.7 341.7,225.0 341.8,225.4 341.9,225.7 341.9,226.0 342.0,226.3 342.1,226.6 342.2,226.8 342.3,227.1 342.3,227.3 342.4,227.4 342.5,227.5 342.6,227.6 342.7,227.6 342.8,227.5 342.9,227.5 343.0,227.4 343.0,227.2 343.1,227.1 343.2,226.9 343.3,226.7 343.3,226.5 343.4,226.2 343.5,226.0 343.6,225.8 343.6,225.5 343.7,225.3 343.8,225.1 343.9,224.9 343.9,224.7 344.0,224.6 344.1,224.4 344.2,224.3 344.2,224.2 344.3,224.2 344.4,224.2 344.5,224.2 344.6,224.3 344.7,224.4 344.8,224.5 344.9,224.6 344.9,224.7 345.0,224.9 345.1,225.0 345.2,225.2 345.2,225.4 345.3,225.5 345.4,225.7 345.5,225.9 345.6,226.0 345.6,226.1 345.7,226.3 345.8,226.4 345.9,226.4 346.0,226.5 346.1,226.6 346.2,226.5 346.3,226.5 346.4,226.4 346.5,226.4 346.6,226.3 346.6,226.2 346.7,226.1 346.8,226.0 346.9,225.9 346.9,225.8 347.0,225.7 347.1,225.6 347.2,225.5 347.2,225.4 347.3,225.3 347.4,225.2 347.5,225.1 347.6,225.0 347.7,225.0 347.8,225.0 347.9,225.0 348.0,225.0 348.1,225.0 348.2,225.1 348.3,225.1 348.4,225.1 348.5,225.2 348.6,225.3 348.7,225.3 348.8,225.4 348.8,225.5 348.9,225.5 349.0,225.6 349.1,225.6 349.1,225.7 349.2,225.7 349.3,225.8 349.4,225.8 349.5,225.8 349.5,225.9 349.6,225.9 349.7,225.9 349.8,225.9 349.9,225.9 350.0,225.9 350.1,225.9 350.1,225.8 350.2,225.8 350.3,225.8 350.4,225.7 350.5,225.7 350.6,225.6 350.7,225.6 350.8,225.5 350.9,225.5 351.0,225.4 351.1,225.4 351.2,225.3 351.3,225.3 351.4,225.3 351.5,225.2 351.6,225.2 351.7,225.2 351.8,225.2 351.9,225.2 352.0,225.3 352.1,225.3 352.2,225.3 352.3,225.3 352.4,225.3 352.4,225.4 352.5,225.4 352.6,225.4 352.7,225.4 352.8,225.5 352.9,225.5 353.0,225.5 353.1,225.6 353.2,225.6 353.3,225.6 353.4,225.6 353.5,225.6 353.6,225.6 353.7,225.6 353.8,225.6 353.9,225.6 354.0,225.6 354.1,225.6 354.2,225.6 354.3,225.6 354.4,225.6 354.5,225.6 354.6,225.6 354.7,225.6 354.8,225.5 354.9,225.5 355.0,225.5 355.1,225.5 355.2,225.5 355.3,225.5 355.4,225.5 355.5,225.5 363.2,225.5" fill="none" stroke="#7a7a7a" stroke-width="0.7" stroke-linejoin="round"/>
<polyline points="171.2,221.0 171.4,221.0 171.6,221.0 171.8,221.0 172.0,221.0 172.2,221.0 172.4,221.0 172.5,221.0 172.7,221.0 172.9,221.0 173.1,221.0 173.3,221.0 173.5,221.0 173.7,221.0 173.9,221.0 174.1,221.0 174.3,221.0 174.5,221.0 174.7,221.0 174.8,221.0 175.0,221.0 175.2,221.0 175.4,221.0 175.6,221.1 175.8,221.1 176.0,221.0 176.2,221.0 176.4,221.0 176.6,220.9 176.8,220.9 177.0,220.9 177.2,220.9 177.3,221.0 177.5,221.0 177.7,221.0 177.9,221.0 178.1,221.0 178.3,221.0 178.5,221.0 178.7,221.0 178.9,221.0 179.1,221.0 179.3,221.0 179.5,221.0 179.6,221.0 179.8,221.0 180.0,221.0 180.2,221.0 180.4,221.0 180.6,221.1 180.8,221.1 181.0,221.1 181.2,221.1 181.4,221.0 181.6,221.0 181.8,220.9 182.0,220.9 182.1,220.9 182.3,220.9 182.5,220.9 182.7,220.9 182.9,220.9 183.1,220.9 183.3,220.9 183.5,221.0 183.7,221.0 183.9,221.1 184.1,221.1 184.3,221.1 184.4,221.1 184.6,221.1 184.8,221.0 185.0,220.9 185.2,220.9 185.4,221.0 185.6,221.0 185.8,221.1 186.0,221.2 186.2,221.2 186.4,221.2 186.6,221.1 186.8,221.0 186.9,220.9 187.1,220.9 187.3,220.9 187.5,220.9 187.7,220.9 187.9,220.9 188.1,220.8 188.3,220.8 188.5,220.8 188.7,220.8 188.9,220.9 189.1,221.1 189.2,221.2 189.4,221.2 189.6,221.2 189.8,221.2 190.0,221.1 190.2,221.0 190.4,220.9 190.6,221.0 190.8,221.0 191.0,221.1 191.2,221.1 191.4,221.1 191.6,221.1 191.7,221.1 191.9,221.0 192.1,221.0 192.3,221.0 192.5,221.0 192.7,221.0 192.9,221.0 193.1,220.8 193.3,220.7 193.5,220.6 193.7,220.6 193.9,220.7 194.0,220.8 194.2,221.0 194.4,221.2 194.6,221.3 194.8,221.3 195.0,221.2 195.2,221.2 195.4,221.1 195.6,221.1 195.8,221.1 196.0,221.1 196.2,221.1 196.4,221.1 196.5,221.0 196.7,221.0 196.9,220.9 197.1,220.9 197.3,221.0 197.5,221.1 197.7,221.2 197.9,221.2 198.1,221.1 198.3,220.9 198.5,220.7 198.7,220.6 198.8,220.5 199.0,220.5 199.2,220.7 199.4,220.9 199.6,221.0 199.8,221.1 200.0,221.2 200.2,221.2 200.4,221.2 200.6,221.2 200.8,221.3 201.0,221.3 201.2,221.3 201.3,221.3 201.5,221.2 201.7,221.0 201.9,220.8 202.1,220.7 202.3,220.8 202.5,220.9 202.7,221.1 202.9,221.2 203.1,221.3 203.3,221.2 203.5,221.0 203.6,220.8 203.8,220.6 204.0,220.5 204.2,220.5 204.4,220.6 204.6,220.7 204.8,220.8 205.0,220.8 205.2,220.9 205.4,221.0 205.6,221.1 205.8,221.3 206.0,221.5 206.1,221.7 206.3,221.8 206.5,221.7 206.7,221.4 206.9,221.1 207.1,220.9 207.3,220.7 207.5,220.6 207.7,220.7 207.9,220.9 208.1,221.0 208.3,221.1 208.4,221.1 208.6,221.0 208.8,220.9 209.0,220.8 209.2,220.7 209.4,220.7 209.6,220.7 209.8,220.7 210.0,220.6 210.2,220.5 210.4,220.5 210.6,220.6 210.8,220.8 210.9,221.2 211.1,221.6 211.3,222.0 211.5,222.2 211.7,222.2 211.9,222.0 212.1,221.6 212.3,221.2 212.5,220.9 212.7,220.7 212.9,220.6 213.1,220.6 213.2,220.6 213.4,220.6 213.6,220.6 213.8,220.6 214.0,220.6 214.2,220.8 214.4,220.9 214.6,221.0 214.8,221.0 215.0,220.8 215.2,220.6 215.4,220.3 215.6,220.0 215.7,220.0 215.9,220.2 216.1,220.7 216.3,221.3 216.5,221.9 216.7,222.4 216.9,222.6 217.1,222.6 217.3,222.4 217.5,222.1 217.7,221.8 217.9,221.4 218.0,221.1 218.2,220.7 218.4,220.4 218.6,220.0 218.8,219.8 219.0,220.8 219.4,220.8 219.5,220.9 219.6,220.9 219.7,221.0 219.8,221.1 219.9,221.1 220.0,221.1 220.1,221.1 220.1,221.0 220.2,220.9 220.3,220.8 220.4,220.6 220.5,220.4 220.5,220.2 220.6,220.1 220.7,219.9 220.8,219.8 220.8,219.7 220.9,219.7 221.0,219.7 221.1,219.7 221.2,219.8 221.2,220.0 221.3,220.2 221.4,220.5 221.5,220.8 221.5,221.0 221.6,221.3 221.7,221.6 221.8,221.8 221.8,222.0 221.9,222.1 222.0,222.2 222.1,222.3 222.2,222.4 222.3,222.4 222.4,222.4 222.5,222.4 222.6,222.4 222.7,222.5 222.7,222.6 222.8,222.8 222.9,222.9 223.0,223.0 223.0,223.1 223.1,223.1 223.2,223.0 223.3,222.9 223.3,222.7 223.4,222.4 223.5,222.0 223.6,221.5 223.7,221.0 223.7,220.4 223.8,219.8 223.9,219.2 224.0,218.6 224.0,218.1 224.1,217.7 224.2,217.4 224.3,217.3 224.3,217.2 224.4,217.4 224.5,217.6 224.6,218.1 224.7,218.6 224.7,219.3 224.8,220.1 224.9,220.9 225.0,221.7 225.0,222.6 225.1,223.4 225.2,224.2 225.3,225.0 225.3,225.7 225.4,226.4 225.5,227.1 225.6,227.7 225.7,228.4 225.7,229.1 225.8,229.8 225.9,230.6 226.0,231.4 226.0,232.3 226.1,233.3 226.2,234.3 226.3,235.4 226.3,236.5 226.4,237.5 226.5,238.5 226.6,239.3 226.6,240.1 226.7,240.7 226.8,241.1 226.9,241.3 227.0,241.4 227.0,241.2 227.1,240.7 227.2,239.4 227.3,237.5 227.3,235.1 227.4,232.3 227.5,229.1 227.6,225.8 227.7,222.4 227.7,219.1 227.8,216.0 227.9,213.1 228.0,210.6 228.1,208.6 228.1,207.0 228.2,205.9 228.3,205.4 228.4,205.4 228.5,205.7 228.5,206.1 228.6,206.5 228.7,206.9 228.8,207.4 228.8,208.0 228.9,208.7 229.0,209.4 229.1,210.3 229.1,211.3 229.2,212.5 229.3,213.9 229.4,215.5 229.5,217.2 229.5,219.0 229.6,221.0 229.7,223.0 229.8,225.1 229.8,227.1 229.9,229.1 230.0,230.9 230.1,232.5 230.1,234.0 230.2,235.1 230.3,236.0 230.4,236.6 230.5,237.0 230.5,237.1 230.6,236.9 230.7,236.6 230.8,236.0 230.8,235.1 230.9,234.1 231.0,232.8 231.1,231.4 231.1,229.9 231.2,228.3 231.3,226.6 231.4,224.8 231.4,223.0 231.5,221.1 231.6,219.1 231.7,217.1 231.8,215.0 231.8,212.9 231.9,210.8 232.0,208.7 232.1,206.6 232.1,204.6 232.2,202.7 232.3,201.0 232.4,199.5 232.4,198.3 232.5,197.5 232.6,197.0 232.7,196.9 232.8,197.3 232.8,198.0 232.9,199.2 233.0,200.7 233.1,202.7 233.1,204.9 233.2,207.3 233.3,210.0 233.4,212.8 233.4,215.7 233.5,218.6 233.6,221.4 233.7,224.2 233.7,226.9 233.8,229.4 233.9,231.7 234.0,233.9 234.0,235.9 234.1,237.7 234.2,239.3 234.3,240.8 234.3,242.1 234.4,243.2 234.5,244.2 234.6,245.0 234.6,245.7 234.7,246.1 234.8,246.3 234.9,246.3 234.9,246.0 235.0,245.4 235.1,244.5 235.2,243.3 235.3,241.8 235.3,240.0 235.4,237.9 235.5,235.6 235.6,233.1 235.6,230.4 235.7,227.6 235.8,224.9 235.9,222.2 235.9,219.6 236.0,217.3 236.1,215.2 236.2,213.4 236.2,211.9 236.3,210.8 236.4,210.1 236.5,209.7 236.6,209.7 236.6,210.0 236.7,210.6 236.8,211.5 236.9,212.8 236.9,214.3 237.0,216.0 237.1,218.0 237.2,220.0 237.2,222.3 237.3,224.6 237.4,227.0 237.5,229.6 237.6,232.2 237.6,234.9 237.7,237.6 237.8,240.3 237.9,243.1 237.9,245.8 238.0,248.4 238.1,250.8 238.2,253.1 238.2,255.2 238.3,256.9 238.4,258.2 238.5,259.2 238.6,259.7 238.7,259.2 238.8,258.1 238.9,256.5 238.9,254.4 239.0,251.9 239.1,249.0 239.2,245.8 239.2,242.4 239.3,238.8 239.4,235.2 239.5,231.6 239.6,228.0 239.6,224.6 239.7,221.4 239.8,218.5 239.9,215.8 239.9,213.4 240.0,211.3 240.1,209.5 240.2,208.1 240.2,206.9 240.3,206.1 240.4,205.6 240.5,205.4 240.6,205.5 240.6,205.9 240.7,206.6 240.8,207.7 240.9,209.1 240.9,210.8 241.0,212.9 241.1,215.2 241.2,217.9 241.3,220.8 241.3,223.8 241.4,227.0 241.5,230.2 241.6,233.4 241.7,236.5 241.7,239.3 241.8,241.9 241.9,244.1 242.0,245.9 242.0,247.1 242.1,247.9 242.2,248.0 242.3,247.9 242.4,247.5 242.4,247.0 242.5,246.3 242.6,245.6 242.7,244.8 242.7,243.9 242.8,243.1 242.9,242.3 243.0,241.5 243.0,240.8 243.1,240.1 243.2,239.5 243.3,238.9 243.3,238.3 243.4,237.7 243.5,237.1 243.6,236.4 243.6,235.5 243.7,234.6 243.8,233.5 243.9,232.3 244.0,231.0 244.0,229.5 244.1,227.9 244.2,226.3 244.3,224.6 244.3,223.0 244.4,221.3 244.5,219.8 244.6,218.3 244.6,217.0 244.7,215.8 244.8,214.7 244.9,213.8 244.9,213.0 245.0,212.3 245.1,211.7 245.2,211.1 245.2,210.6 245.3,210.0 245.4,209.5 245.5,208.9 245.5,208.3 245.6,207.6 245.7,206.8 245.8,206.1 245.9,205.3 245.9,204.6 246.0,204.0 246.1,203.4 246.2,202.9 246.2,202.6 246.3,202.6 246.4,202.9 246.5,203.7 246.5,204.7 246.6,206.1 246.7,207.8 246.8,209.8 246.8,211.9 246.9,214.2 247.0,216.7 247.1,219.2 247.2,221.7 247.2,224.1 247.3,226.5 247.4,228.9 247.5,231.1 247.5,233.2 247.6,235.2 247.7,237.2 247.8,239.0 247.8,240.7 247.9,242.4 248.0,244.0 248.1,245.5 248.2,246.9 248.2,248.2 248.3,249.3 248.4,250.3 248.5,251.1 248.5,251.6 248.6,251.9 248.7,252.0 248.8,251.8 248.8,251.3 248.9,250.6 249.0,249.6 249.1,248.4 249.2,246.9 249.2,245.2 249.3,243.3 249.4,241.3 249.5,239.2 249.5,237.0 249.6,234.9 249.7,232.7 249.8,230.7 249.8,228.7 249.9,226.8 250.0,225.1 250.1,223.4 250.2,221.9 250.2,220.4 250.3,218.9 250.4,217.6 250.5,216.2 250.5,214.9 250.6,213.6 250.7,212.3 250.8,211.1 250.8,209.9 250.9,208.8 251.0,207.8 251.1,207.0 251.1,206.3 251.2,205.9 251.3,205.9 251.4,206.7 251.5,208.3 251.5,210.5 251.6,213.3 251.7,216.7 251.8,220.4 251.9,224.4 251.9,228.4 252.0,232.4 252.1,236.1 252.2,239.5 252.3,242.4 252.3,244.6 252.4,246.2 252.5,247.0 252.6,247.1 252.6,246.6 252.7,245.8 252.8,244.6 252.9,243.2 252.9,241.5 253.0,239.6 253.1,237.6 253.2,235.5 253.2,233.4 253.3,231.3 253.4,229.2 253.5,227.1 253.5,225.2 253.6,223.3 253.7,221.5 253.8,219.8 253.8,218.2 253.9,216.8 254.0,215.6 254.1,214.5 254.1,213.6 254.2,212.9 254.3,212.5 254.4,212.3 254.5,212.4 254.5,212.9 254.6,213.7 254.7,214.9 254.8,216.4 254.8,218.2 254.9,220.2 255.0,222.5 255.1,224.9 255.1,227.4 255.2,229.9 255.3,232.4 255.4,234.6 255.4,236.7 255.5,238.4 255.6,239.8 255.7,240.8 255.8,241.3 255.8,241.4 255.9,241.2 256.0,240.7 256.1,240.1 256.1,239.4 256.2,238.5 256.3,237.5 256.4,236.5 256.4,235.5 256.5,234.5 256.6,233.5 256.7,232.6 256.8,231.7 256.8,230.8 256.9,230.0 257.0,229.1 257.1,228.2 257.1,227.3 257.2,226.4 257.3,225.3 257.4,224.2 257.4,223.0 257.5,221.8 257.6,220.5 257.7,219.1 257.8,217.8 257.8,216.4 257.9,215.2 258.0,214.0 258.1,213.0 258.1,212.2 258.2,211.6 258.3,211.2 258.4,210.9 258.5,211.1 258.6,211.5 258.7,212.1 258.7,212.7 258.8,213.5 258.9,214.4 259.0,215.3 259.1,216.3 259.1,217.2 259.2,218.2 259.3,219.1 259.4,220.0 259.4,220.9 259.5,221.8 259.6,222.8 259.7,223.7 259.7,224.8 259.8,225.9 259.9,227.1 260.0,228.3 260.0,229.7 260.1,231.1 260.2,232.5 260.3,233.9 260.3,235.3 260.4,236.7 260.5,237.9 260.6,239.0 260.6,240.0 260.7,240.7 260.8,241.3 260.9,241.6 260.9,241.7 261.0,241.5 261.1,241.1 261.2,240.3 261.3,239.1 261.3,237.7 261.4,236.0 261.5,234.2 261.6,232.2 261.6,230.2 261.7,228.1 261.8,226.0 261.9,224.0 262.0,222.1 262.0,220.3 262.1,218.5 262.2,216.9 262.3,215.5 262.4,214.2 262.4,213.0 262.5,212.0 262.6,211.2 262.7,210.6 262.7,210.2 262.8,210.0 262.9,209.8 263.0,209.8 263.1,209.9 263.1,210.2 263.2,210.6 263.3,211.2 263.4,212.0 263.4,213.0 263.5,214.2 263.6,215.6 263.7,217.0 263.7,218.6 263.8,220.2 263.9,221.8 264.0,223.3 264.1,224.8 264.1,226.2 264.2,227.4 264.3,228.5 264.4,229.5 264.4,230.2 264.5,230.8 264.6,231.3 264.7,231.6 264.7,231.8 264.8,232.0 264.9,232.0 265.0,232.1 265.1,232.0 265.2,231.9 265.3,231.7 265.4,231.4 265.4,231.0 265.5,230.5 265.6,229.9 265.7,229.1 265.7,228.2 265.8,227.2 265.9,225.9 266.0,224.6 266.0,223.0 266.1,221.4 266.2,219.8 266.3,218.0 266.3,216.3 266.4,214.6 266.5,213.0 266.6,211.6 266.6,210.3 266.7,209.2 266.8,208.4 266.9,207.7 266.9,207.3 267.0,207.1 267.1,207.2 267.2,207.4 267.2,207.9 267.3,208.5 267.4,209.3 267.5,210.3 267.5,211.3 267.6,212.4 267.7,213.6 267.8,214.8 267.9,216.0 267.9,217.2 268.0,218.5 268.1,219.8 268.2,221.1 268.2,222.4 268.3,223.8 268.4,225.2 268.5,226.6 268.5,228.0 268.6,229.3 268.7,230.6 268.8,231.7 268.9,232.8 268.9,233.6 269.0,234.3 269.1,234.7 269.2,234.7 269.2,234.4 269.3,233.7 269.4,232.6 269.5,231.1 269.5,229.3 269.6,227.3 269.7,225.1 269.8,222.7 269.8,220.3 269.9,218.0 270.0,215.7 270.1,213.6 270.2,211.8 270.2,210.3 270.3,209.1 270.4,208.2 270.5,207.7 270.5,207.5 270.6,207.7 270.7,208.1 270.8,208.7 270.9,209.5 270.9,210.4 271.0,211.3 271.1,212.3 271.2,213.4 271.2,214.5 271.3,215.5 271.4,216.7 271.5,217.8 271.6,218.9 271.6,220.1 271.7,221.2 271.8,222.4 271.9,223.5 272.0,224.6 272.0,225.6 272.1,226.6 272.2,227.4 272.3,228.0 272.3,228.5 272.4,228.7 272.5,228.7 272.6,228.6 272.7,228.1 272.7,227.5 272.8,226.6 272.9,225.6 273.0,224.4 273.0,223.1 273.1,221.7 273.2,220.3 273.3,218.9 273.3,217.7 273.4,216.6 273.5,215.6 273.6,214.9 273.7,214.4 273.7,214.1 273.8,214.1 273.9,214.3 274.0,214.7 274.0,215.3 274.1,216.0 274.2,216.8 274.3,217.6 274.4,218.5 274.4,219.4 274.5,220.2 274.6,221.1 274.7,221.9 274.7,222.6 274.8,223.4 274.9,224.1 275.0,224.8 275.1,225.4 275.1,226.1 275.2,226.7 275.3,227.3 275.4,227.9 275.5,228.4 275.5,228.9 275.6,229.3 275.7,229.6 275.8,229.7 275.8,229.8 275.9,229.7 276.0,229.4 276.1,229.0 276.1,228.3 276.2,227.5 276.3,226.6 276.4,225.5 276.5,224.3 276.5,223.1 276.6,221.8 276.7,220.5 276.8,219.2 276.8,218.1 276.9,217.0 277.0,216.0 277.1,215.1 277.1,214.4 277.2,213.8 277.3,213.3 277.4,212.9 277.5,212.6 277.5,212.3 277.6,212.1 277.7,211.9 277.8,211.8 277.8,211.7 277.9,211.5 278.0,211.5 278.1,211.6 278.1,211.8 278.2,212.2 278.3,212.7 278.4,213.5 278.5,214.4 278.5,215.5 278.6,216.7 278.7,218.1 278.8,219.7 278.9,221.3 278.9,223.0 279.0,224.6 279.1,226.2 279.2,227.7 279.2,229.1 279.3,230.2 279.4,231.1 279.5,231.6 279.6,232.0 279.7,231.7 279.8,231.2 279.9,230.6 279.9,229.8 280.0,228.8 280.1,227.8 280.2,226.7 280.3,225.5 280.3,224.4 280.4,223.3 280.5,222.3 280.6,221.3 280.6,220.3 280.7,219.4 280.8,218.6 280.9,217.8 280.9,217.0 281.0,216.3 281.1,215.6 281.2,214.9 281.3,214.3 281.3,213.7 281.4,213.2 281.5,212.7 281.6,212.4 281.6,212.1 281.7,212.0 281.8,212.1 281.9,212.3 281.9,212.7 282.0,213.4 282.1,214.2 282.2,215.1 282.2,216.3 282.3,217.6 282.4,219.0 282.5,220.4 282.5,222.0 282.6,223.5 282.7,224.9 282.8,226.3 282.8,227.6 282.9,228.8 283.0,229.8 283.1,230.7 283.1,231.4 283.2,232.0 283.3,232.4 283.4,232.7 283.4,232.9 283.5,233.0 283.6,233.0 283.7,232.9 283.8,232.7 283.8,232.3 283.9,231.7 284.0,231.0 284.1,230.1 284.1,229.0 284.2,227.8 284.3,226.5 284.4,225.0 284.4,223.5 284.5,221.8 284.6,220.2 284.7,218.5 284.7,216.9 284.8,215.4 284.9,214.0 285.0,212.8 285.1,211.8 285.1,211.1 285.2,210.7 285.3,210.5 285.4,210.5 285.4,210.7 285.5,211.1 285.6,211.7 285.7,212.5 285.7,213.4 285.8,214.4 285.9,215.5 286.0,216.7 286.1,217.9 286.1,219.1 286.2,220.3 286.3,221.4 286.4,222.4 286.4,223.4 286.5,224.3 286.6,225.0 286.7,225.8 286.7,226.4 286.8,227.0 286.9,227.5 287.0,228.1 287.1,228.6 287.1,229.1 287.2,229.6 287.3,230.0 287.4,230.5 287.4,230.8 287.5,231.2 287.6,231.4 287.7,231.5 287.8,231.4 287.9,231.1 288.0,230.6 288.1,230.0 288.1,229.2 288.2,228.2 288.3,227.2 288.4,226.1 288.4,224.9 288.5,223.8 288.6,222.6 288.7,221.6 288.7,220.6 288.8,219.7 288.9,219.0 289.0,218.5 289.0,218.0 289.1,217.8 289.2,217.7 289.3,217.7 289.4,217.8 289.4,218.0 289.5,218.3 289.6,218.5 289.7,218.7 289.7,218.8 289.8,218.9 289.9,218.9 290.0,218.9 290.1,218.9 290.2,218.9 290.3,218.9 290.4,219.0 290.4,219.2 290.5,219.5 290.6,219.9 290.7,220.3 290.8,220.8 290.8,221.4 290.9,222.0 291.0,222.7 291.1,223.3 291.1,223.8 291.2,224.3 291.3,224.8 291.4,225.1 291.5,225.3 291.5,225.4 291.6,225.4 291.7,225.3 291.8,225.1 291.9,224.9 291.9,224.6 292.0,224.3 292.1,224.0 292.2,223.6 292.2,223.2 292.3,222.7 292.4,222.3 292.5,221.9 292.5,221.5 292.6,221.2 292.7,220.8 292.8,220.5 292.8,220.2 292.9,219.9 293.0,219.7 293.0,219.4 293.1,219.2 293.2,219.0 293.3,218.8 293.4,218.7 293.4,218.6 293.5,218.5 293.6,218.5 293.7,218.6 293.7,218.8 293.8,219.2 293.9,219.6 294.0,220.2 294.0,220.8 294.1,221.6 294.2,222.5 294.3,223.4 294.3,224.3 294.4,225.2 294.5,226.1 294.6,226.9 294.7,227.6 294.7,228.2 294.8,228.7 294.9,229.0 295.0,229.2 295.0,229.3 295.1,229.2 295.2,228.9 295.3,228.6 295.3,228.2 295.4,227.8 295.5,227.3 295.6,226.8 295.7,226.2 295.7,225.7 295.8,225.2 295.9,224.7 296.0,224.2 296.0,223.7 296.1,223.3 296.2,222.7 296.3,222.2 296.3,221.7 296.4,221.1 296.5,220.5 296.6,219.8 296.7,219.2 296.7,218.5 296.8,217.9 296.9,217.3 297.0,216.8 297.0,216.4 297.1,216.2 297.2,216.0 297.3,216.1 297.3,216.3 297.4,216.6 297.5,217.1 297.6,217.8 297.7,218.5 297.7,219.4 297.8,220.4 297.9,221.3 298.0,222.3 298.1,223.3 298.1,224.2 298.2,225.1 298.3,225.8 298.4,226.5 298.4,227.1 298.5,227.6 298.6,228.1 298.7,228.4 298.8,228.8 298.8,229.0 298.9,229.3 299.0,229.5 299.1,229.7 299.1,229.9 299.2,230.1 299.3,230.2 299.4,230.1 299.5,230.0 299.5,229.7 299.6,229.3 299.7,228.8 299.8,228.1 299.8,227.2 299.9,226.3 300.0,225.2 300.1,224.1 300.1,223.0 300.2,221.9 300.3,220.8 300.4,219.8 300.5,218.9 300.5,218.2 300.6,217.6 300.7,217.3 300.8,217.2 300.8,217.3 300.9,217.4 301.0,217.7 301.1,218.1 301.2,218.6 301.2,219.2 301.3,219.7 301.4,220.3 301.5,220.8 301.5,221.4 301.6,221.8 301.7,222.2 301.8,222.6 301.9,222.9 301.9,223.2 302.0,223.4 302.1,223.6 302.2,223.8 302.2,224.0 302.3,224.2 302.4,224.5 302.5,224.8 302.6,225.1 302.6,225.4 302.7,225.7 302.8,226.0 302.9,226.2 303.0,226.4 303.0,226.5 303.1,226.4 303.2,226.2 303.3,225.9 303.3,225.4 303.4,224.9 303.5,224.2 303.6,223.4 303.6,222.6 303.7,221.7 303.8,220.9 303.9,220.1 303.9,219.4 304.0,218.8 304.1,218.3 304.2,217.9 304.3,217.8 304.3,217.7 304.4,217.8 304.5,218.1 304.6,218.4 304.6,218.7 304.7,219.1 304.8,219.5 304.9,220.0 304.9,220.4 305.0,220.8 305.1,221.1 305.2,221.5 305.2,221.8 305.3,222.0 305.4,222.3 305.5,222.6 305.5,222.9 305.6,223.2 305.7,223.5 305.8,223.8 305.8,224.2 305.9,224.6 306.0,225.1 306.1,225.6 306.1,226.0 306.2,226.5 306.3,226.9 306.4,227.2 306.4,227.5 306.5,227.7 306.6,227.7 306.7,227.6 306.8,227.4 306.8,226.9 306.9,226.4 307.0,225.7 307.1,224.9 307.1,224.0 307.2,223.2 307.3,222.3 307.4,221.4 307.4,220.7 307.5,220.0 307.6,219.4 307.7,218.9 307.8,218.6 307.8,218.4 307.9,218.4 308.0,218.4 308.1,218.6 308.1,218.8 308.2,219.1 308.3,219.3 308.4,219.6 308.5,219.9 308.5,220.1 308.6,220.4 308.7,220.6 308.8,220.8 308.8,221.0 308.9,221.3 309.0,221.5 309.1,221.8 309.2,222.1 309.2,222.5 309.3,222.9 309.4,223.3 309.5,223.7 309.5,224.1 309.6,224.4 309.7,224.7 309.8,225.0 309.9,225.1 310.0,225.0 310.1,224.8 310.2,224.4 310.2,223.9 310.3,223.4 310.4,222.8 310.5,222.1 310.5,221.4 310.6,220.8 310.7,220.1 310.8,219.6 310.8,219.2 310.9,218.8 311.0,218.6 311.1,218.5 311.1,218.6 311.2,218.8 311.3,219.0 311.4,219.4 311.4,219.8 311.5,220.3 311.6,220.7 311.7,221.2 311.7,221.7 311.8,222.1 311.9,222.4 312.0,222.8 312.1,223.0 312.1,223.2 312.2,223.4 312.3,223.5 312.4,223.6 312.5,223.7 312.6,223.7 312.7,223.7 312.8,223.7 312.9,223.7 313.0,223.7 313.0,223.6 313.1,223.5 313.2,223.4 313.3,223.2 313.4,222.9 313.4,222.6 313.5,222.3 313.6,221.9 313.7,221.4 313.7,221.0 313.8,220.5 313.9,220.1 314.0,219.7 314.0,219.3 314.1,219.1 314.2,219.0 314.3,218.9 314.4,218.9 314.4,219.1 314.5,219.3 314.6,219.6 314.7,220.0 314.7,220.4 314.8,220.8 314.9,221.3 315.0,221.8 315.0,222.2 315.1,222.6 315.2,222.9 315.3,223.2 315.4,223.5 315.4,223.7 315.5,223.8 315.6,223.9 315.7,223.9 315.7,224.0 315.8,224.0 315.9,224.0 316.0,224.0 316.0,224.1 316.1,224.1 316.2,224.1 316.3,224.2 316.4,224.2 316.5,224.2 316.6,224.1 316.7,223.9 316.7,223.7 316.8,223.4 316.9,223.1 317.0,222.6 317.1,222.2 317.1,221.7 317.2,221.2 317.3,220.6 317.4,220.2 317.5,219.7 317.5,219.3 317.6,219.1 317.7,218.9 317.8,218.8 317.9,218.9 318.0,219.1 318.1,219.4 318.2,219.8 318.2,220.2 318.3,220.6 318.4,221.1 318.5,221.5 318.5,222.0 318.6,222.4 318.7,222.8 318.8,223.1 318.8,223.4 318.9,223.7 319.0,224.0 319.1,224.2 319.2,224.4 319.2,224.6 319.3,224.8 319.4,225.1 319.5,225.3 319.5,225.5 319.6,225.7 319.7,225.9 319.8,226.1 319.8,226.2 319.9,226.3 320.0,226.2 320.1,226.1 320.1,225.9 320.2,225.6 320.3,225.2 320.4,224.7 320.4,224.1 320.5,223.4 320.6,222.7 320.7,222.0 320.7,221.3 320.8,220.6 320.9,219.9 321.0,219.4 321.0,218.8 321.1,218.4 321.2,218.1 321.3,217.9 321.3,217.8 321.4,217.8 321.5,217.9 321.6,218.1 321.7,218.3 321.7,218.6 321.8,218.8 321.9,219.1 322.0,219.4 322.0,219.6 322.1,219.8 322.2,220.0 322.3,220.2 322.4,220.4 322.4,220.6 322.5,220.8 322.6,221.0 322.7,221.2 322.7,221.5 322.8,221.8 322.9,222.2 323.0,222.5 323.1,222.9 323.1,223.3 323.2,223.6 323.3,224.0 323.4,224.3 323.5,224.5 323.5,224.7 323.6,224.8 323.7,224.8 323.8,224.7 323.8,224.6 323.9,224.4 324.0,224.2 324.1,223.9 324.1,223.6 324.2,223.3 324.3,222.9 324.4,222.6 324.4,222.3 324.5,222.1 324.6,221.8 324.7,221.6 324.7,221.5 324.8,221.4 324.9,221.3 325.0,221.2 325.0,221.1 325.1,221.1 325.2,221.0 325.3,220.9 325.3,220.8 325.4,220.7 325.5,220.6 325.6,220.5 325.6,220.3 325.7,220.2 325.8,220.1 325.9,220.0 326.0,219.9 326.1,220.0 326.2,220.2 326.3,220.4 326.3,220.7 326.4,221.0 326.5,221.4 326.6,221.9 326.6,222.3 326.7,222.8 326.8,223.2 326.9,223.7 327.0,224.0 327.0,224.4 327.1,224.7 327.2,224.9 327.3,225.0 327.3,225.1 327.4,225.1 327.5,225.1 327.6,225.0 327.6,224.9 327.7,224.7 327.8,224.6 327.9,224.4 327.9,224.2 328.0,224.0 328.1,223.8 328.2,223.6 328.3,223.4 328.3,223.2 328.4,223.0 328.5,222.7 328.6,222.4 328.6,222.1 328.7,221.8 328.8,221.4 328.9,221.0 328.9,220.6 329.0,220.2 329.1,219.8 329.2,219.4 329.3,219.1 329.3,218.8 329.4,218.5 329.5,218.4 329.6,218.3 329.7,218.4 329.8,218.6 329.9,218.9 330.0,219.3 330.0,219.8 330.1,220.2 330.2,220.8 330.3,221.3 330.3,221.8 330.4,222.3 330.5,222.8 330.6,223.2 330.7,223.6 330.7,223.9 330.8,224.1 330.9,224.3 331.0,224.4 331.1,224.5 331.1,224.6 331.2,224.6 331.3,224.6 331.4,224.6 331.4,224.5 331.5,224.5 331.6,224.4 331.7,224.3 331.8,224.2 331.8,224.0 331.9,223.8 332.0,223.5 332.1,223.2 332.1,222.9 332.2,222.5 332.3,222.1 332.4,221.6 332.4,221.1 332.5,220.6 332.6,220.2 332.7,219.7 332.7,219.3 332.8,219.0 332.9,218.7 333.0,218.5 333.1,218.4 333.1,218.3 333.2,218.3 333.3,218.4 333.4,218.6 333.4,218.8 333.5,219.1 333.6,219.3 333.7,219.6 333.7,220.0 333.8,220.3 333.9,220.6 334.0,220.9 334.0,221.2 334.1,221.4 334.2,221.7 334.3,222.0 334.3,222.2 334.4,222.5 334.5,222.7 334.6,223.0 334.6,223.2 334.7,223.5 334.8,223.8 334.9,224.1 334.9,224.3 335.0,224.6 335.1,224.8 335.2,225.0 335.2,225.2 335.3,225.3 335.4,225.4 335.5,225.4 335.6,225.4 335.6,225.3 335.7,225.2 335.8,225.0 335.9,224.8 335.9,224.6 336.0,224.3 336.1,224.0 336.2,223.8 336.2,223.5 336.3,223.2 336.4,223.0 336.5,222.8 336.6,222.6 336.6,222.5 336.7,222.4 336.8,222.3 336.9,222.2 336.9,222.1 337.0,222.0 337.1,221.9 337.2,221.8 337.3,221.7 337.4,221.6 337.5,221.5 337.5,221.4 337.6,221.3 337.7,221.2 337.8,221.2 337.9,221.2 338.0,221.3 338.1,221.4 338.2,221.5 338.2,221.7 338.3,221.9 338.4,222.2 338.5,222.5 338.5,222.7 338.6,223.0 338.7,223.3 338.8,223.5 338.8,223.7 338.9,223.9 339.0,224.1 339.1,224.2 339.2,224.3 339.3,224.2 339.4,224.2 339.4,224.1 339.5,224.0 339.6,223.9 339.7,223.8 339.7,223.7 339.8,223.5 339.9,223.4 340.0,223.3 340.0,223.2 340.1,223.1 340.2,223.0 340.3,222.9 340.3,222.8 340.4,222.7 340.5,222.6 340.6,222.5 340.6,222.4 340.7,222.3 340.8,222.2 340.9,222.1 340.9,222.0 341.0,221.9 341.1,221.9 341.2,221.8 341.3,221.8 341.4,221.8 341.5,221.8 341.6,221.9 341.6,222.0 341.7,222.1 341.8,222.3 341.9,222.4 341.9,222.6 342.0,222.7 342.1,222.9 342.2,223.0 342.3,223.1 342.3,223.2 342.4,223.3 342.5,223.3 342.6,223.4 342.7,223.4 342.7,223.3 342.8,223.3 342.9,223.3 343.0,223.2 343.1,223.1 343.2,223.0 343.3,223.0 343.3,222.9 343.4,222.9 343.5,222.8 343.6,222.8 343.6,222.7 343.7,222.7 343.8,222.6 343.9,222.6 343.9,222.5 344.0,222.5 344.1,222.4 344.2,222.3 344.3,222.2 344.4,222.2 344.5,222.1 344.6,222.1 344.7,222.0 344.8,222.1 344.9,222.1 345.0,222.2 345.1,222.2 345.2,222.3 345.2,222.4 345.3,222.5 345.4,222.5 345.5,222.6 345.6,222.7 345.6,222.8 345.7,222.8 345.8,222.9 345.9,222.9 346.0,223.0 346.1,223.0 346.2,223.0 346.3,223.0 346.4,223.0 346.5,223.0 346.6,223.0 346.7,223.0 346.8,223.1 346.9,223.1 347.0,223.2 347.1,223.2 347.2,223.2 347.2,223.3 347.3,223.3 347.4,223.3 347.5,223.3 347.5,223.4 347.6,223.4 347.7,223.4 347.8,223.4 347.9,223.4 348.0,223.4 348.1,223.4 348.2,223.3 348.3,223.3 348.4,223.3 348.5,223.3 348.6,223.2 348.7,223.2 348.8,223.2 348.9,223.1 349.0,223.1 349.1,223.1 349.2,223.1 349.3,223.0 349.4,223.0 349.5,223.0 349.6,223.0 349.7,223.0 349.8,223.0 349.9,223.0 350.0,223.0 350.1,223.0 350.2,223.0 350.3,223.0 350.4,223.0 350.5,223.1 350.6,223.1 350.7,223.1 350.8,223.1 350.9,223.2 351.0,223.2 351.1,223.2 351.2,223.2 351.3,223.2 351.4,223.2 351.5,223.2 351.6,223.2 351.7,223.2 351.8,223.2 351.9,223.2 352.0,223.2 352.1,223.2 352.2,223.2 352.3,223.2 352.4,223.2 352.5,223.2 352.6,223.2 352.7,223.2 352.8,223.2 352.9,223.2 353.0,223.1 353.1,223.1 353.2,223.1 353.3,223.1 353.4,223.1 353.5,223.1 353.6,223.1 363.2,223.1" fill="none" stroke="#2390d6" stroke-width="0.8" stroke-linejoin="round"/>
<polyline points="171.2,220.8 171.3,220.8 171.4,220.8 171.5,220.9 171.6,220.9 171.7,221.0 171.8,221.0 171.9,221.0 172.0,220.9 172.1,220.8 172.2,220.8 172.3,220.8 172.4,220.8 172.4,220.9 172.5,220.9 172.6,221.0 172.7,221.0 172.8,221.0 172.9,220.9 173.0,220.9 173.1,220.8 173.2,220.8 173.3,220.8 173.4,220.8 173.5,220.9 173.6,221.0 173.7,221.0 173.8,221.0 173.9,220.9 174.0,220.9 174.1,220.9 174.2,220.8 174.3,220.8 174.4,220.9 174.5,220.9 174.6,220.9 174.7,220.9 174.8,220.9 174.9,220.9 175.0,220.9 175.1,220.9 175.2,220.8 175.3,220.9 175.4,220.9 175.5,220.9 175.6,220.9 175.7,220.9 175.8,220.9 175.9,220.9 176.0,220.9 176.1,220.9 176.2,220.8 176.3,220.8 176.4,220.9 176.5,220.9 176.6,220.9 176.7,221.0 176.8,221.0 176.9,221.0 177.0,220.9 177.1,220.9 177.2,220.8 177.3,220.8 177.4,220.9 177.5,220.9 177.6,221.0 177.7,221.0 177.8,221.0 177.9,220.9 178.0,220.9 178.1,220.8 178.2,220.8 178.3,220.8 178.4,220.8 178.5,220.9 178.6,221.0 178.7,221.0 178.8,221.0 178.9,221.0 179.0,220.9 179.1,220.8 179.2,220.8 179.3,220.8 179.4,220.8 179.5,220.9 179.6,220.9 179.6,221.0 179.7,221.0 179.8,221.0 179.9,220.9 180.0,220.9 180.1,220.8 180.2,220.8 180.3,220.8 180.4,220.9 180.5,220.9 180.6,220.9 180.7,220.9 180.8,220.9 180.9,220.9 181.0,220.9 181.1,220.9 181.2,220.8 181.3,220.8 181.4,220.9 181.5,220.9 181.6,220.9 181.7,221.0 181.8,221.0 181.9,220.9 182.0,220.9 182.1,220.8 182.2,220.8 182.3,220.8 182.4,220.9 182.5,220.9 182.6,221.0 182.7,221.0 182.8,221.0 182.9,220.9 183.0,220.9 183.1,220.8 183.2,220.8 183.3,220.8 183.4,220.8 183.5,220.9 183.6,221.0 183.7,221.0 183.8,221.0 183.9,221.0 184.0,220.9 184.1,220.8 184.2,220.8 184.3,220.8 184.4,220.8 184.4,220.9 184.5,220.9 184.6,221.0 184.7,221.0 184.8,221.0 184.9,220.9 185.0,220.9 185.1,220.8 185.2,220.8 185.3,220.8 185.4,220.9 185.5,220.9 185.6,220.9 185.7,221.0 185.8,221.0 185.9,220.9 186.0,220.9 186.1,220.9 186.2,220.8 186.3,220.8 186.4,220.9 186.5,220.9 186.6,220.9 186.7,220.9 186.8,220.9 186.9,220.9 187.0,220.9 187.1,220.8 187.2,220.8 187.3,220.8 187.4,220.9 187.5,220.9 187.6,221.0 187.7,221.0 187.8,221.0 187.9,220.9 188.0,220.9 188.1,220.8 188.2,220.8 188.3,220.8 188.4,220.8 188.5,220.9 188.6,221.0 188.7,221.0 188.8,221.0 188.9,221.0 189.0,220.9 189.1,220.8 189.2,220.8 189.3,220.8 189.4,220.9 189.5,221.0 189.6,221.0 189.7,221.0 189.8,221.0 189.9,220.9 190.0,220.9 190.1,220.8 190.2,220.8 190.3,220.8 190.4,220.9 190.5,220.9 190.6,221.0 190.7,221.0 190.8,221.0 190.9,220.9 191.0,220.9 191.1,220.8 191.2,220.8 191.3,220.8 191.4,220.9 191.5,220.9 191.6,220.9 191.6,221.0 191.7,221.0 191.8,220.9 191.9,220.9 192.0,220.9 192.1,220.8 192.2,220.8 192.3,220.8 192.4,220.9 192.5,220.9 192.6,220.9 192.7,221.0 192.8,221.0 192.9,220.9 193.0,220.9 193.1,220.8 193.2,220.8 193.3,220.8 193.4,220.8 193.5,220.9 193.6,221.0 193.7,221.0 193.8,221.0 193.9,221.0 194.0,220.9 194.0,220.8 194.1,220.8 194.2,220.8 194.3,220.8 194.4,220.9 194.5,221.0 194.6,221.0 194.7,221.0 194.8,221.0 194.9,220.9 195.0,220.8 195.1,220.8 195.2,220.7 195.3,220.8 195.4,220.8 195.5,220.9 195.6,221.0 195.7,221.0 195.8,221.0 195.9,221.0 196.0,220.9 196.1,220.8 196.2,220.8 196.3,220.8 196.4,220.8 196.4,220.9 196.5,220.9 196.6,221.0 196.7,221.0 196.8,220.9 196.9,220.9 197.0,220.9 197.1,220.8 197.2,220.8 197.3,220.8 197.4,220.9 197.5,220.9 197.6,220.9 197.7,221.0 197.8,220.9 197.9,220.9 198.0,220.9 198.1,220.8 198.2,220.8 198.3,220.8 198.4,220.9 198.5,220.9 198.6,220.9 198.7,221.0 198.8,221.0 198.9,220.9 199.0,220.8 199.1,220.8 199.2,220.8 199.3,220.8 199.4,220.9 199.5,221.0 199.6,221.0 199.7,221.0 199.8,221.0 199.9,220.9 200.0,220.8 200.1,220.8 200.2,220.7 200.3,220.8 200.4,220.8 200.5,220.9 200.6,221.0 200.7,221.1 200.8,221.0 200.9,221.0 201.0,220.9 201.1,220.8 201.2,220.7 201.3,220.8 201.4,220.9 201.5,221.0 201.6,221.0 201.7,221.0 201.8,221.0 201.9,220.9 202.0,220.8 202.1,220.8 202.2,220.8 202.3,220.8 202.4,220.9 202.5,220.9 202.6,221.0 202.7,221.0 202.8,221.0 202.9,220.9 203.0,220.9 203.1,220.8 203.2,220.8 203.3,220.8 203.4,220.9 203.5,220.9 203.6,221.0 203.7,221.0 203.8,221.0 203.9,220.9 204.0,220.8 204.1,220.8 204.2,220.8 204.3,220.8 204.4,220.9 204.5,221.0 204.6,221.0 204.7,221.1 204.8,221.0 204.9,220.9 205.0,220.8 205.1,220.7 205.2,220.7 205.3,220.7 205.4,220.8 205.5,220.9 205.6,221.1 205.7,221.1 205.8,221.1 205.9,221.0 206.0,220.9 206.0,220.7 206.1,220.7 206.2,220.7 206.3,220.8 206.4,220.9 206.5,221.0 206.6,221.1 206.7,221.1 206.8,221.0 206.9,220.9 207.0,220.8 207.1,220.7 207.2,220.7 207.3,220.7 207.4,220.8 207.5,221.0 207.6,221.0 207.7,221.1 207.8,221.0 207.9,220.9 208.0,220.9 208.1,220.8 208.2,220.8 208.3,220.8 208.4,220.8 208.4,220.9 208.5,221.0 208.6,221.0 208.7,221.0 208.8,221.0 208.9,220.9 209.0,220.8 209.1,220.8 209.2,220.8 209.3,220.8 209.4,220.9 209.5,221.0 209.6,221.0 209.7,221.1 209.8,221.0 209.9,220.9 210.0,220.8 210.1,220.7 210.2,220.7 210.3,220.7 210.4,220.8 210.5,220.9 210.6,221.1 210.7,221.2 210.8,221.1 210.8,221.0 210.9,220.9 211.0,220.7 211.1,220.6 211.2,220.6 211.3,220.7 211.4,220.9 211.5,221.1 211.6,221.2 211.7,221.3 211.8,221.2 211.9,221.0 212.0,220.7 212.1,220.5 212.2,220.4 212.3,220.5 212.4,220.8 212.5,221.1 212.6,221.3 212.7,221.4 212.8,221.3 212.9,221.1 213.0,220.8 213.1,220.5 213.2,220.4 213.2,220.5 213.3,220.7 213.4,220.9 213.5,221.2 213.6,221.3 213.7,221.3 213.8,221.1 213.9,220.9 214.0,220.7 214.1,220.5 214.2,220.5 214.3,220.6 214.4,220.8 214.5,221.1 214.6,221.3 214.7,221.4 214.8,221.3 214.9,221.0 215.0,220.7 215.1,220.4 215.2,220.2 215.3,220.3 215.4,220.6 215.5,221.1 215.6,221.6 215.6,221.9 215.7,221.9 215.8,221.5 215.9,220.8 216.0,220.0 216.1,219.4 216.2,219.4 216.3,219.9 216.4,220.8 216.5,221.9 216.6,222.8 216.7,223.0 216.8,222.4 216.9,221.2 217.0,219.9 217.1,218.8 217.2,218.4 217.3,218.9 217.4,220.2 217.5,221.8 217.6,223.0 217.7,223.6 217.8,223.1 217.9,221.9 218.0,220.3 218.0,219.0 218.1,218.4 218.2,218.6 218.3,219.7 218.4,221.1 218.5,222.4 218.6,223.2 218.7,223.1 218.8,222.2 218.9,221.0 219.0,219.7 219.1,219.0 219.2,218.9 219.3,219.5 219.4,220.6 219.5,221.7 219.6,222.6 219.7,222.8 219.8,222.4 219.9,221.4 220.0,220.2 220.1,219.3 220.2,218.8 220.3,219.1 220.4,220.0 220.4,221.4 220.5,222.8 220.6,223.6 220.7,223.5 220.8,222.4 220.9,220.6 221.0,218.6 221.1,217.2 221.2,217.0 221.3,218.3 221.4,220.6 221.5,223.2 221.6,225.1 221.7,225.4 221.8,224.0 221.9,221.2 222.0,217.9 222.1,215.4 222.2,214.6 222.3,215.9 222.4,218.9 222.5,222.6 222.6,225.8 222.7,227.2 222.8,226.4 222.8,223.9 222.9,220.5 223.0,217.5 223.1,216.2 223.2,216.9 223.3,219.4 223.4,222.6 223.5,225.5 223.6,226.9 223.7,226.3 223.8,224.0 223.9,220.9 224.0,217.8 224.1,215.9 224.2,215.4 224.3,216.4 224.4,218.2 224.5,220.1 224.6,221.3 224.7,221.5 224.8,220.8 224.9,219.4 225.0,218.0 225.1,217.0 225.2,217.0 225.2,218.0 225.3,219.7 225.4,221.8 225.5,223.7 225.6,225.0 225.7,225.3 225.8,224.7 225.9,223.4 226.0,221.9 226.1,220.8 226.2,220.5 226.3,221.1 226.4,222.4 226.5,223.8 226.6,224.6 226.7,224.2 226.8,222.4 226.9,219.4 227.0,216.0 227.1,213.2 227.2,211.8 227.3,212.5 227.4,214.8 227.5,218.0 227.6,221.0 227.6,222.6 227.7,222.2 227.8,220.1 227.9,217.2 228.0,214.8 228.1,214.0 228.2,215.4 228.3,218.8 228.4,223.3 228.5,227.4 228.6,229.9 228.7,230.1 228.8,228.0 228.9,224.6 229.0,221.1 229.1,218.6 229.2,217.8 229.3,218.6 229.4,220.3 229.5,221.9 229.6,222.4 229.7,221.4 229.8,218.9 229.9,215.6 230.0,212.2 230.0,209.8 230.1,208.7 230.2,209.1 230.3,210.6 230.4,212.8 230.5,215.0 230.6,216.9 230.7,218.2 230.8,219.0 230.9,219.7 231.0,220.7 231.1,222.2 231.2,224.4 231.3,227.1 231.4,230.0 231.5,232.6 231.6,234.2 231.7,234.4 231.8,233.0 231.9,230.1 232.0,226.4 232.1,222.6 232.2,219.3 232.3,216.8 232.4,215.4 232.4,214.5 232.5,213.5 232.6,211.9 232.7,209.3 232.8,206.0 232.9,202.6 233.0,200.2 233.1,199.6 233.2,201.4 233.3,205.4 233.4,210.8 233.5,216.6 233.6,221.5 233.7,224.9 233.8,226.5 233.9,226.8 234.0,226.8 234.1,227.2 234.2,228.7 234.3,231.1 234.4,233.8 234.5,235.9 234.6,236.5 234.7,235.0 234.8,231.5 234.8,226.7 234.9,221.4 235.0,216.6 235.1,213.0 235.2,210.9 235.3,210.0 235.4,209.8 235.5,209.7 235.6,209.4 235.7,208.8 235.8,208.0 235.9,207.5 236.0,207.7 236.1,208.9 236.2,211.1 236.3,214.1 236.4,217.5 236.5,220.9 236.6,223.7 236.7,225.7 236.8,226.8 236.9,227.1 237.0,226.8 237.1,226.4 237.2,226.0 237.3,226.2 237.4,226.4 237.5,226.2 237.6,225.2 237.7,223.3 237.8,220.5 237.9,217.3 238.0,214.2 238.1,212.0 238.2,211.1 238.3,211.5 238.4,212.9 238.5,214.7 238.6,216.0 238.7,216.4 238.8,215.8 238.9,214.6 239.0,213.5 239.1,213.3 239.2,214.4 239.3,217.1 239.4,220.7 239.5,224.4 239.6,227.4 239.6,229.0 239.7,228.9 239.8,227.6 239.9,225.7 240.0,223.9 240.1,222.9 240.2,222.8 240.3,223.2 240.4,223.7 240.5,223.6 240.6,222.4 240.7,220.1 240.8,216.9 240.9,213.4 241.0,210.4 241.1,208.3 241.2,207.4 241.3,207.5 241.4,208.4 241.5,209.8 241.6,211.2 241.7,212.6 241.8,213.9 241.9,215.2 242.0,216.8 242.0,218.8 242.1,221.4 242.2,224.3 242.3,227.4 242.4,230.2 242.5,232.4 242.6,233.7 242.7,233.8 242.8,232.8 242.9,230.9 243.0,228.4 243.1,225.9 243.2,223.5 243.3,221.6 243.4,219.9 243.5,218.3 243.6,216.4 243.7,213.9 243.8,211.1 243.9,208.0 244.0,205.5 244.1,203.9 244.2,203.9 244.3,205.5 244.4,208.4 244.4,211.9 244.5,215.4 244.6,218.3 244.7,220.1 244.8,221.1 244.9,221.7 245.0,222.4 245.1,223.7 245.2,225.7 245.3,228.1 245.4,230.4 245.5,231.8 245.6,232.0 245.7,230.8 245.8,228.3 245.9,225.2 246.0,222.1 246.1,219.5 246.2,217.7 246.3,216.8 246.4,216.3 246.5,216.0 246.6,215.4 246.7,214.6 246.8,213.5 246.8,212.5 246.9,211.9 247.0,211.8 247.1,212.5 247.2,213.9 247.3,215.8 247.4,217.8 247.5,219.7 247.6,221.2 247.7,222.2 247.8,222.9 247.9,223.2 248.0,223.4 248.1,223.6 248.2,223.9 248.3,224.4 248.4,224.9 248.5,225.1 248.6,225.0 248.7,224.2 248.8,222.8 248.9,221.0 249.0,219.0 249.1,217.2 249.2,216.0 249.2,215.6 249.3,215.8 249.4,216.3 249.5,216.8 249.6,216.9 249.7,216.4 249.8,215.5 249.9,214.6 250.0,214.0 250.1,214.4 250.2,215.8 250.3,218.0 250.4,220.7 250.5,223.3 250.6,225.1 250.7,226.0 250.8,225.9 250.9,225.2 251.0,224.4 251.1,223.9 251.2,223.9 251.3,224.4 251.4,225.0 251.5,225.3 251.6,224.9 251.6,223.5 251.7,221.3 251.8,218.7 251.9,216.1 252.0,213.9 252.1,212.5 252.2,211.8 252.3,211.8 252.4,212.2 252.5,212.7 252.6,213.2 252.7,213.7 252.8,214.2 252.9,215.0 253.0,216.1 253.1,217.6 253.2,219.6 253.3,221.9 253.4,224.2 253.5,226.3 253.6,227.9 253.7,228.9 253.8,229.1 253.9,228.7 254.0,227.8 254.0,226.7 254.1,225.5 254.2,224.5 254.3,223.6 254.4,222.6 254.5,221.4 254.6,219.9 254.7,217.8 254.8,215.4 254.9,213.1 255.0,211.2 255.1,210.1 255.2,210.1 255.3,211.1 255.4,212.9 255.5,214.9 255.6,216.6 255.7,217.8 255.8,218.4 255.9,218.6 256.0,218.9 256.1,219.7 256.2,221.0 256.3,223.0 256.4,225.2 256.4,227.0 256.5,228.2 256.6,228.2 256.7,227.2 256.8,225.5 256.9,223.6 257.0,221.8 257.1,220.5 257.2,219.9 257.3,219.6 257.4,219.5 257.5,219.2 257.6,218.5 257.7,217.5 257.8,216.3 257.9,215.2 258.0,214.5 258.1,214.3 258.2,214.8 258.3,215.7 258.4,217.0 258.5,218.2 258.6,219.4 258.7,220.2 258.8,220.8 258.8,221.1 258.9,221.4 259.0,221.8 259.1,222.3 259.2,223.0 259.3,223.7 259.4,224.4 259.5,224.8 259.6,224.7 259.7,224.0 259.8,222.9 259.9,221.4 260.0,219.9 260.1,218.7 260.2,217.9 260.3,217.6 260.4,217.6 260.5,217.7 260.6,217.5 260.7,216.9 260.8,215.9 260.9,214.8 261.0,213.9 261.1,213.6 261.2,214.3 261.2,215.8 261.3,217.9 261.4,220.3 261.5,222.3 261.6,223.7 261.7,224.3 261.8,224.3 261.9,224.1 262.0,224.0 262.1,224.3 262.2,225.1 262.3,226.0 262.4,226.7 262.5,226.8 262.6,226.1 262.7,224.6 262.8,222.3 262.9,219.9 263.0,217.5 263.1,215.6 263.2,214.4 263.3,213.7 263.4,213.4 263.5,213.3 263.6,213.2 263.7,213.1 263.8,213.3 263.9,213.8 264.0,214.8 264.1,216.3 264.2,218.3 264.3,220.4 264.4,222.6 264.5,224.5 264.6,225.9 264.7,226.9 264.8,227.3 264.9,227.3 265.0,226.9 265.1,226.5 265.2,225.9 265.3,225.4 265.4,224.9 265.5,224.1 265.6,222.9 265.7,221.3 265.8,219.3 265.9,217.1 266.0,215.1 266.0,213.5 266.1,212.7 266.2,212.8 266.3,213.5 266.4,214.6 266.5,215.7 266.6,216.5 266.7,216.9 266.8,217.0 266.9,217.1 267.0,217.5 267.1,218.5 267.2,220.1 267.3,222.0 267.4,224.0 267.5,225.5 267.6,226.3 267.7,226.2 267.8,225.3 267.9,224.1 268.0,222.8 268.1,221.8 268.2,221.3 268.3,221.1 268.4,221.1 268.4,221.0 268.5,220.5 268.6,219.6 268.7,218.4 268.8,217.1 268.9,216.0 269.0,215.4 269.1,215.2 269.2,215.6 269.3,216.3 269.4,217.1 269.5,218.0 269.6,218.7 269.7,219.2 269.8,219.6 269.9,220.1 270.0,220.5 270.1,221.2 270.2,222.1 270.3,223.0 270.4,223.9 270.5,224.7 270.6,225.0 270.7,224.9 270.8,224.4 270.8,223.4 270.9,222.3 271.0,221.1 271.1,220.2 271.2,219.5 271.3,219.1 271.4,218.7 271.5,218.3 271.6,217.5 271.7,216.4 271.8,215.1 271.9,214.0 272.0,213.2 272.1,213.2 272.2,214.0 272.3,215.5 272.4,217.4 272.5,219.3 272.6,220.9 272.7,221.9 272.8,222.5 272.9,222.8 273.0,223.0 273.1,223.6 273.2,224.5 273.2,225.7 273.3,226.8 273.4,227.5 273.5,227.5 273.6,226.7 273.7,225.2 273.8,223.1 273.9,221.0 274.0,219.1 274.1,217.7 274.2,216.7 274.3,216.0 274.4,215.6 274.5,215.1 274.6,214.6 274.7,214.1 274.8,213.7 274.9,213.6 275.0,213.9 275.1,214.7 275.2,216.0 275.3,217.6 275.4,219.4 275.5,221.0 275.6,222.5 275.6,223.6 275.7,224.4 275.8,224.8 275.9,225.0 276.0,225.0 276.1,225.0 276.2,225.0 276.3,224.9 276.4,224.7 276.5,224.2 276.6,223.3 276.7,222.0 276.8,220.4 276.9,218.8 277.0,217.4 277.1,216.3 277.2,215.9 277.3,216.0 277.4,216.5 277.5,217.1 277.6,217.5 277.7,217.6 277.8,217.4 277.9,217.1 278.0,217.0 278.0,217.4 278.1,218.3 278.2,219.7 278.3,221.3 278.4,222.8 278.5,223.8 278.6,224.2 278.7,224.0 278.8,223.3 278.9,222.5 279.0,221.9 279.1,221.6 279.2,221.6 279.3,221.9 279.4,222.1 279.5,222.0 279.6,221.4 279.7,220.5 279.8,219.3 279.9,218.1 280.0,217.1 280.1,216.6 280.2,216.5 280.3,216.7 280.4,217.2 280.4,217.7 280.5,218.1 280.6,218.4 280.7,218.7 280.8,218.9 280.9,219.3 281.0,219.9 281.1,220.7 281.2,221.7 281.3,222.7 281.4,223.6 281.5,224.4 281.6,224.7 281.7,224.7 281.8,224.3 281.9,223.7 282.0,222.9 282.1,222.2 282.2,221.6 282.3,221.1 282.4,220.7 282.5,220.1 282.6,219.4 282.7,218.3 282.8,217.0 282.8,215.7 282.9,214.6 283.0,213.9 283.1,214.0 283.2,214.7 283.3,215.9 283.4,217.3 283.5,218.6 283.6,219.6 283.7,220.3 283.8,220.7 283.9,221.0 284.0,221.6 284.1,222.5 284.2,223.7 284.3,225.1 284.4,226.2 284.5,226.9 284.6,226.8 284.7,226.1 284.8,224.8 284.9,223.3 285.0,221.8 285.1,220.5 285.2,219.6 285.2,218.9 285.3,218.4 285.4,217.9 285.5,217.3 285.6,216.6 285.7,215.8 285.8,215.2 285.9,215.0 286.0,215.1 286.1,215.6 286.2,216.6 286.3,217.7 286.4,219.0 286.5,220.1 286.6,221.1 286.7,221.9 286.8,222.4 286.9,222.8 287.0,223.0 287.1,223.3 287.2,223.6 287.3,223.9 287.4,224.0 287.5,224.0 287.6,223.7 287.6,223.0 287.7,222.1 287.8,220.9 287.9,219.8 288.0,218.9 288.1,218.3 288.2,218.1 288.3,218.2 288.4,218.4 288.5,218.6 288.6,218.6 288.7,218.3 288.8,217.8 288.9,217.4 289.0,217.3 289.1,217.7 289.2,218.6 289.3,219.8 289.4,221.0 289.5,222.1 289.6,222.8 289.7,222.9 289.8,222.6 289.9,222.2 290.0,221.8 290.0,221.6 290.1,221.8 290.2,222.1 290.3,222.5 290.4,222.7 290.5,222.5 290.6,221.9 290.7,220.9 290.8,219.7 290.9,218.7 291.0,217.9 291.1,217.5 291.2,217.4 291.3,217.5 291.4,217.7 291.5,217.9 291.6,218.0 291.7,218.0 291.8,218.1 291.9,218.3 292.0,218.7 292.1,219.4 292.2,220.2 292.3,221.2 292.4,222.2 292.4,223.2 292.5,223.8 292.6,224.2 292.7,224.3 292.8,224.1 292.9,223.8 293.0,223.3 293.1,223.0 293.2,222.6 293.3,222.3 293.4,221.8 293.5,221.2 293.6,220.3 293.7,219.2 293.8,217.9 293.9,216.7 294.0,215.7 294.1,215.2 294.2,215.3 294.3,215.9 294.4,216.7 294.5,217.6 294.6,218.4 294.7,218.9 294.8,219.1 294.8,219.4 294.9,219.8 295.0,220.5 295.1,221.5 295.2,222.8 295.3,224.0 295.4,225.0 295.5,225.6 295.6,225.5 295.7,224.9 295.8,223.9 295.9,222.8 296.0,221.9 296.1,221.2 296.2,220.8 296.3,220.5 296.4,220.2 296.5,219.7 296.6,219.1 296.7,218.3 296.8,217.5 296.9,216.9 297.0,216.6 297.1,216.6 297.2,217.0 297.2,217.6 297.3,218.4 297.4,219.2 297.5,219.9 297.6,220.4 297.7,220.8 297.8,221.1 297.9,221.4 298.0,221.7 298.1,222.0 298.2,222.5 298.3,222.8 298.4,223.1 298.5,223.2 298.6,223.0 298.7,222.5 298.8,221.8 298.9,221.0 299.0,220.3 299.1,219.8 299.2,219.5 299.3,219.5 299.4,219.6 299.5,219.7 299.6,219.6 299.6,219.2 299.7,218.7 299.8,218.2 299.9,217.8 300.0,217.8 300.1,218.2 300.2,219.0 300.3,220.0 300.4,220.9 300.5,221.6 300.6,222.0 300.7,222.0 300.8,221.7 300.9,221.5 301.0,221.4 301.1,221.6 301.2,222.1 301.3,222.6 301.4,223.0 301.5,223.1 301.6,222.8 301.7,222.1 301.8,221.2 301.9,220.2 302.0,219.3 302.0,218.7 302.1,218.4 302.2,218.3 302.3,218.2 302.4,218.2 302.5,218.2 302.6,218.0 302.7,217.9 302.8,217.8 302.9,217.9 303.0,218.3 303.1,219.0 303.2,219.8 303.3,220.7 303.4,221.7 303.5,222.5 303.6,223.1 303.7,223.4 303.8,223.6 303.9,223.6 304.0,223.5 304.1,223.4 304.2,223.2 304.3,223.1 304.4,222.9 304.4,222.5 304.5,221.9 304.6,221.1 304.7,220.0 304.8,218.9 304.9,217.9 305.0,217.1 305.1,216.8 305.2,216.9 305.3,217.2 305.4,217.7 305.5,218.2 305.6,218.4 305.7,218.6 305.8,218.6 305.9,218.7 306.0,219.1 306.1,219.8 306.2,220.8 306.3,222.0 306.4,223.0 306.5,223.8 306.6,224.1 306.7,224.0 306.8,223.5 306.8,222.8 306.9,222.2 307.0,221.8 307.1,221.5 307.2,221.5 307.3,221.4 307.4,221.2 307.5,220.7 307.6,220.1 307.7,219.4 307.8,218.7 307.9,218.2 308.0,217.9 308.1,218.0 308.2,218.2 308.3,218.7 308.4,219.1 308.5,219.5 308.6,219.9 308.7,220.1 308.8,220.3 308.9,220.4 309.0,220.7 309.1,221.0 309.2,221.4 309.2,221.8 309.3,222.2 309.4,222.4 309.5,222.5 309.6,222.4 309.7,222.0 309.8,221.6 309.9,221.1 310.0,220.7 310.1,220.5 310.2,220.4 310.3,220.4 310.4,220.4 310.5,220.3 310.6,220.0 310.7,219.5 310.8,218.9 310.9,218.4 311.0,218.2 311.1,218.2 311.2,218.6 311.3,219.3 311.4,220.1 311.5,220.7 311.6,221.1 311.6,221.3 311.7,221.2 311.8,221.1 311.9,221.1 312.0,221.3 312.1,221.7 312.2,222.3 312.3,222.9 312.4,223.2 312.5,223.2 312.6,222.9 312.7,222.2 312.8,221.4 312.9,220.6 313.0,220.0 313.1,219.6 313.2,219.3 313.3,219.2 313.4,219.1 313.5,218.9 313.6,218.6 313.7,218.3 313.8,218.0 313.9,217.9 314.0,218.0 314.0,218.4 314.1,218.9 314.2,219.6 314.3,220.3 314.4,221.1 314.5,221.7 314.6,222.1 314.7,222.4 314.8,222.6 314.9,222.7 315.0,222.8 315.1,222.9 315.2,223.0 315.3,223.0 315.4,222.9 315.5,222.6 315.6,222.1 315.7,221.4 315.8,220.6 315.9,219.8 316.0,219.1 316.1,218.6 316.2,218.4 316.3,218.5 316.4,218.7 316.4,218.9 316.5,219.0 316.6,218.9 316.7,218.8 316.8,218.7 316.9,218.8 317.0,219.1 317.1,219.7 317.2,220.5 317.3,221.4 317.4,222.1 317.5,222.6 317.6,222.7 317.7,222.5 317.8,222.2 317.9,221.8 318.0,221.6 318.1,221.5 318.2,221.5 318.3,221.6 318.4,221.7 318.5,221.5 318.6,221.2 318.7,220.7 318.8,220.1 318.8,219.6 318.9,219.2 319.0,219.1 319.1,219.1 319.2,219.3 319.3,219.6 319.4,219.8 319.5,219.9 319.6,220.0 319.7,220.1 319.8,220.1 319.9,220.2 320.0,220.4 320.1,220.7 320.2,221.1 320.3,221.4 320.4,221.7 320.5,221.9 320.6,222.0 320.7,221.9 320.8,221.7 320.9,221.4 321.0,221.2 321.1,221.0 321.2,220.9 321.3,220.9 321.4,220.8 321.5,220.6 321.6,220.2 321.7,219.8 321.8,219.3 321.9,218.9 322.0,218.7 322.1,218.8 322.2,219.2 322.3,219.6 322.4,220.1 322.5,220.5 322.6,220.7 322.7,220.7 322.8,220.6 322.9,220.6 323.0,220.8 323.1,221.2 323.2,221.7 323.3,222.2 323.4,222.7 323.5,222.9 323.6,222.9 323.6,222.5 323.7,222.0 323.8,221.5 323.9,221.0 324.0,220.6 324.1,220.4 324.2,220.3 324.3,220.1 324.4,220.0 324.5,219.7 324.6,219.4 324.7,219.0 324.8,218.7 324.9,218.6 325.0,218.7 325.1,218.9 325.2,219.3 325.3,219.7 325.4,220.2 325.5,220.7 325.6,221.0 325.7,221.3 325.8,221.5 325.9,221.7 326.0,221.8 326.0,222.0 326.1,222.2 326.2,222.3 326.3,222.4 326.4,222.4 326.5,222.2 326.6,221.9 326.7,221.4 326.8,220.9 326.9,220.4 327.0,220.1 327.1,219.9 327.2,219.8 327.3,219.9 327.4,219.9 327.5,219.9 327.6,219.9 327.7,219.7 327.8,219.5 327.9,219.4 328.0,219.4 328.1,219.7 328.2,220.1 328.3,220.6 328.4,221.1 328.4,221.5 328.5,221.7 328.6,221.6 328.7,221.5 328.8,221.3 328.9,221.1 329.0,221.1 329.1,221.2 329.2,221.4 329.3,221.5 329.4,221.6 329.5,221.5 329.6,221.2 329.7,220.9 329.8,220.5 329.9,220.2 330.0,220.0 330.1,220.0 330.2,220.0 330.3,220.2 330.4,220.3 330.5,220.3 330.6,220.3 330.7,220.3 330.8,220.3 330.9,220.3 331.0,220.5 331.1,220.7 331.2,220.9 331.3,221.2 331.4,221.4 331.5,221.5 331.6,221.5 331.7,221.5 331.8,221.4 331.9,221.3 332.0,221.2 332.1,221.1 332.2,221.2 332.3,221.2 332.4,221.2 332.5,221.1 332.6,220.9 332.7,220.6 332.8,220.2 332.9,219.9 333.0,219.7 333.1,219.7 333.2,219.8 333.2,220.0 333.3,220.2 333.4,220.4 333.5,220.5 333.6,220.5 333.7,220.5 333.8,220.4 333.9,220.5 334.0,220.6 334.1,220.9 334.2,221.3 334.3,221.7 334.4,221.9 334.5,222.0 334.6,221.9 334.7,221.7 334.8,221.4 334.9,221.1 335.0,221.0 335.1,220.9 335.2,220.8 335.3,220.8 335.4,220.8 335.5,220.7 335.6,220.5 335.6,220.3 335.7,220.1 335.8,219.9 335.9,219.9 336.0,219.9 336.1,220.0 336.2,220.2 336.3,220.3 336.4,220.5 336.5,220.6 336.6,220.7 336.7,220.7 336.8,220.8 336.9,220.8 337.0,220.8 337.1,220.9 337.2,221.0 337.3,221.1 337.4,221.1 337.5,221.1 337.6,221.0 337.7,220.9 337.8,220.8 337.9,220.6 338.0,220.5 338.1,220.5 338.2,220.5 338.3,220.6 338.4,220.6 338.5,220.6 338.6,220.5 338.7,220.4 338.8,220.3 338.9,220.3 339.0,220.3 339.1,220.4 339.2,220.5 339.3,220.6 339.4,220.7 339.5,220.7 339.6,220.7 339.7,220.6 339.8,220.5 339.9,220.4 340.0,220.4 340.1,220.4 340.2,220.4 340.3,220.5 340.4,220.6 340.5,220.6 340.6,220.6 340.7,220.5 340.8,220.4 340.9,220.4 341.0,220.4 341.1,220.4 341.2,220.5 341.3,220.5 341.4,220.6 341.5,220.6 341.6,220.5 341.7,220.5 341.8,220.5 341.9,220.4 342.0,220.4 342.1,220.5 342.2,220.5 342.3,220.5 342.4,220.5 342.5,220.5 342.6,220.5 342.7,220.5 342.8,220.5 342.9,220.4 343.0,220.4 343.1,220.5 343.2,220.5 343.3,220.5 343.4,220.6 343.5,220.6 343.6,220.5 343.7,220.5 343.8,220.5 343.9,220.4 344.0,220.4 344.1,220.4 344.2,220.5 344.3,220.5 344.4,220.6 344.5,220.6 344.6,220.6 344.7,220.5 344.8,220.5 344.9,220.4 345.0,220.4 345.1,220.4 345.2,220.5 345.3,220.6 345.4,220.6 345.5,220.6 345.6,220.6 345.7,220.5 345.8,220.4 345.9,220.4 346.0,220.4 346.1,220.4 346.2,220.5 346.3,220.5 346.4,220.6 346.5,220.6 346.6,220.6 346.7,220.5 346.8,220.5 346.9,220.4 347.0,220.4 347.1,220.4 347.2,220.5 347.3,220.5 347.4,220.5 347.5,220.5 347.6,220.5 347.7,220.5 347.8,220.5 347.9,220.5 348.0,220.5 348.1,220.5 348.2,220.5 348.3,220.5 348.4,220.5 348.5,220.5 348.6,220.5 348.7,220.5 348.8,220.5 348.9,220.4 349.0,220.4 349.1,220.5 349.2,220.5 349.3,220.5 349.4,220.6 349.5,220.6 349.6,220.6 349.7,220.5 349.8,220.5 349.9,220.4 350.0,220.4 350.1,220.5 350.2,220.5 350.3,220.6 350.4,220.6 350.5,220.6 350.6,220.6 350.7,220.5 350.8,220.4 350.9,220.4 351.0,220.4 351.1,220.4 351.2,220.5 351.3,220.6 351.4,220.6 351.5,220.6 351.6,220.6 351.7,220.5 351.8,220.5 351.9,220.4 352.0,220.4 352.1,220.4 352.2,220.5 352.3,220.5 352.4,220.6 352.5,220.5 352.6,220.5 352.7,220.5 352.8,220.5 352.9,220.4 353.0,220.5 353.1,220.5 353.2,220.5 353.3,220.5 353.4,220.5 353.5,220.5 353.6,220.5 353.7,220.5 353.8,220.5 353.9,220.5 354.0,220.5 354.1,220.5 354.2,220.5 354.3,220.5 354.4,220.5 354.5,220.6 354.6,220.5 354.7,220.5 354.8,220.5 354.8,220.4 354.9,220.4 355.0,220.4 355.1,220.5 355.2,220.5 355.3,220.6 355.4,220.6 355.5,220.6 355.6,220.5 355.7,220.5 355.8,220.4 355.9,220.4 356.0,220.4 356.1,220.4 356.2,220.5 356.3,220.5 356.4,220.6 356.5,220.6 356.6,220.6 356.7,220.5 356.8,220.5 356.9,220.4 357.0,220.4 357.1,220.4 357.2,220.5 357.3,220.6 357.4,220.6 357.5,220.6 357.6,220.5 357.7,220.5 357.8,220.5 357.9,220.4 358.0,220.4 358.1,220.5 358.2,220.5 358.3,220.5 358.4,220.5 358.5,220.5 358.6,220.5 358.7,220.5 358.8,220.5 358.9,220.5 359.0,220.5 359.1,220.5 359.2,220.5 359.3,220.5 359.4,220.5 359.5,220.5 359.6,220.5 359.7,220.5 359.8,220.5 359.9,220.5 360.0,220.5 360.1,220.5 360.2,220.5 360.3,220.5 360.4,220.6 360.5,220.6 360.6,220.5 360.7,220.5 360.8,220.5 360.9,220.4 361.0,220.4 361.1,220.5 361.2,220.5 361.3,220.5 361.4,220.6 361.5,220.6 361.6,220.6 361.7,220.5 361.8,220.5 361.9,220.4 362.0,220.4 362.1,220.5 362.2,220.5 362.3,220.6 362.4,220.6 362.5,220.6 362.6,220.5 362.7,220.5 362.8,220.4 362.9,220.4 363.0,220.4 363.1,220.5 363.2,220.5" fill="none" stroke="#f42c32" stroke-width="0.95" stroke-linejoin="round"/>
<text x="169.82" y="284.20" font-size="5.0" class="sn" textLength="2.8" lengthAdjust="spacingAndGlyphs">0</text>
<line x1="209.60" y1="219.70" x2="209.60" y2="221.00" stroke="#1c1c1c" stroke-width="0.5"/>
<text x="206.85" y="284.20" font-size="5.0" class="sn" textLength="5.5" lengthAdjust="spacingAndGlyphs">20</text>
<line x1="248.00" y1="219.70" x2="248.00" y2="221.00" stroke="#1c1c1c" stroke-width="0.5"/>
<text x="245.25" y="284.20" font-size="5.0" class="sn" textLength="5.5" lengthAdjust="spacingAndGlyphs">40</text>
<line x1="286.40" y1="219.70" x2="286.40" y2="221.00" stroke="#1c1c1c" stroke-width="0.5"/>
<text x="283.65" y="284.20" font-size="5.0" class="sn" textLength="5.5" lengthAdjust="spacingAndGlyphs">60</text>
<line x1="324.80" y1="219.70" x2="324.80" y2="221.00" stroke="#1c1c1c" stroke-width="0.5"/>
<text x="322.05" y="284.20" font-size="5.0" class="sn" textLength="5.5" lengthAdjust="spacingAndGlyphs">80</text>
<line x1="363.20" y1="219.70" x2="363.20" y2="221.00" stroke="#1c1c1c" stroke-width="0.5"/>
<text x="359.08" y="284.20" font-size="5.0" class="sn" textLength="8.2" lengthAdjust="spacingAndGlyphs">100</text>
<text x="397.48" y="284.20" font-size="5.0" class="sn" textLength="8.2" lengthAdjust="spacingAndGlyphs">120</text>
<text x="158.53" y="275.70" font-size="5.0" class="sn" textLength="7.2" lengthAdjust="spacingAndGlyphs">-20</text>
<line x1="171.20" y1="260.67" x2="172.50" y2="260.67" stroke="#1c1c1c" stroke-width="0.5"/>
<text x="158.53" y="262.47" font-size="5.0" class="sn" textLength="7.2" lengthAdjust="spacingAndGlyphs">-15</text>
<line x1="171.20" y1="247.45" x2="172.50" y2="247.45" stroke="#1c1c1c" stroke-width="0.5"/>
<text x="158.53" y="249.25" font-size="5.0" class="sn" textLength="7.2" lengthAdjust="spacingAndGlyphs">-10</text>
<line x1="171.20" y1="234.22" x2="172.50" y2="234.22" stroke="#1c1c1c" stroke-width="0.5"/>
<text x="161.28" y="236.02" font-size="5.0" class="sn" textLength="4.4" lengthAdjust="spacingAndGlyphs">-5</text>
<line x1="171.20" y1="221.00" x2="172.50" y2="221.00" stroke="#1c1c1c" stroke-width="0.5"/>
<text x="162.95" y="222.80" font-size="5.0" class="sn" textLength="2.8" lengthAdjust="spacingAndGlyphs">0</text>
<line x1="171.20" y1="207.77" x2="172.50" y2="207.77" stroke="#1c1c1c" stroke-width="0.5"/>
<text x="162.95" y="209.57" font-size="5.0" class="sn" textLength="2.8" lengthAdjust="spacingAndGlyphs">5</text>
<line x1="171.20" y1="194.55" x2="172.50" y2="194.55" stroke="#1c1c1c" stroke-width="0.5"/>
<text x="160.20" y="196.35" font-size="5.0" class="sn" textLength="5.5" lengthAdjust="spacingAndGlyphs">10</text>
<line x1="171.20" y1="181.32" x2="172.50" y2="181.32" stroke="#1c1c1c" stroke-width="0.5"/>
<text x="160.20" y="183.12" font-size="5.0" class="sn" textLength="5.5" lengthAdjust="spacingAndGlyphs">15</text>
<text x="160.20" y="169.90" font-size="5.0" class="sn" textLength="5.5" lengthAdjust="spacingAndGlyphs">20</text>
<rect x="171.2" y="168.1" width="230.40" height="105.80" fill="none" stroke="#666666" stroke-width="0.8"/>
<path d="M401.6 168.1V273.9H171.2" fill="none" stroke="#3c3c3c" stroke-width="0.9"/>
<text x="258.10" y="296.20" font-size="7.9" class="sf" textLength="32.0" lengthAdjust="spacingAndGlyphs">Time (Sec)</text>
<g transform="translate(151.70,254.90) rotate(-90)"><text x="0.00" y="0.00" font-size="7.1" class="sf" textLength="73.0" lengthAdjust="spacingAndGlyphs" xml:space="preserve">Roof  displacement (cm)</text></g>
<rect x="315.3" y="171.6" width="81.20" height="26.20" fill="#fff" stroke="#4a4a4a" stroke-width="0.7"/>
<line x1="321.5" y1="177.1" x2="330" y2="177.1" stroke="#909090" stroke-width="0.7"/>
<text x="331.10" y="179.23" font-size="6.1" class="sn" textLength="43.2" lengthAdjust="spacingAndGlyphs">Original structure</text>
<line x1="321.5" y1="184.3" x2="330" y2="184.3" stroke="#f42c32" stroke-width="0.8"/>
<text x="332.40" y="186.44" font-size="6.1" class="sn" textLength="37.8" lengthAdjust="spacingAndGlyphs">SC-DSD Retrofit</text>
<line x1="321.5" y1="191.4" x2="330" y2="191.4" stroke="#2390d6" stroke-width="1.2"/>
<text x="331.10" y="193.53" font-size="6.1" class="sn" textLength="60.1" lengthAdjust="spacingAndGlyphs">Conventional SD Retrofit</text>
<path d="M363.2 218.8V225.6" stroke="#444" stroke-width="0.6" fill="none"/>
<path d="M363.4 221.5C367.5 222.5 368.8 226 367.6 229.5C366.3 233.5 362.5 236.5 359.3 238.2" stroke="#444" stroke-width="0.6" fill="none"/>
<path d="M358.3 238.9L360.7 238.3L359.5 236.8Z" fill="#333"/>
<text x="326.40" y="245.30" font-size="5.9" class="sn" textLength="66.7" lengthAdjust="spacingAndGlyphs">Max residual disp. (17 mm)</text>
<text x="248.70" y="323.00" font-size="10.9" class="sf cap" textLength="51.0" lengthAdjust="spacingAndGlyphs">(<tspan font-weight="bold">g</tspan>) Chi-Chi</text>
</svg>
</body></html>
